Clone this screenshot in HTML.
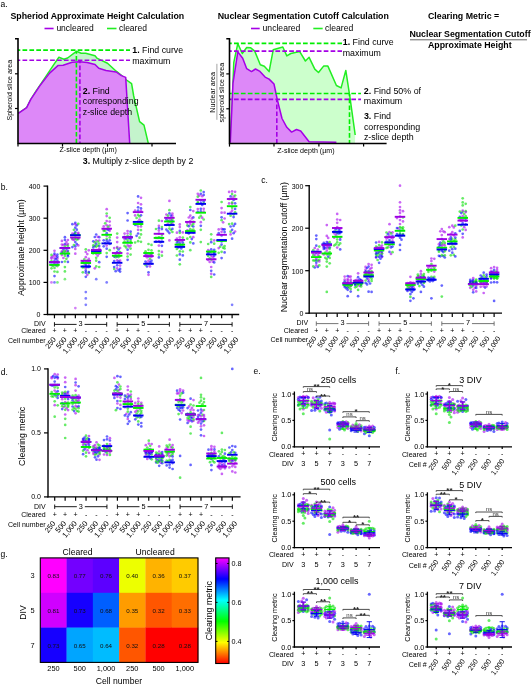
<!DOCTYPE html>
<html><head><meta charset="utf-8"><style>
html,body{margin:0;padding:0;background:#fff;}
svg{display:block;font-family:"Liberation Sans", Arial, sans-serif;}
</style></head><body>
<svg width="532" height="685" viewBox="0 0 532 685">
<rect width="532" height="685" fill="#fff"/>
<text x="0.50" y="6.50" font-size="8.5">a.</text>
<text x="97.30" y="19.10" font-size="8.8" text-anchor="middle" font-weight="bold">Spheriod Approximate Height Calculation</text>
<line x1="44.50" y1="28.50" x2="53.60" y2="28.50" stroke="#a500e6" stroke-width="1.6"/>
<text x="56.40" y="30.90" font-size="8.5">uncleared</text>
<line x1="107.00" y1="28.50" x2="116.50" y2="28.50" stroke="#22ee22" stroke-width="1.6"/>
<text x="119.00" y="30.90" font-size="8.5">cleared</text>
<polygon points="18.30,113.40 26.70,107.70 30.80,99.40 36.00,91.10 45.10,77.60 54.10,64.10 58.90,57.30 63.90,59.20 67.60,58.00 76.40,51.30 81.20,53.20 85.70,53.20 95.00,55.80 97.30,58.40 107.50,63.20 116.20,71.20 121.40,75.30 126.50,80.00 131.60,83.60 133.70,96.00 139.60,121.60 144.00,125.20 148.30,143.40 148.30,143.40 18.30,143.40" fill="#c4f4cc" stroke="none"/>
<polyline points="18.30,113.40 26.70,107.70 30.80,99.40 36.00,91.10 45.10,77.60 54.10,64.10 58.90,57.30 63.90,59.20 67.60,58.00 76.40,51.30 81.20,53.20 85.70,53.20 95.00,55.80 97.30,58.40 107.50,63.20 116.20,71.20 121.40,75.30 126.50,80.00 131.60,83.60 133.70,96.00 139.60,121.60 144.00,125.20 148.30,143.40" fill="none" stroke="#22ee22" stroke-width="1.5" stroke-linejoin="round"/>
<polygon points="18.30,113.40 26.70,107.70 30.80,99.40 39.80,85.90 49.60,73.10 57.90,65.60 63.10,65.30 72.10,62.30 79.70,61.80 87.20,62.60 95.00,64.40 98.80,68.30 106.00,70.50 116.20,72.00 121.40,75.60 125.70,77.40 129.70,143.40 18.30,143.40" fill="#dd88f8" stroke="none"/>
<polyline points="18.30,113.40 26.70,107.70 30.80,99.40 39.80,85.90 49.60,73.10 57.90,65.60 63.10,65.30 72.10,62.30 79.70,61.80 87.20,62.60 95.00,64.40 98.80,68.30 106.00,70.50 116.20,72.00 121.40,75.60 125.70,77.40 129.70,143.40" fill="none" stroke="#a500e6" stroke-width="1.5" stroke-linejoin="round"/>
<line x1="18.00" y1="50.10" x2="130.00" y2="50.10" stroke="#00ee00" stroke-width="1.6" stroke-dasharray="4.7 2.2" stroke-dashoffset="2.4"/>
<line x1="18.00" y1="60.30" x2="130.00" y2="60.30" stroke="#a500e6" stroke-width="1.6" stroke-dasharray="4.7 2.2" stroke-dashoffset="2.4"/>
<line x1="76.40" y1="51.50" x2="76.40" y2="143.00" stroke="#00ee00" stroke-width="1.6" stroke-dasharray="4.7 2.2" stroke-dashoffset="2.4"/>
<line x1="79.90" y1="61.00" x2="79.90" y2="143.00" stroke="#a500e6" stroke-width="1.6" stroke-dasharray="4.7 2.2" stroke-dashoffset="2.4"/>
<path d="M15,38.7 H18 V143.5 H176" fill="none" stroke="#000" stroke-width="1.6"/>
<line x1="15.00" y1="73.80" x2="18.00" y2="73.80" stroke="#000" stroke-width="1.2"/>
<line x1="15.00" y1="108.50" x2="18.00" y2="108.50" stroke="#000" stroke-width="1.2"/>
<line x1="18.00" y1="143.50" x2="18.00" y2="146.60" stroke="#000" stroke-width="1.2"/>
<line x1="62.50" y1="143.50" x2="62.50" y2="146.60" stroke="#000" stroke-width="1.2"/>
<line x1="107.50" y1="143.50" x2="107.50" y2="146.60" stroke="#000" stroke-width="1.2"/>
<line x1="152.00" y1="143.50" x2="152.00" y2="146.60" stroke="#000" stroke-width="1.2"/>
<text x="12.20" y="90.20" font-size="7.1" text-anchor="middle" transform="rotate(-90 12.20 90.20)">Spheroid slice area</text>
<text x="88.20" y="152.40" font-size="7.1" text-anchor="middle">Z-slice depth (µm)</text>
<text x="132.30" y="53.00" font-size="8.8"><tspan font-weight="bold">1.</tspan> Find curve</text>
<text x="132.30" y="64.10" font-size="8.8">maximum</text>
<text x="82.80" y="93.80" font-size="8.8"><tspan font-weight="bold">2.</tspan> Find</text>
<text x="82.80" y="104.40" font-size="8.8">corresponding</text>
<text x="82.80" y="115.00" font-size="8.8">z-slice depth</text>
<text x="82.80" y="164.40" font-size="8.8"><tspan font-weight="bold">3.</tspan> Multiply z-slice depth by 2</text>
<text x="303.30" y="18.90" font-size="8.8" text-anchor="middle" font-weight="bold">Nuclear Segmentation Cutoff Calculation</text>
<line x1="251.00" y1="28.50" x2="259.70" y2="28.50" stroke="#a500e6" stroke-width="1.6"/>
<text x="262.60" y="30.90" font-size="8.6">uncleared</text>
<line x1="313.30" y1="28.50" x2="322.70" y2="28.50" stroke="#22ee22" stroke-width="1.6"/>
<text x="325.00" y="30.90" font-size="8.6">cleared</text>
<polygon points="230.50,142.60 233.80,62.30 237.80,43.60 242.30,53.50 246.70,47.50 250.70,47.80 254.70,51.10 260.30,64.70 264.30,66.30 269.10,71.60 273.20,49.80 282.80,47.00 286.80,55.90 290.80,53.50 299.70,51.60 305.40,61.00 309.10,57.30 314.80,69.10 318.50,72.50 323.60,66.10 327.90,66.10 336.40,85.50 341.10,87.90 345.80,70.40 350.00,97.70 355.20,135.00 355.00,143.00 230.30,143.00" fill="#ccffcc" stroke="none"/>
<polyline points="230.50,142.60 233.80,62.30 237.80,43.60 242.30,53.50 246.70,47.50 250.70,47.80 254.70,51.10 260.30,64.70 264.30,66.30 269.10,71.60 273.20,49.80 282.80,47.00 286.80,55.90 290.80,53.50 299.70,51.60 305.40,61.00 309.10,57.30 314.80,69.10 318.50,72.50 323.60,66.10 327.90,66.10 336.40,85.50 341.10,87.90 345.80,70.40 350.00,97.70 355.20,135.00" fill="none" stroke="#22ee22" stroke-width="1.5" stroke-linejoin="round"/>
<polygon points="230.30,142.60 233.00,83.20 237.80,51.90 242.70,58.30 246.70,68.70 251.50,71.60 255.50,69.00 259.50,71.10 265.10,77.10 269.10,79.10 274.00,84.00 277.20,99.20 282.00,118.50 286.80,127.30 291.60,132.10 296.50,129.50 300.70,131.00 309.10,141.70 336.40,142.20 230.30,143.00" fill="#dd88f8" stroke="none"/>
<polyline points="230.30,142.60 233.00,83.20 237.80,51.90 242.70,58.30 246.70,68.70 251.50,71.60 255.50,69.00 259.50,71.10 265.10,77.10 269.10,79.10 274.00,84.00 277.20,99.20 282.00,118.50 286.80,127.30 291.60,132.10 296.50,129.50 300.70,131.00 309.10,141.70 336.40,142.20" fill="none" stroke="#a500e6" stroke-width="1.5" stroke-linejoin="round"/>
<line x1="229.50" y1="43.40" x2="342.00" y2="43.40" stroke="#00ee00" stroke-width="1.6" stroke-dasharray="4.7 2.2" stroke-dashoffset="2.4"/>
<line x1="229.50" y1="51.10" x2="342.00" y2="51.10" stroke="#a500e6" stroke-width="1.6" stroke-dasharray="4.7 2.2" stroke-dashoffset="2.4"/>
<line x1="229.50" y1="93.50" x2="361.00" y2="93.50" stroke="#00ee00" stroke-width="1.6" stroke-dasharray="4.7 2.2" stroke-dashoffset="2.4"/>
<line x1="229.50" y1="99.40" x2="361.00" y2="99.40" stroke="#a500e6" stroke-width="1.6" stroke-dasharray="4.7 2.2" stroke-dashoffset="2.4"/>
<line x1="276.80" y1="100.00" x2="276.80" y2="143.00" stroke="#a500e6" stroke-width="1.6" stroke-dasharray="4.7 2.2" stroke-dashoffset="2.4"/>
<line x1="349.50" y1="94.00" x2="349.50" y2="143.00" stroke="#00ee00" stroke-width="1.6" stroke-dasharray="4.7 2.2" stroke-dashoffset="2.4"/>
<path d="M226.3,38.7 H229.5 V143.5 H386.6" fill="none" stroke="#000" stroke-width="1.6"/>
<line x1="226.30" y1="73.90" x2="229.50" y2="73.90" stroke="#000" stroke-width="1.2"/>
<line x1="226.30" y1="108.80" x2="229.50" y2="108.80" stroke="#000" stroke-width="1.2"/>
<line x1="229.50" y1="143.50" x2="229.50" y2="146.60" stroke="#000" stroke-width="1.2"/>
<line x1="274.00" y1="143.50" x2="274.00" y2="146.60" stroke="#000" stroke-width="1.2"/>
<line x1="318.90" y1="143.50" x2="318.90" y2="146.60" stroke="#000" stroke-width="1.2"/>
<line x1="363.60" y1="143.50" x2="363.60" y2="146.60" stroke="#000" stroke-width="1.2"/>
<text x="215.20" y="92.30" font-size="7.1" text-anchor="middle" transform="rotate(-90 215.20 92.30)">Nuclear area</text>
<line x1="216.90" y1="63.80" x2="216.90" y2="119.80" stroke="#999" stroke-width="0.9"/>
<text x="224.30" y="92.60" font-size="7.1" text-anchor="middle" transform="rotate(-90 224.30 92.60)">spheroid slice area</text>
<text x="305.90" y="152.50" font-size="7.1" text-anchor="middle">Z-slice depth (µm)</text>
<text x="342.80" y="44.80" font-size="8.8"><tspan font-weight="bold">1.</tspan> Find curve</text>
<text x="342.80" y="56.00" font-size="8.8">maximum</text>
<text x="363.80" y="93.60" font-size="8.9"><tspan font-weight="bold">2.</tspan> Find 50% of</text>
<text x="363.80" y="104.00" font-size="8.9">maximum</text>
<text x="363.90" y="119.20" font-size="8.9"><tspan font-weight="bold">3.</tspan> Find</text>
<text x="363.90" y="129.80" font-size="8.9">corresponding</text>
<text x="363.90" y="140.40" font-size="8.9">z-slice depth</text>
<text x="463.60" y="18.90" font-size="8.8" text-anchor="middle" font-weight="bold">Clearing Metric =</text>
<text x="470.00" y="37.20" font-size="8.8" text-anchor="middle" font-weight="bold">Nuclear Segmentation Cutoff</text>
<line x1="410.00" y1="39.80" x2="527.00" y2="39.80" stroke="#666" stroke-width="1"/>
<text x="469.80" y="47.90" font-size="8.8" text-anchor="middle" font-weight="bold">Approximate Height</text>
<text x="0.80" y="190.20" font-size="8.5">b.</text>
<line x1="47.50" y1="185.50" x2="47.50" y2="315.10" stroke="#000" stroke-width="1.4"/>
<line x1="43.50" y1="314.50" x2="47.50" y2="314.50" stroke="#000" stroke-width="1.2"/>
<text x="40.40" y="317.00" font-size="7" text-anchor="end">0</text>
<line x1="43.50" y1="282.40" x2="47.50" y2="282.40" stroke="#000" stroke-width="1.2"/>
<text x="40.40" y="284.90" font-size="7" text-anchor="end">100</text>
<line x1="43.50" y1="250.30" x2="47.50" y2="250.30" stroke="#000" stroke-width="1.2"/>
<text x="40.40" y="252.80" font-size="7" text-anchor="end">200</text>
<line x1="43.50" y1="218.20" x2="47.50" y2="218.20" stroke="#000" stroke-width="1.2"/>
<text x="40.40" y="220.70" font-size="7" text-anchor="end">300</text>
<line x1="43.50" y1="186.10" x2="47.50" y2="186.10" stroke="#000" stroke-width="1.2"/>
<text x="40.40" y="188.60" font-size="7" text-anchor="end">400</text>
<text x="23.80" y="247.60" font-size="8.8" text-anchor="middle" transform="rotate(-90 23.80 247.60)">Approximate height (µm)</text>
<g fill="#a600ee" fill-opacity="0.6"><circle cx="54.5" cy="250.8" r="1.35"/><circle cx="54.5" cy="255.1" r="1.35"/><circle cx="55.9" cy="256.0" r="1.35"/><circle cx="53.0" cy="256.3" r="1.35"/><circle cx="51.5" cy="257.3" r="1.35"/><circle cx="54.5" cy="258.3" r="1.35"/><circle cx="57.4" cy="258.5" r="1.35"/><circle cx="51.5" cy="258.6" r="1.35"/><circle cx="54.5" cy="264.0" r="1.35"/><circle cx="57.4" cy="264.4" r="1.35"/></g>
<g fill="#0000ff" fill-opacity="0.6"><circle cx="54.5" cy="253.7" r="1.35"/><circle cx="57.4" cy="254.6" r="1.35"/><circle cx="57.4" cy="256.8" r="1.35"/><circle cx="55.9" cy="258.8" r="1.35"/><circle cx="54.5" cy="260.9" r="1.35"/><circle cx="57.4" cy="260.9" r="1.35"/><circle cx="51.5" cy="265.1" r="1.35"/><circle cx="55.9" cy="265.3" r="1.35"/><circle cx="54.5" cy="276.1" r="1.35"/></g>
<g fill="#00dd00" fill-opacity="0.6"><circle cx="51.5" cy="254.9" r="1.35"/><circle cx="51.5" cy="261.2" r="1.35"/><circle cx="53.0" cy="266.0" r="1.35"/><circle cx="57.4" cy="266.1" r="1.35"/><circle cx="54.5" cy="267.9" r="1.35"/><circle cx="51.5" cy="268.3" r="1.35"/><circle cx="54.5" cy="271.5" r="1.35"/><circle cx="57.4" cy="271.9" r="1.35"/></g>
<g fill="#0000ff" fill-opacity="0.6"><circle cx="64.9" cy="237.2" r="1.35"/><circle cx="64.9" cy="239.9" r="1.35"/><circle cx="64.9" cy="244.1" r="1.35"/><circle cx="66.4" cy="248.7" r="1.35"/><circle cx="63.4" cy="249.4" r="1.35"/><circle cx="67.9" cy="250.9" r="1.35"/><circle cx="61.9" cy="252.6" r="1.35"/><circle cx="64.9" cy="253.6" r="1.35"/><circle cx="67.9" cy="254.9" r="1.35"/><circle cx="67.9" cy="256.3" r="1.35"/><circle cx="67.9" cy="261.9" r="1.35"/><circle cx="61.9" cy="262.0" r="1.35"/></g>
<g fill="#a600ee" fill-opacity="0.6"><circle cx="67.9" cy="240.0" r="1.35"/><circle cx="61.9" cy="240.9" r="1.35"/><circle cx="66.4" cy="242.1" r="1.35"/><circle cx="67.9" cy="244.1" r="1.35"/><circle cx="61.9" cy="244.6" r="1.35"/><circle cx="66.4" cy="244.8" r="1.35"/><circle cx="63.4" cy="245.1" r="1.35"/><circle cx="61.9" cy="247.9" r="1.35"/><circle cx="61.9" cy="251.3" r="1.35"/><circle cx="66.4" cy="251.3" r="1.35"/><circle cx="61.9" cy="255.1" r="1.35"/><circle cx="63.4" cy="258.0" r="1.35"/></g>
<g fill="#00dd00" fill-opacity="0.6"><circle cx="67.9" cy="245.8" r="1.35"/><circle cx="64.9" cy="246.7" r="1.35"/><circle cx="64.9" cy="251.1" r="1.35"/><circle cx="63.4" cy="251.9" r="1.35"/><circle cx="67.9" cy="252.5" r="1.35"/><circle cx="64.9" cy="255.8" r="1.35"/><circle cx="66.4" cy="258.8" r="1.35"/><circle cx="64.9" cy="261.5" r="1.35"/><circle cx="64.9" cy="267.1" r="1.35"/><circle cx="64.9" cy="271.4" r="1.35"/></g>
<g fill="#0000ff" fill-opacity="0.6"><circle cx="75.3" cy="222.9" r="1.35"/><circle cx="72.4" cy="224.2" r="1.35"/><circle cx="76.8" cy="225.3" r="1.35"/><circle cx="75.3" cy="227.7" r="1.35"/><circle cx="76.8" cy="229.7" r="1.35"/><circle cx="75.3" cy="232.2" r="1.35"/><circle cx="73.9" cy="234.0" r="1.35"/><circle cx="75.3" cy="242.1" r="1.35"/><circle cx="76.8" cy="244.2" r="1.35"/><circle cx="75.3" cy="246.3" r="1.35"/><circle cx="72.4" cy="247.1" r="1.35"/></g>
<g fill="#00dd00" fill-opacity="0.6"><circle cx="78.3" cy="223.8" r="1.35"/><circle cx="73.9" cy="229.8" r="1.35"/><circle cx="75.3" cy="233.7" r="1.35"/><circle cx="75.3" cy="237.6" r="1.35"/><circle cx="72.4" cy="238.5" r="1.35"/><circle cx="75.3" cy="239.0" r="1.35"/><circle cx="78.3" cy="239.1" r="1.35"/><circle cx="76.8" cy="239.6" r="1.35"/><circle cx="73.9" cy="245.1" r="1.35"/></g>
<g fill="#a600ee" fill-opacity="0.6"><circle cx="75.3" cy="224.3" r="1.35"/><circle cx="78.3" cy="232.8" r="1.35"/><circle cx="72.4" cy="233.5" r="1.35"/><circle cx="78.3" cy="233.8" r="1.35"/><circle cx="78.3" cy="238.5" r="1.35"/><circle cx="72.4" cy="239.3" r="1.35"/><circle cx="73.9" cy="240.0" r="1.35"/><circle cx="78.3" cy="245.4" r="1.35"/><circle cx="75.3" cy="248.9" r="1.35"/><circle cx="75.3" cy="253.7" r="1.35"/></g>
<g fill="#00dd00" fill-opacity="0.6"><circle cx="85.8" cy="249.3" r="1.35"/><circle cx="84.3" cy="259.4" r="1.35"/><circle cx="87.3" cy="260.5" r="1.35"/><circle cx="82.8" cy="261.6" r="1.35"/><circle cx="85.8" cy="262.3" r="1.35"/><circle cx="82.8" cy="266.5" r="1.35"/><circle cx="84.3" cy="267.0" r="1.35"/><circle cx="82.8" cy="267.5" r="1.35"/><circle cx="82.8" cy="272.3" r="1.35"/><circle cx="88.8" cy="272.9" r="1.35"/></g>
<g fill="#a600ee" fill-opacity="0.6"><circle cx="88.8" cy="250.3" r="1.35"/><circle cx="85.8" cy="252.0" r="1.35"/><circle cx="87.3" cy="254.1" r="1.35"/><circle cx="85.8" cy="257.2" r="1.35"/><circle cx="88.8" cy="258.9" r="1.35"/><circle cx="88.8" cy="262.4" r="1.35"/><circle cx="87.3" cy="262.8" r="1.35"/><circle cx="84.3" cy="263.5" r="1.35"/><circle cx="88.8" cy="263.6" r="1.35"/><circle cx="85.8" cy="266.6" r="1.35"/><circle cx="85.8" cy="268.2" r="1.35"/><circle cx="87.3" cy="274.8" r="1.35"/></g>
<g fill="#0000ff" fill-opacity="0.6"><circle cx="82.8" cy="262.7" r="1.35"/><circle cx="85.8" cy="265.1" r="1.35"/><circle cx="88.8" cy="266.2" r="1.35"/><circle cx="87.3" cy="266.8" r="1.35"/><circle cx="88.8" cy="267.1" r="1.35"/><circle cx="85.8" cy="270.7" r="1.35"/><circle cx="88.8" cy="272.0" r="1.35"/><circle cx="85.8" cy="272.7" r="1.35"/><circle cx="85.8" cy="276.8" r="1.35"/></g>
<g fill="#0000ff" fill-opacity="0.6"><circle cx="96.2" cy="234.5" r="1.35"/><circle cx="94.8" cy="237.0" r="1.35"/><circle cx="99.2" cy="237.2" r="1.35"/><circle cx="93.3" cy="241.3" r="1.35"/><circle cx="96.2" cy="243.7" r="1.35"/><circle cx="94.8" cy="245.9" r="1.35"/><circle cx="99.2" cy="246.0" r="1.35"/><circle cx="93.3" cy="247.4" r="1.35"/><circle cx="96.2" cy="250.1" r="1.35"/><circle cx="99.2" cy="251.5" r="1.35"/><circle cx="97.7" cy="252.5" r="1.35"/><circle cx="99.2" cy="262.2" r="1.35"/></g>
<g fill="#a600ee" fill-opacity="0.6"><circle cx="97.7" cy="236.8" r="1.35"/><circle cx="96.2" cy="240.3" r="1.35"/><circle cx="99.2" cy="240.5" r="1.35"/><circle cx="99.2" cy="248.5" r="1.35"/><circle cx="99.2" cy="253.7" r="1.35"/><circle cx="96.2" cy="253.8" r="1.35"/><circle cx="97.7" cy="255.7" r="1.35"/><circle cx="94.8" cy="268.3" r="1.35"/></g>
<g fill="#00dd00" fill-opacity="0.6"><circle cx="97.7" cy="241.5" r="1.35"/><circle cx="94.8" cy="242.4" r="1.35"/><circle cx="99.2" cy="243.5" r="1.35"/><circle cx="93.3" cy="245.4" r="1.35"/><circle cx="97.7" cy="245.6" r="1.35"/><circle cx="96.2" cy="246.7" r="1.35"/><circle cx="94.8" cy="252.4" r="1.35"/><circle cx="93.3" cy="253.4" r="1.35"/><circle cx="96.2" cy="257.8" r="1.35"/><circle cx="96.2" cy="260.7" r="1.35"/><circle cx="96.2" cy="266.4" r="1.35"/><circle cx="99.2" cy="267.0" r="1.35"/></g>
<g fill="#a600ee" fill-opacity="0.6"><circle cx="106.7" cy="209.2" r="1.35"/><circle cx="106.7" cy="216.1" r="1.35"/><circle cx="106.7" cy="221.1" r="1.35"/><circle cx="109.7" cy="221.6" r="1.35"/><circle cx="106.7" cy="225.3" r="1.35"/><circle cx="109.7" cy="225.5" r="1.35"/><circle cx="103.7" cy="226.4" r="1.35"/><circle cx="109.7" cy="229.0" r="1.35"/><circle cx="103.7" cy="229.6" r="1.35"/><circle cx="109.7" cy="230.8" r="1.35"/><circle cx="106.7" cy="235.7" r="1.35"/><circle cx="106.7" cy="245.6" r="1.35"/></g>
<g fill="#00dd00" fill-opacity="0.6"><circle cx="106.7" cy="213.5" r="1.35"/><circle cx="109.7" cy="217.8" r="1.35"/><circle cx="105.2" cy="223.3" r="1.35"/><circle cx="108.2" cy="226.9" r="1.35"/><circle cx="105.2" cy="230.7" r="1.35"/><circle cx="103.7" cy="230.8" r="1.35"/><circle cx="109.7" cy="237.4" r="1.35"/><circle cx="106.7" cy="238.9" r="1.35"/><circle cx="109.7" cy="250.2" r="1.35"/><circle cx="106.7" cy="253.1" r="1.35"/></g>
<g fill="#0000ff" fill-opacity="0.6"><circle cx="106.7" cy="229.0" r="1.35"/><circle cx="108.2" cy="229.8" r="1.35"/><circle cx="106.7" cy="233.2" r="1.35"/><circle cx="109.7" cy="240.3" r="1.35"/><circle cx="103.7" cy="240.3" r="1.35"/><circle cx="106.7" cy="240.7" r="1.35"/><circle cx="108.2" cy="242.3" r="1.35"/><circle cx="105.2" cy="243.2" r="1.35"/><circle cx="109.7" cy="244.0" r="1.35"/><circle cx="103.7" cy="246.3" r="1.35"/><circle cx="106.7" cy="248.7" r="1.35"/><circle cx="106.7" cy="256.8" r="1.35"/></g>
<g fill="#00dd00" fill-opacity="0.6"><circle cx="117.2" cy="233.6" r="1.35"/><circle cx="117.2" cy="248.1" r="1.35"/><circle cx="120.1" cy="252.2" r="1.35"/><circle cx="118.6" cy="254.1" r="1.35"/><circle cx="120.1" cy="256.0" r="1.35"/><circle cx="118.6" cy="257.1" r="1.35"/><circle cx="115.7" cy="257.2" r="1.35"/><circle cx="114.2" cy="269.0" r="1.35"/></g>
<g fill="#a600ee" fill-opacity="0.6"><circle cx="117.2" cy="237.6" r="1.35"/><circle cx="117.2" cy="242.1" r="1.35"/><circle cx="117.2" cy="247.1" r="1.35"/><circle cx="120.1" cy="248.0" r="1.35"/><circle cx="114.2" cy="248.1" r="1.35"/><circle cx="115.7" cy="255.1" r="1.35"/><circle cx="117.2" cy="260.4" r="1.35"/><circle cx="120.1" cy="260.7" r="1.35"/><circle cx="120.1" cy="265.6" r="1.35"/><circle cx="117.2" cy="268.4" r="1.35"/></g>
<g fill="#0000ff" fill-opacity="0.6"><circle cx="118.6" cy="249.5" r="1.35"/><circle cx="117.2" cy="252.1" r="1.35"/><circle cx="117.2" cy="256.3" r="1.35"/><circle cx="114.2" cy="256.6" r="1.35"/><circle cx="114.2" cy="261.0" r="1.35"/><circle cx="118.6" cy="261.7" r="1.35"/><circle cx="117.2" cy="265.3" r="1.35"/><circle cx="114.2" cy="267.0" r="1.35"/><circle cx="120.1" cy="268.9" r="1.35"/><circle cx="118.6" cy="270.3" r="1.35"/><circle cx="115.7" cy="271.2" r="1.35"/><circle cx="120.1" cy="271.6" r="1.35"/></g>
<g fill="#0000ff" fill-opacity="0.6"><circle cx="127.6" cy="213.1" r="1.35"/><circle cx="127.6" cy="220.5" r="1.35"/><circle cx="130.6" cy="231.7" r="1.35"/><circle cx="130.6" cy="236.5" r="1.35"/><circle cx="129.1" cy="237.9" r="1.35"/><circle cx="126.1" cy="238.5" r="1.35"/><circle cx="130.6" cy="238.9" r="1.35"/><circle cx="127.6" cy="242.0" r="1.35"/><circle cx="127.6" cy="249.7" r="1.35"/><circle cx="127.6" cy="259.8" r="1.35"/></g>
<g fill="#a600ee" fill-opacity="0.6"><circle cx="127.6" cy="231.0" r="1.35"/><circle cx="127.6" cy="233.5" r="1.35"/><circle cx="124.6" cy="233.6" r="1.35"/><circle cx="124.6" cy="236.8" r="1.35"/><circle cx="124.6" cy="238.9" r="1.35"/><circle cx="127.6" cy="245.3" r="1.35"/><circle cx="130.6" cy="245.6" r="1.35"/><circle cx="129.1" cy="246.6" r="1.35"/><circle cx="127.6" cy="253.5" r="1.35"/></g>
<g fill="#00dd00" fill-opacity="0.6"><circle cx="130.6" cy="234.0" r="1.35"/><circle cx="127.6" cy="236.1" r="1.35"/><circle cx="127.6" cy="239.9" r="1.35"/><circle cx="130.6" cy="241.0" r="1.35"/><circle cx="124.6" cy="241.6" r="1.35"/><circle cx="130.6" cy="242.5" r="1.35"/><circle cx="124.6" cy="245.9" r="1.35"/><circle cx="126.1" cy="247.4" r="1.35"/><circle cx="130.6" cy="248.6" r="1.35"/><circle cx="130.6" cy="254.6" r="1.35"/><circle cx="127.6" cy="256.5" r="1.35"/></g>
<g fill="#0000ff" fill-opacity="0.6"><circle cx="138.1" cy="196.4" r="1.35"/><circle cx="138.1" cy="207.3" r="1.35"/><circle cx="141.0" cy="208.4" r="1.35"/><circle cx="138.1" cy="210.5" r="1.35"/><circle cx="141.0" cy="215.3" r="1.35"/><circle cx="136.6" cy="224.5" r="1.35"/><circle cx="135.1" cy="224.8" r="1.35"/><circle cx="138.1" cy="233.5" r="1.35"/><circle cx="136.6" cy="235.8" r="1.35"/></g>
<g fill="#a600ee" fill-opacity="0.6"><circle cx="141.0" cy="197.8" r="1.35"/><circle cx="138.1" cy="203.0" r="1.35"/><circle cx="141.0" cy="204.3" r="1.35"/><circle cx="135.1" cy="210.6" r="1.35"/><circle cx="141.0" cy="210.8" r="1.35"/><circle cx="135.1" cy="215.4" r="1.35"/><circle cx="139.5" cy="219.5" r="1.35"/><circle cx="138.1" cy="221.5" r="1.35"/><circle cx="138.1" cy="226.5" r="1.35"/><circle cx="141.0" cy="226.5" r="1.35"/><circle cx="138.1" cy="229.8" r="1.35"/></g>
<g fill="#00dd00" fill-opacity="0.6"><circle cx="138.1" cy="214.9" r="1.35"/><circle cx="139.5" cy="216.4" r="1.35"/><circle cx="136.6" cy="217.9" r="1.35"/><circle cx="141.0" cy="221.6" r="1.35"/><circle cx="139.5" cy="223.7" r="1.35"/><circle cx="141.0" cy="224.5" r="1.35"/><circle cx="141.0" cy="230.1" r="1.35"/><circle cx="141.0" cy="234.4" r="1.35"/><circle cx="139.5" cy="237.7" r="1.35"/><circle cx="138.1" cy="241.2" r="1.35"/><circle cx="141.0" cy="241.8" r="1.35"/><circle cx="135.1" cy="242.5" r="1.35"/></g>
<g fill="#00dd00" fill-opacity="0.6"><circle cx="148.5" cy="244.0" r="1.35"/><circle cx="151.5" cy="244.9" r="1.35"/><circle cx="148.5" cy="249.8" r="1.35"/><circle cx="151.5" cy="250.4" r="1.35"/><circle cx="145.5" cy="251.3" r="1.35"/><circle cx="148.5" cy="253.4" r="1.35"/><circle cx="151.5" cy="253.6" r="1.35"/><circle cx="150.0" cy="254.5" r="1.35"/><circle cx="150.0" cy="258.7" r="1.35"/><circle cx="145.5" cy="264.9" r="1.35"/></g>
<g fill="#0000ff" fill-opacity="0.6"><circle cx="145.5" cy="253.6" r="1.35"/><circle cx="148.5" cy="256.3" r="1.35"/><circle cx="151.5" cy="260.7" r="1.35"/><circle cx="145.5" cy="261.6" r="1.35"/><circle cx="150.0" cy="262.2" r="1.35"/><circle cx="151.5" cy="263.6" r="1.35"/><circle cx="148.5" cy="264.1" r="1.35"/><circle cx="147.0" cy="266.5" r="1.35"/><circle cx="148.5" cy="272.3" r="1.35"/></g>
<g fill="#a600ee" fill-opacity="0.6"><circle cx="147.0" cy="254.7" r="1.35"/><circle cx="151.5" cy="255.1" r="1.35"/><circle cx="145.5" cy="255.8" r="1.35"/><circle cx="151.5" cy="256.7" r="1.35"/><circle cx="147.0" cy="257.3" r="1.35"/><circle cx="148.5" cy="260.7" r="1.35"/><circle cx="147.0" cy="262.8" r="1.35"/><circle cx="150.0" cy="266.4" r="1.35"/><circle cx="148.5" cy="274.8" r="1.35"/></g>
<g fill="#00dd00" fill-opacity="0.6"><circle cx="158.9" cy="220.7" r="1.35"/><circle cx="161.9" cy="227.0" r="1.35"/><circle cx="156.0" cy="229.0" r="1.35"/><circle cx="161.9" cy="234.8" r="1.35"/><circle cx="158.9" cy="237.3" r="1.35"/><circle cx="157.5" cy="238.0" r="1.35"/><circle cx="161.9" cy="238.4" r="1.35"/><circle cx="158.9" cy="251.1" r="1.35"/><circle cx="158.9" cy="254.6" r="1.35"/><circle cx="161.9" cy="255.7" r="1.35"/></g>
<g fill="#a600ee" fill-opacity="0.6"><circle cx="161.9" cy="221.0" r="1.35"/><circle cx="158.9" cy="225.8" r="1.35"/><circle cx="158.9" cy="230.6" r="1.35"/><circle cx="158.9" cy="233.6" r="1.35"/><circle cx="156.0" cy="237.9" r="1.35"/><circle cx="160.4" cy="237.9" r="1.35"/><circle cx="158.9" cy="241.2" r="1.35"/><circle cx="158.9" cy="245.6" r="1.35"/><circle cx="161.9" cy="251.9" r="1.35"/></g>
<g fill="#0000ff" fill-opacity="0.6"><circle cx="158.9" cy="228.2" r="1.35"/><circle cx="161.9" cy="229.1" r="1.35"/><circle cx="161.9" cy="237.8" r="1.35"/><circle cx="161.9" cy="241.5" r="1.35"/><circle cx="156.0" cy="241.7" r="1.35"/><circle cx="160.4" cy="242.2" r="1.35"/><circle cx="161.9" cy="245.8" r="1.35"/><circle cx="158.9" cy="257.4" r="1.35"/></g>
<g fill="#a600ee" fill-opacity="0.6"><circle cx="169.4" cy="200.9" r="1.35"/><circle cx="172.4" cy="213.5" r="1.35"/><circle cx="166.4" cy="214.5" r="1.35"/><circle cx="172.4" cy="215.7" r="1.35"/><circle cx="169.4" cy="218.4" r="1.35"/><circle cx="170.9" cy="219.8" r="1.35"/><circle cx="167.9" cy="223.8" r="1.35"/><circle cx="172.4" cy="223.8" r="1.35"/><circle cx="166.4" cy="225.0" r="1.35"/><circle cx="169.4" cy="240.4" r="1.35"/></g>
<g fill="#00dd00" fill-opacity="0.6"><circle cx="169.4" cy="210.2" r="1.35"/><circle cx="167.9" cy="215.7" r="1.35"/><circle cx="172.4" cy="218.9" r="1.35"/><circle cx="167.9" cy="220.9" r="1.35"/><circle cx="170.9" cy="223.7" r="1.35"/><circle cx="169.4" cy="225.5" r="1.35"/><circle cx="169.4" cy="228.6" r="1.35"/><circle cx="170.9" cy="230.1" r="1.35"/><circle cx="172.4" cy="232.0" r="1.35"/></g>
<g fill="#0000ff" fill-opacity="0.6"><circle cx="169.4" cy="213.3" r="1.35"/><circle cx="170.9" cy="215.6" r="1.35"/><circle cx="166.4" cy="219.4" r="1.35"/><circle cx="172.4" cy="221.4" r="1.35"/><circle cx="169.4" cy="221.5" r="1.35"/><circle cx="172.4" cy="228.9" r="1.35"/><circle cx="166.4" cy="229.6" r="1.35"/><circle cx="167.9" cy="231.3" r="1.35"/><circle cx="169.4" cy="233.1" r="1.35"/></g>
<g fill="#a600ee" fill-opacity="0.6"><circle cx="179.8" cy="224.4" r="1.35"/><circle cx="179.8" cy="227.1" r="1.35"/><circle cx="182.8" cy="232.4" r="1.35"/><circle cx="176.9" cy="232.7" r="1.35"/><circle cx="179.8" cy="237.3" r="1.35"/><circle cx="176.9" cy="238.7" r="1.35"/><circle cx="179.8" cy="240.0" r="1.35"/><circle cx="182.8" cy="240.0" r="1.35"/><circle cx="181.3" cy="241.2" r="1.35"/><circle cx="182.8" cy="244.5" r="1.35"/><circle cx="176.9" cy="245.6" r="1.35"/></g>
<g fill="#0000ff" fill-opacity="0.6"><circle cx="179.8" cy="230.9" r="1.35"/><circle cx="178.4" cy="241.4" r="1.35"/><circle cx="182.8" cy="242.5" r="1.35"/><circle cx="176.9" cy="242.7" r="1.35"/><circle cx="179.8" cy="243.3" r="1.35"/><circle cx="179.8" cy="246.2" r="1.35"/><circle cx="178.4" cy="247.5" r="1.35"/><circle cx="181.3" cy="248.4" r="1.35"/><circle cx="179.8" cy="254.4" r="1.35"/><circle cx="182.8" cy="255.4" r="1.35"/><circle cx="179.8" cy="259.7" r="1.35"/></g>
<g fill="#00dd00" fill-opacity="0.6"><circle cx="179.8" cy="232.8" r="1.35"/><circle cx="182.8" cy="237.6" r="1.35"/><circle cx="176.9" cy="240.5" r="1.35"/><circle cx="178.4" cy="244.6" r="1.35"/><circle cx="181.3" cy="245.5" r="1.35"/><circle cx="182.8" cy="246.6" r="1.35"/><circle cx="176.9" cy="249.0" r="1.35"/><circle cx="179.8" cy="251.4" r="1.35"/><circle cx="182.8" cy="251.5" r="1.35"/><circle cx="176.9" cy="255.5" r="1.35"/><circle cx="179.8" cy="264.3" r="1.35"/></g>
<g fill="#00dd00" fill-opacity="0.6"><circle cx="190.3" cy="207.1" r="1.35"/><circle cx="193.3" cy="221.8" r="1.35"/><circle cx="193.3" cy="223.9" r="1.35"/><circle cx="187.3" cy="225.4" r="1.35"/><circle cx="191.8" cy="225.6" r="1.35"/><circle cx="190.3" cy="229.2" r="1.35"/><circle cx="193.3" cy="229.5" r="1.35"/><circle cx="191.8" cy="230.9" r="1.35"/><circle cx="190.3" cy="237.0" r="1.35"/><circle cx="187.3" cy="238.7" r="1.35"/><circle cx="190.3" cy="242.4" r="1.35"/><circle cx="190.3" cy="250.2" r="1.35"/></g>
<g fill="#0000ff" fill-opacity="0.6"><circle cx="190.3" cy="210.0" r="1.35"/><circle cx="193.3" cy="217.4" r="1.35"/><circle cx="188.8" cy="226.2" r="1.35"/><circle cx="193.3" cy="226.5" r="1.35"/><circle cx="190.3" cy="232.0" r="1.35"/><circle cx="187.3" cy="232.2" r="1.35"/><circle cx="193.3" cy="232.3" r="1.35"/><circle cx="188.8" cy="233.5" r="1.35"/><circle cx="191.8" cy="239.1" r="1.35"/><circle cx="193.3" cy="243.4" r="1.35"/></g>
<g fill="#a600ee" fill-opacity="0.6"><circle cx="193.3" cy="211.1" r="1.35"/><circle cx="190.3" cy="215.7" r="1.35"/><circle cx="188.8" cy="217.5" r="1.35"/><circle cx="191.8" cy="218.4" r="1.35"/><circle cx="190.3" cy="221.2" r="1.35"/><circle cx="187.3" cy="222.8" r="1.35"/><circle cx="190.3" cy="223.8" r="1.35"/><circle cx="187.3" cy="230.4" r="1.35"/><circle cx="188.8" cy="231.1" r="1.35"/><circle cx="193.3" cy="231.4" r="1.35"/><circle cx="193.3" cy="237.2" r="1.35"/></g>
<g fill="#00dd00" fill-opacity="0.6"><circle cx="200.8" cy="190.5" r="1.35"/><circle cx="197.8" cy="196.7" r="1.35"/><circle cx="197.8" cy="202.0" r="1.35"/><circle cx="203.7" cy="203.1" r="1.35"/><circle cx="197.8" cy="203.1" r="1.35"/><circle cx="200.8" cy="215.8" r="1.35"/><circle cx="199.3" cy="217.7" r="1.35"/><circle cx="203.7" cy="219.5" r="1.35"/><circle cx="200.8" cy="229.8" r="1.35"/><circle cx="200.8" cy="242.1" r="1.35"/></g>
<g fill="#0000ff" fill-opacity="0.6"><circle cx="203.7" cy="192.0" r="1.35"/><circle cx="200.8" cy="193.8" r="1.35"/><circle cx="203.7" cy="194.9" r="1.35"/><circle cx="200.8" cy="200.3" r="1.35"/><circle cx="203.7" cy="201.2" r="1.35"/><circle cx="200.8" cy="203.0" r="1.35"/><circle cx="202.2" cy="204.9" r="1.35"/><circle cx="200.8" cy="208.8" r="1.35"/><circle cx="200.8" cy="211.4" r="1.35"/><circle cx="197.8" cy="211.9" r="1.35"/><circle cx="200.8" cy="225.8" r="1.35"/></g>
<g fill="#a600ee" fill-opacity="0.6"><circle cx="197.8" cy="193.8" r="1.35"/><circle cx="199.3" cy="195.6" r="1.35"/><circle cx="202.2" cy="196.2" r="1.35"/><circle cx="203.7" cy="208.8" r="1.35"/><circle cx="197.8" cy="209.1" r="1.35"/><circle cx="203.7" cy="211.7" r="1.35"/><circle cx="202.2" cy="217.7" r="1.35"/><circle cx="200.8" cy="222.2" r="1.35"/></g>
<g fill="#00dd00" fill-opacity="0.6"><circle cx="211.2" cy="234.3" r="1.35"/><circle cx="211.2" cy="239.5" r="1.35"/><circle cx="214.2" cy="243.7" r="1.35"/><circle cx="208.2" cy="244.0" r="1.35"/><circle cx="212.7" cy="251.5" r="1.35"/><circle cx="211.2" cy="252.1" r="1.35"/><circle cx="208.2" cy="255.9" r="1.35"/><circle cx="209.7" cy="258.4" r="1.35"/><circle cx="211.2" cy="259.6" r="1.35"/><circle cx="211.2" cy="276.9" r="1.35"/></g>
<g fill="#a600ee" fill-opacity="0.6"><circle cx="214.2" cy="240.4" r="1.35"/><circle cx="208.2" cy="250.2" r="1.35"/><circle cx="208.2" cy="252.1" r="1.35"/><circle cx="211.2" cy="255.7" r="1.35"/><circle cx="212.7" cy="257.2" r="1.35"/><circle cx="214.2" cy="259.2" r="1.35"/><circle cx="208.2" cy="259.9" r="1.35"/><circle cx="212.7" cy="261.7" r="1.35"/><circle cx="209.7" cy="262.0" r="1.35"/><circle cx="211.2" cy="267.0" r="1.35"/><circle cx="211.2" cy="273.8" r="1.35"/></g>
<g fill="#0000ff" fill-opacity="0.6"><circle cx="211.2" cy="242.2" r="1.35"/><circle cx="211.2" cy="249.4" r="1.35"/><circle cx="214.2" cy="249.8" r="1.35"/><circle cx="209.7" cy="251.9" r="1.35"/><circle cx="214.2" cy="252.0" r="1.35"/><circle cx="214.2" cy="252.9" r="1.35"/><circle cx="208.2" cy="253.2" r="1.35"/><circle cx="214.2" cy="255.8" r="1.35"/><circle cx="214.2" cy="262.4" r="1.35"/><circle cx="211.2" cy="270.8" r="1.35"/><circle cx="214.2" cy="274.5" r="1.35"/></g>
<g fill="#00dd00" fill-opacity="0.6"><circle cx="221.6" cy="202.0" r="1.35"/><circle cx="221.6" cy="220.2" r="1.35"/><circle cx="224.6" cy="246.1" r="1.35"/><circle cx="220.2" cy="246.7" r="1.35"/><circle cx="223.1" cy="247.7" r="1.35"/><circle cx="224.6" cy="248.5" r="1.35"/><circle cx="221.6" cy="251.8" r="1.35"/><circle cx="218.7" cy="252.8" r="1.35"/></g>
<g fill="#a600ee" fill-opacity="0.6"><circle cx="221.6" cy="208.1" r="1.35"/><circle cx="221.6" cy="212.7" r="1.35"/><circle cx="224.6" cy="212.7" r="1.35"/><circle cx="224.6" cy="218.5" r="1.35"/><circle cx="223.1" cy="222.3" r="1.35"/><circle cx="221.6" cy="228.8" r="1.35"/><circle cx="218.7" cy="229.4" r="1.35"/><circle cx="221.6" cy="231.8" r="1.35"/><circle cx="218.7" cy="248.1" r="1.35"/></g>
<g fill="#0000ff" fill-opacity="0.6"><circle cx="221.6" cy="217.3" r="1.35"/><circle cx="224.6" cy="229.3" r="1.35"/><circle cx="223.1" cy="229.4" r="1.35"/><circle cx="224.6" cy="232.1" r="1.35"/><circle cx="218.7" cy="233.2" r="1.35"/><circle cx="221.6" cy="235.4" r="1.35"/><circle cx="221.6" cy="241.4" r="1.35"/><circle cx="221.6" cy="244.6" r="1.35"/><circle cx="224.6" cy="252.4" r="1.35"/><circle cx="221.6" cy="258.1" r="1.35"/></g>
<g fill="#a600ee" fill-opacity="0.6"><circle cx="232.1" cy="191.4" r="1.35"/><circle cx="235.1" cy="191.8" r="1.35"/><circle cx="229.1" cy="191.9" r="1.35"/><circle cx="233.6" cy="196.6" r="1.35"/><circle cx="232.1" cy="198.5" r="1.35"/><circle cx="229.1" cy="203.4" r="1.35"/><circle cx="232.1" cy="203.7" r="1.35"/><circle cx="232.1" cy="210.7" r="1.35"/><circle cx="230.6" cy="212.7" r="1.35"/><circle cx="235.1" cy="231.5" r="1.35"/><circle cx="230.6" cy="234.4" r="1.35"/></g>
<g fill="#00dd00" fill-opacity="0.6"><circle cx="232.1" cy="194.1" r="1.35"/><circle cx="235.1" cy="195.5" r="1.35"/><circle cx="235.1" cy="198.9" r="1.35"/><circle cx="229.1" cy="199.1" r="1.35"/><circle cx="232.1" cy="202.6" r="1.35"/><circle cx="232.1" cy="207.8" r="1.35"/><circle cx="235.1" cy="212.3" r="1.35"/><circle cx="233.6" cy="214.4" r="1.35"/><circle cx="230.6" cy="215.7" r="1.35"/><circle cx="232.1" cy="223.7" r="1.35"/><circle cx="229.1" cy="224.1" r="1.35"/><circle cx="230.6" cy="231.7" r="1.35"/></g>
<g fill="#0000ff" fill-opacity="0.6"><circle cx="230.6" cy="196.4" r="1.35"/><circle cx="233.6" cy="200.0" r="1.35"/><circle cx="235.1" cy="203.3" r="1.35"/><circle cx="235.1" cy="208.9" r="1.35"/><circle cx="233.6" cy="217.1" r="1.35"/><circle cx="235.1" cy="223.9" r="1.35"/><circle cx="233.6" cy="225.9" r="1.35"/><circle cx="230.6" cy="226.5" r="1.35"/><circle cx="232.1" cy="229.8" r="1.35"/><circle cx="233.6" cy="233.2" r="1.35"/><circle cx="232.1" cy="238.7" r="1.35"/></g>
<line x1="49.20" y1="264.90" x2="59.70" y2="264.90" stroke="#00ee00" stroke-width="1.9"/>
<line x1="49.20" y1="262.40" x2="59.70" y2="262.40" stroke="#0000ee" stroke-width="1.9"/>
<line x1="49.20" y1="262.00" x2="59.70" y2="262.00" stroke="#9c00e2" stroke-width="1.9"/>
<line x1="59.65" y1="253.60" x2="70.15" y2="253.60" stroke="#00ee00" stroke-width="1.9"/>
<line x1="59.65" y1="248.00" x2="70.15" y2="248.00" stroke="#0000ee" stroke-width="1.9"/>
<line x1="59.65" y1="248.10" x2="70.15" y2="248.10" stroke="#9c00e2" stroke-width="1.9"/>
<line x1="70.10" y1="235.20" x2="80.60" y2="235.20" stroke="#00ee00" stroke-width="1.9"/>
<line x1="70.10" y1="235.20" x2="80.60" y2="235.20" stroke="#0000ee" stroke-width="1.9"/>
<line x1="70.10" y1="237.50" x2="80.60" y2="237.50" stroke="#9c00e2" stroke-width="1.9"/>
<line x1="80.55" y1="263.00" x2="91.05" y2="263.00" stroke="#00ee00" stroke-width="1.9"/>
<line x1="80.55" y1="266.50" x2="91.05" y2="266.50" stroke="#0000ee" stroke-width="1.9"/>
<line x1="80.55" y1="260.80" x2="91.05" y2="260.80" stroke="#9c00e2" stroke-width="1.9"/>
<line x1="91.00" y1="253.00" x2="101.50" y2="253.00" stroke="#00ee00" stroke-width="1.9"/>
<line x1="91.00" y1="251.00" x2="101.50" y2="251.00" stroke="#0000ee" stroke-width="1.9"/>
<line x1="91.00" y1="249.90" x2="101.50" y2="249.90" stroke="#9c00e2" stroke-width="1.9"/>
<line x1="101.45" y1="234.80" x2="111.95" y2="234.80" stroke="#00ee00" stroke-width="1.9"/>
<line x1="101.45" y1="243.40" x2="111.95" y2="243.40" stroke="#0000ee" stroke-width="1.9"/>
<line x1="101.45" y1="228.70" x2="111.95" y2="228.70" stroke="#9c00e2" stroke-width="1.9"/>
<line x1="111.90" y1="255.70" x2="122.40" y2="255.70" stroke="#00ee00" stroke-width="1.9"/>
<line x1="111.90" y1="262.80" x2="122.40" y2="262.80" stroke="#0000ee" stroke-width="1.9"/>
<line x1="111.90" y1="253.00" x2="122.40" y2="253.00" stroke="#9c00e2" stroke-width="1.9"/>
<line x1="122.35" y1="242.80" x2="132.85" y2="242.80" stroke="#00ee00" stroke-width="1.9"/>
<line x1="122.35" y1="237.30" x2="132.85" y2="237.30" stroke="#0000ee" stroke-width="1.9"/>
<line x1="122.35" y1="237.30" x2="132.85" y2="237.30" stroke="#9c00e2" stroke-width="1.9"/>
<line x1="132.80" y1="224.00" x2="143.30" y2="224.00" stroke="#00ee00" stroke-width="1.9"/>
<line x1="132.80" y1="221.90" x2="143.30" y2="221.90" stroke="#0000ee" stroke-width="1.9"/>
<line x1="132.80" y1="212.10" x2="143.30" y2="212.10" stroke="#9c00e2" stroke-width="1.9"/>
<line x1="143.25" y1="253.00" x2="153.75" y2="253.00" stroke="#00ee00" stroke-width="1.9"/>
<line x1="143.25" y1="263.80" x2="153.75" y2="263.80" stroke="#0000ee" stroke-width="1.9"/>
<line x1="143.25" y1="256.10" x2="153.75" y2="256.10" stroke="#9c00e2" stroke-width="1.9"/>
<line x1="153.70" y1="237.90" x2="164.20" y2="237.90" stroke="#00ee00" stroke-width="1.9"/>
<line x1="153.70" y1="241.80" x2="164.20" y2="241.80" stroke="#0000ee" stroke-width="1.9"/>
<line x1="153.70" y1="233.80" x2="164.20" y2="233.80" stroke="#9c00e2" stroke-width="1.9"/>
<line x1="164.15" y1="221.50" x2="174.65" y2="221.50" stroke="#00ee00" stroke-width="1.9"/>
<line x1="164.15" y1="225.00" x2="174.65" y2="225.00" stroke="#0000ee" stroke-width="1.9"/>
<line x1="164.15" y1="217.80" x2="174.65" y2="217.80" stroke="#9c00e2" stroke-width="1.9"/>
<line x1="174.60" y1="244.60" x2="185.10" y2="244.60" stroke="#00ee00" stroke-width="1.9"/>
<line x1="174.60" y1="246.90" x2="185.10" y2="246.90" stroke="#0000ee" stroke-width="1.9"/>
<line x1="174.60" y1="239.90" x2="185.10" y2="239.90" stroke="#9c00e2" stroke-width="1.9"/>
<line x1="185.05" y1="231.10" x2="195.55" y2="231.10" stroke="#00ee00" stroke-width="1.9"/>
<line x1="185.05" y1="232.80" x2="195.55" y2="232.80" stroke="#0000ee" stroke-width="1.9"/>
<line x1="185.05" y1="221.90" x2="195.55" y2="221.90" stroke="#9c00e2" stroke-width="1.9"/>
<line x1="195.50" y1="212.70" x2="206.00" y2="212.70" stroke="#00ee00" stroke-width="1.9"/>
<line x1="195.50" y1="203.90" x2="206.00" y2="203.90" stroke="#0000ee" stroke-width="1.9"/>
<line x1="195.50" y1="199.80" x2="206.00" y2="199.80" stroke="#9c00e2" stroke-width="1.9"/>
<line x1="205.95" y1="251.60" x2="216.45" y2="251.60" stroke="#00ee00" stroke-width="1.9"/>
<line x1="205.95" y1="254.40" x2="216.45" y2="254.40" stroke="#0000ee" stroke-width="1.9"/>
<line x1="205.95" y1="259.30" x2="216.45" y2="259.30" stroke="#9c00e2" stroke-width="1.9"/>
<line x1="216.40" y1="240.90" x2="226.90" y2="240.90" stroke="#00ee00" stroke-width="1.9"/>
<line x1="216.40" y1="240.00" x2="226.90" y2="240.00" stroke="#0000ee" stroke-width="1.9"/>
<line x1="216.40" y1="234.80" x2="226.90" y2="234.80" stroke="#9c00e2" stroke-width="1.9"/>
<line x1="226.85" y1="206.20" x2="237.35" y2="206.20" stroke="#00ee00" stroke-width="1.9"/>
<line x1="226.85" y1="213.70" x2="237.35" y2="213.70" stroke="#0000ee" stroke-width="1.9"/>
<line x1="226.85" y1="199.00" x2="237.35" y2="199.00" stroke="#9c00e2" stroke-width="1.9"/>
<circle cx="54.45" cy="282.40" r="1.35" fill="#0000ff" fill-opacity="0.5"/>
<circle cx="51.45" cy="282.40" r="1.35" fill="#a600ee" fill-opacity="0.5"/>
<circle cx="57.45" cy="282.40" r="1.35" fill="#00dd00" fill-opacity="0.5"/>
<circle cx="75.35" cy="308.08" r="1.35" fill="#a600ee" fill-opacity="0.5"/>
<circle cx="85.80" cy="304.87" r="1.35" fill="#0000ff" fill-opacity="0.5"/>
<circle cx="85.80" cy="298.45" r="1.35" fill="#0000ff" fill-opacity="0.5"/>
<circle cx="85.80" cy="292.03" r="1.35" fill="#0000ff" fill-opacity="0.5"/>
<circle cx="106.70" cy="282.40" r="1.35" fill="#0000ff" fill-opacity="0.5"/>
<circle cx="96.25" cy="279.19" r="1.35" fill="#0000ff" fill-opacity="0.5"/>
<circle cx="232.10" cy="304.87" r="1.35" fill="#0000ff" fill-opacity="0.5"/>
<circle cx="64.90" cy="279.19" r="1.35" fill="#00dd00" fill-opacity="0.5"/>
<line x1="46.90" y1="314.50" x2="239.20" y2="314.50" stroke="#000" stroke-width="1.3"/>
<line x1="54.45" y1="314.50" x2="54.45" y2="318.30" stroke="#000" stroke-width="1.2"/>
<line x1="64.90" y1="314.50" x2="64.90" y2="318.30" stroke="#000" stroke-width="1.2"/>
<line x1="75.35" y1="314.50" x2="75.35" y2="318.30" stroke="#000" stroke-width="1.2"/>
<line x1="85.80" y1="314.50" x2="85.80" y2="318.30" stroke="#000" stroke-width="1.2"/>
<line x1="96.25" y1="314.50" x2="96.25" y2="318.30" stroke="#000" stroke-width="1.2"/>
<line x1="106.70" y1="314.50" x2="106.70" y2="318.30" stroke="#000" stroke-width="1.2"/>
<line x1="117.15" y1="314.50" x2="117.15" y2="318.30" stroke="#000" stroke-width="1.2"/>
<line x1="127.60" y1="314.50" x2="127.60" y2="318.30" stroke="#000" stroke-width="1.2"/>
<line x1="138.05" y1="314.50" x2="138.05" y2="318.30" stroke="#000" stroke-width="1.2"/>
<line x1="148.50" y1="314.50" x2="148.50" y2="318.30" stroke="#000" stroke-width="1.2"/>
<line x1="158.95" y1="314.50" x2="158.95" y2="318.30" stroke="#000" stroke-width="1.2"/>
<line x1="169.40" y1="314.50" x2="169.40" y2="318.30" stroke="#000" stroke-width="1.2"/>
<line x1="179.85" y1="314.50" x2="179.85" y2="318.30" stroke="#000" stroke-width="1.2"/>
<line x1="190.30" y1="314.50" x2="190.30" y2="318.30" stroke="#000" stroke-width="1.2"/>
<line x1="200.75" y1="314.50" x2="200.75" y2="318.30" stroke="#000" stroke-width="1.2"/>
<line x1="211.20" y1="314.50" x2="211.20" y2="318.30" stroke="#000" stroke-width="1.2"/>
<line x1="221.65" y1="314.50" x2="221.65" y2="318.30" stroke="#000" stroke-width="1.2"/>
<line x1="232.10" y1="314.50" x2="232.10" y2="318.30" stroke="#000" stroke-width="1.2"/>
<text x="45.70" y="325.50" font-size="7" text-anchor="end">DIV</text>
<text x="45.70" y="332.90" font-size="7" text-anchor="end">Cleared</text>
<text x="45.70" y="343.10" font-size="7" text-anchor="end">Cell number</text>
<line x1="54.45" y1="324.40" x2="76.58" y2="324.40" stroke="#000" stroke-width="0.9"/>
<line x1="84.58" y1="324.40" x2="106.70" y2="324.40" stroke="#000" stroke-width="0.9"/>
<line x1="54.45" y1="322.20" x2="54.45" y2="326.60" stroke="#000" stroke-width="0.9"/>
<line x1="106.70" y1="322.20" x2="106.70" y2="326.60" stroke="#000" stroke-width="0.9"/>
<text x="80.58" y="325.50" font-size="7.3" text-anchor="middle">3</text>
<text x="54.45" y="333.20" font-size="7" text-anchor="middle">+</text>
<text x="56.45" y="339.50" font-size="7.5" text-anchor="end" transform="rotate(-52 56.45 339.50)">250</text>
<text x="64.90" y="333.20" font-size="7" text-anchor="middle">+</text>
<text x="67.18" y="339.50" font-size="7.5" text-anchor="end" transform="rotate(-52 67.18 339.50)">500</text>
<text x="75.35" y="333.20" font-size="7" text-anchor="middle">+</text>
<text x="77.91" y="339.50" font-size="7.5" text-anchor="end" transform="rotate(-52 77.91 339.50)">1,000</text>
<text x="85.80" y="333.20" font-size="7" text-anchor="middle">-</text>
<text x="88.64" y="339.50" font-size="7.5" text-anchor="end" transform="rotate(-52 88.64 339.50)">250</text>
<text x="96.25" y="333.20" font-size="7" text-anchor="middle">-</text>
<text x="99.37" y="339.50" font-size="7.5" text-anchor="end" transform="rotate(-52 99.37 339.50)">500</text>
<text x="106.70" y="333.20" font-size="7" text-anchor="middle">-</text>
<text x="110.10" y="339.50" font-size="7.5" text-anchor="end" transform="rotate(-52 110.10 339.50)">1,000</text>
<line x1="117.15" y1="324.40" x2="139.28" y2="324.40" stroke="#000" stroke-width="0.9"/>
<line x1="147.28" y1="324.40" x2="169.40" y2="324.40" stroke="#000" stroke-width="0.9"/>
<line x1="117.15" y1="322.20" x2="117.15" y2="326.60" stroke="#000" stroke-width="0.9"/>
<line x1="169.40" y1="322.20" x2="169.40" y2="326.60" stroke="#000" stroke-width="0.9"/>
<text x="143.28" y="325.50" font-size="7.3" text-anchor="middle">5</text>
<text x="117.15" y="333.20" font-size="7" text-anchor="middle">+</text>
<text x="120.83" y="339.50" font-size="7.5" text-anchor="end" transform="rotate(-52 120.83 339.50)">250</text>
<text x="127.60" y="333.20" font-size="7" text-anchor="middle">+</text>
<text x="131.56" y="339.50" font-size="7.5" text-anchor="end" transform="rotate(-52 131.56 339.50)">500</text>
<text x="138.05" y="333.20" font-size="7" text-anchor="middle">+</text>
<text x="142.29" y="339.50" font-size="7.5" text-anchor="end" transform="rotate(-52 142.29 339.50)">1,000</text>
<text x="148.50" y="333.20" font-size="7" text-anchor="middle">-</text>
<text x="153.02" y="339.50" font-size="7.5" text-anchor="end" transform="rotate(-52 153.02 339.50)">250</text>
<text x="158.95" y="333.20" font-size="7" text-anchor="middle">-</text>
<text x="163.75" y="339.50" font-size="7.5" text-anchor="end" transform="rotate(-52 163.75 339.50)">500</text>
<text x="169.40" y="333.20" font-size="7" text-anchor="middle">-</text>
<text x="174.48" y="339.50" font-size="7.5" text-anchor="end" transform="rotate(-52 174.48 339.50)">1,000</text>
<line x1="179.85" y1="324.40" x2="201.97" y2="324.40" stroke="#000" stroke-width="0.9"/>
<line x1="209.97" y1="324.40" x2="232.10" y2="324.40" stroke="#000" stroke-width="0.9"/>
<line x1="179.85" y1="322.20" x2="179.85" y2="326.60" stroke="#000" stroke-width="0.9"/>
<line x1="232.10" y1="322.20" x2="232.10" y2="326.60" stroke="#000" stroke-width="0.9"/>
<text x="205.97" y="325.50" font-size="7.3" text-anchor="middle">7</text>
<text x="179.85" y="333.20" font-size="7" text-anchor="middle">+</text>
<text x="185.21" y="339.50" font-size="7.5" text-anchor="end" transform="rotate(-52 185.21 339.50)">250</text>
<text x="190.30" y="333.20" font-size="7" text-anchor="middle">+</text>
<text x="195.94" y="339.50" font-size="7.5" text-anchor="end" transform="rotate(-52 195.94 339.50)">500</text>
<text x="200.75" y="333.20" font-size="7" text-anchor="middle">+</text>
<text x="206.67" y="339.50" font-size="7.5" text-anchor="end" transform="rotate(-52 206.67 339.50)">1,000</text>
<text x="211.20" y="333.20" font-size="7" text-anchor="middle">-</text>
<text x="217.40" y="339.50" font-size="7.5" text-anchor="end" transform="rotate(-52 217.40 339.50)">250</text>
<text x="221.65" y="333.20" font-size="7" text-anchor="middle">-</text>
<text x="228.13" y="339.50" font-size="7.5" text-anchor="end" transform="rotate(-52 228.13 339.50)">500</text>
<text x="232.10" y="333.20" font-size="7" text-anchor="middle">-</text>
<text x="238.86" y="339.50" font-size="7.5" text-anchor="end" transform="rotate(-52 238.86 339.50)">1,000</text>
<text x="261.20" y="183.10" font-size="8.5">c.</text>
<line x1="309.20" y1="185.10" x2="309.20" y2="313.80" stroke="#000" stroke-width="1.4"/>
<line x1="305.20" y1="313.20" x2="309.20" y2="313.20" stroke="#000" stroke-width="1.2"/>
<text x="303.40" y="316.40" font-size="7" text-anchor="end">0</text>
<line x1="305.20" y1="270.70" x2="309.20" y2="270.70" stroke="#000" stroke-width="1.2"/>
<text x="303.40" y="273.90" font-size="7" text-anchor="end">100</text>
<line x1="305.20" y1="228.20" x2="309.20" y2="228.20" stroke="#000" stroke-width="1.2"/>
<text x="303.40" y="231.40" font-size="7" text-anchor="end">200</text>
<line x1="305.20" y1="185.70" x2="309.20" y2="185.70" stroke="#000" stroke-width="1.2"/>
<text x="303.40" y="188.90" font-size="7" text-anchor="end">300</text>
<text x="287.50" y="247.20" font-size="8.8" text-anchor="middle" transform="rotate(-90 287.50 247.20)">Nuclear segmentation cutoff (µm)</text>
<g fill="#0000ff" fill-opacity="0.6"><circle cx="316.3" cy="235.6" r="1.35"/><circle cx="316.3" cy="239.1" r="1.35"/><circle cx="316.3" cy="245.7" r="1.35"/><circle cx="316.3" cy="253.0" r="1.35"/><circle cx="316.3" cy="260.4" r="1.35"/><circle cx="316.3" cy="262.8" r="1.35"/><circle cx="317.8" cy="266.9" r="1.35"/><circle cx="314.8" cy="267.5" r="1.35"/></g>
<g fill="#00dd00" fill-opacity="0.6"><circle cx="319.3" cy="246.6" r="1.35"/><circle cx="313.3" cy="250.2" r="1.35"/><circle cx="313.3" cy="255.2" r="1.35"/><circle cx="319.3" cy="256.4" r="1.35"/><circle cx="319.3" cy="259.8" r="1.35"/><circle cx="313.3" cy="260.4" r="1.35"/><circle cx="317.8" cy="260.6" r="1.35"/><circle cx="314.8" cy="260.6" r="1.35"/><circle cx="319.3" cy="265.4" r="1.35"/><circle cx="313.3" cy="266.4" r="1.35"/></g>
<g fill="#a600ee" fill-opacity="0.6"><circle cx="314.8" cy="248.0" r="1.35"/><circle cx="317.8" cy="249.5" r="1.35"/><circle cx="316.3" cy="251.8" r="1.35"/><circle cx="319.3" cy="252.4" r="1.35"/><circle cx="313.3" cy="252.8" r="1.35"/><circle cx="319.3" cy="253.1" r="1.35"/><circle cx="317.8" cy="255.0" r="1.35"/><circle cx="314.8" cy="255.0" r="1.35"/><circle cx="316.3" cy="258.6" r="1.35"/><circle cx="319.3" cy="261.4" r="1.35"/><circle cx="316.3" cy="265.3" r="1.35"/></g>
<g fill="#a600ee" fill-opacity="0.6"><circle cx="326.8" cy="225.1" r="1.35"/><circle cx="326.8" cy="235.9" r="1.35"/><circle cx="328.2" cy="237.9" r="1.35"/><circle cx="328.2" cy="242.9" r="1.35"/><circle cx="328.2" cy="245.6" r="1.35"/><circle cx="326.8" cy="247.1" r="1.35"/><circle cx="323.8" cy="247.3" r="1.35"/><circle cx="328.2" cy="248.2" r="1.35"/><circle cx="326.8" cy="250.7" r="1.35"/><circle cx="328.2" cy="253.4" r="1.35"/><circle cx="323.8" cy="254.5" r="1.35"/></g>
<g fill="#0000ff" fill-opacity="0.6"><circle cx="326.8" cy="242.1" r="1.35"/><circle cx="323.8" cy="242.8" r="1.35"/><circle cx="325.3" cy="244.4" r="1.35"/><circle cx="323.8" cy="246.4" r="1.35"/><circle cx="329.7" cy="247.3" r="1.35"/><circle cx="325.3" cy="248.2" r="1.35"/><circle cx="323.8" cy="248.9" r="1.35"/><circle cx="328.2" cy="256.7" r="1.35"/></g>
<g fill="#00dd00" fill-opacity="0.6"><circle cx="329.7" cy="242.2" r="1.35"/><circle cx="329.7" cy="248.7" r="1.35"/><circle cx="329.7" cy="252.1" r="1.35"/><circle cx="325.3" cy="252.6" r="1.35"/><circle cx="326.8" cy="254.5" r="1.35"/><circle cx="329.7" cy="254.7" r="1.35"/><circle cx="325.3" cy="257.8" r="1.35"/><circle cx="329.7" cy="257.9" r="1.35"/><circle cx="326.8" cy="259.0" r="1.35"/><circle cx="326.8" cy="261.6" r="1.35"/><circle cx="329.7" cy="263.3" r="1.35"/><circle cx="326.8" cy="266.6" r="1.35"/><circle cx="326.8" cy="291.9" r="1.35"/></g>
<g fill="#a600ee" fill-opacity="0.6"><circle cx="337.2" cy="213.9" r="1.35"/><circle cx="337.2" cy="219.5" r="1.35"/><circle cx="340.2" cy="220.0" r="1.35"/><circle cx="337.2" cy="222.8" r="1.35"/><circle cx="337.2" cy="227.2" r="1.35"/><circle cx="340.2" cy="229.0" r="1.35"/><circle cx="334.2" cy="233.2" r="1.35"/><circle cx="335.7" cy="234.8" r="1.35"/><circle cx="340.2" cy="237.4" r="1.35"/><circle cx="334.2" cy="237.7" r="1.35"/><circle cx="337.2" cy="247.6" r="1.35"/></g>
<g fill="#0000ff" fill-opacity="0.6"><circle cx="335.7" cy="229.2" r="1.35"/><circle cx="338.7" cy="230.0" r="1.35"/><circle cx="340.2" cy="231.7" r="1.35"/><circle cx="334.2" cy="231.7" r="1.35"/><circle cx="340.2" cy="233.1" r="1.35"/><circle cx="337.2" cy="233.2" r="1.35"/><circle cx="338.7" cy="233.5" r="1.35"/><circle cx="340.2" cy="239.7" r="1.35"/><circle cx="340.2" cy="249.4" r="1.35"/></g>
<g fill="#00dd00" fill-opacity="0.6"><circle cx="335.7" cy="231.7" r="1.35"/><circle cx="337.2" cy="232.2" r="1.35"/><circle cx="337.2" cy="236.9" r="1.35"/><circle cx="337.2" cy="239.5" r="1.35"/><circle cx="337.2" cy="242.3" r="1.35"/><circle cx="340.2" cy="243.4" r="1.35"/><circle cx="335.7" cy="244.4" r="1.35"/><circle cx="338.7" cy="245.1" r="1.35"/><circle cx="334.2" cy="245.5" r="1.35"/></g>
<g fill="#0000ff" fill-opacity="0.6"><circle cx="347.7" cy="276.2" r="1.35"/><circle cx="344.7" cy="281.3" r="1.35"/><circle cx="347.7" cy="283.0" r="1.35"/><circle cx="344.7" cy="285.6" r="1.35"/><circle cx="344.7" cy="287.0" r="1.35"/><circle cx="347.7" cy="287.3" r="1.35"/><circle cx="346.2" cy="288.3" r="1.35"/><circle cx="347.7" cy="289.8" r="1.35"/><circle cx="350.7" cy="291.6" r="1.35"/><circle cx="347.7" cy="296.2" r="1.35"/></g>
<g fill="#a600ee" fill-opacity="0.6"><circle cx="350.7" cy="276.6" r="1.35"/><circle cx="344.7" cy="276.6" r="1.35"/><circle cx="349.2" cy="276.7" r="1.35"/><circle cx="347.7" cy="279.0" r="1.35"/><circle cx="350.7" cy="279.5" r="1.35"/><circle cx="344.7" cy="279.6" r="1.35"/><circle cx="347.7" cy="280.3" r="1.35"/><circle cx="350.7" cy="281.0" r="1.35"/><circle cx="347.7" cy="281.8" r="1.35"/><circle cx="350.7" cy="283.6" r="1.35"/><circle cx="349.2" cy="285.0" r="1.35"/><circle cx="350.7" cy="286.2" r="1.35"/></g>
<g fill="#00dd00" fill-opacity="0.6"><circle cx="350.7" cy="282.7" r="1.35"/><circle cx="344.7" cy="282.8" r="1.35"/><circle cx="346.2" cy="283.7" r="1.35"/><circle cx="347.7" cy="285.6" r="1.35"/><circle cx="350.7" cy="285.7" r="1.35"/><circle cx="346.2" cy="285.8" r="1.35"/><circle cx="349.2" cy="287.6" r="1.35"/><circle cx="350.7" cy="289.1" r="1.35"/></g>
<g fill="#a600ee" fill-opacity="0.6"><circle cx="358.1" cy="273.3" r="1.35"/><circle cx="356.7" cy="279.9" r="1.35"/><circle cx="355.2" cy="280.5" r="1.35"/><circle cx="358.1" cy="280.8" r="1.35"/><circle cx="361.1" cy="280.8" r="1.35"/><circle cx="359.6" cy="281.8" r="1.35"/><circle cx="358.1" cy="282.3" r="1.35"/><circle cx="356.7" cy="283.3" r="1.35"/><circle cx="359.6" cy="285.9" r="1.35"/></g>
<g fill="#0000ff" fill-opacity="0.6"><circle cx="358.1" cy="277.2" r="1.35"/><circle cx="359.6" cy="279.3" r="1.35"/><circle cx="361.1" cy="280.0" r="1.35"/><circle cx="358.1" cy="281.3" r="1.35"/><circle cx="355.2" cy="281.7" r="1.35"/><circle cx="361.1" cy="282.3" r="1.35"/><circle cx="355.2" cy="282.5" r="1.35"/><circle cx="355.2" cy="283.7" r="1.35"/><circle cx="355.2" cy="284.1" r="1.35"/><circle cx="361.1" cy="284.7" r="1.35"/><circle cx="355.2" cy="284.9" r="1.35"/><circle cx="358.1" cy="296.2" r="1.35"/></g>
<g fill="#00dd00" fill-opacity="0.6"><circle cx="355.2" cy="281.1" r="1.35"/><circle cx="361.1" cy="281.4" r="1.35"/><circle cx="356.7" cy="281.9" r="1.35"/><circle cx="359.6" cy="282.8" r="1.35"/><circle cx="361.1" cy="283.5" r="1.35"/><circle cx="358.1" cy="283.9" r="1.35"/><circle cx="361.1" cy="283.9" r="1.35"/><circle cx="358.1" cy="284.5" r="1.35"/><circle cx="356.7" cy="286.4" r="1.35"/><circle cx="361.1" cy="286.4" r="1.35"/><circle cx="355.2" cy="287.3" r="1.35"/><circle cx="358.1" cy="289.9" r="1.35"/></g>
<g fill="#a600ee" fill-opacity="0.6"><circle cx="368.6" cy="264.1" r="1.35"/><circle cx="371.6" cy="264.8" r="1.35"/><circle cx="365.6" cy="266.9" r="1.35"/><circle cx="371.6" cy="267.8" r="1.35"/><circle cx="370.1" cy="269.1" r="1.35"/><circle cx="365.6" cy="269.6" r="1.35"/><circle cx="371.6" cy="272.0" r="1.35"/><circle cx="370.1" cy="273.3" r="1.35"/><circle cx="368.6" cy="275.2" r="1.35"/><circle cx="368.6" cy="279.6" r="1.35"/></g>
<g fill="#0000ff" fill-opacity="0.6"><circle cx="368.6" cy="266.6" r="1.35"/><circle cx="367.1" cy="268.0" r="1.35"/><circle cx="368.6" cy="271.1" r="1.35"/><circle cx="365.6" cy="271.4" r="1.35"/><circle cx="365.6" cy="272.7" r="1.35"/><circle cx="368.6" cy="272.8" r="1.35"/><circle cx="371.6" cy="275.4" r="1.35"/><circle cx="367.1" cy="278.5" r="1.35"/><circle cx="368.6" cy="281.5" r="1.35"/><circle cx="365.6" cy="283.0" r="1.35"/><circle cx="370.1" cy="283.5" r="1.35"/><circle cx="367.1" cy="284.4" r="1.35"/><circle cx="368.6" cy="291.7" r="1.35"/><circle cx="371.6" cy="291.9" r="1.35"/></g>
<g fill="#00dd00" fill-opacity="0.6"><circle cx="371.6" cy="271.4" r="1.35"/><circle cx="370.1" cy="272.0" r="1.35"/><circle cx="367.1" cy="272.0" r="1.35"/><circle cx="371.6" cy="272.9" r="1.35"/><circle cx="367.1" cy="273.1" r="1.35"/><circle cx="365.6" cy="274.4" r="1.35"/><circle cx="365.6" cy="276.3" r="1.35"/><circle cx="370.1" cy="277.2" r="1.35"/><circle cx="371.6" cy="278.7" r="1.35"/><circle cx="365.6" cy="280.5" r="1.35"/><circle cx="371.6" cy="280.9" r="1.35"/></g>
<g fill="#a600ee" fill-opacity="0.6"><circle cx="379.1" cy="241.8" r="1.35"/><circle cx="382.0" cy="245.6" r="1.35"/><circle cx="380.5" cy="246.7" r="1.35"/><circle cx="377.6" cy="247.3" r="1.35"/><circle cx="382.0" cy="248.1" r="1.35"/><circle cx="376.1" cy="248.9" r="1.35"/><circle cx="376.1" cy="251.5" r="1.35"/><circle cx="380.5" cy="252.0" r="1.35"/><circle cx="382.0" cy="253.3" r="1.35"/><circle cx="382.0" cy="257.1" r="1.35"/><circle cx="376.1" cy="257.6" r="1.35"/></g>
<g fill="#00dd00" fill-opacity="0.6"><circle cx="382.0" cy="242.4" r="1.35"/><circle cx="379.1" cy="245.1" r="1.35"/><circle cx="376.1" cy="246.7" r="1.35"/><circle cx="379.1" cy="248.4" r="1.35"/><circle cx="379.1" cy="253.6" r="1.35"/><circle cx="382.0" cy="253.8" r="1.35"/><circle cx="376.1" cy="254.7" r="1.35"/><circle cx="377.6" cy="255.7" r="1.35"/><circle cx="377.6" cy="260.0" r="1.35"/></g>
<g fill="#0000ff" fill-opacity="0.6"><circle cx="376.1" cy="242.5" r="1.35"/><circle cx="379.1" cy="251.3" r="1.35"/><circle cx="382.0" cy="251.5" r="1.35"/><circle cx="377.6" cy="252.9" r="1.35"/><circle cx="376.1" cy="253.5" r="1.35"/><circle cx="380.5" cy="255.3" r="1.35"/><circle cx="382.0" cy="256.3" r="1.35"/><circle cx="376.1" cy="257.0" r="1.35"/><circle cx="379.1" cy="257.0" r="1.35"/><circle cx="380.5" cy="258.7" r="1.35"/><circle cx="379.1" cy="262.8" r="1.35"/></g>
<g fill="#a600ee" fill-opacity="0.6"><circle cx="389.5" cy="224.2" r="1.35"/><circle cx="389.5" cy="232.2" r="1.35"/><circle cx="392.5" cy="232.4" r="1.35"/><circle cx="389.5" cy="235.8" r="1.35"/><circle cx="391.0" cy="237.4" r="1.35"/><circle cx="388.0" cy="237.5" r="1.35"/><circle cx="392.5" cy="238.4" r="1.35"/><circle cx="386.5" cy="238.6" r="1.35"/><circle cx="392.5" cy="241.1" r="1.35"/><circle cx="389.5" cy="241.7" r="1.35"/><circle cx="389.5" cy="245.2" r="1.35"/><circle cx="391.0" cy="254.0" r="1.35"/></g>
<g fill="#00dd00" fill-opacity="0.6"><circle cx="386.5" cy="232.5" r="1.35"/><circle cx="391.0" cy="233.4" r="1.35"/><circle cx="386.5" cy="236.7" r="1.35"/><circle cx="391.0" cy="242.0" r="1.35"/><circle cx="388.0" cy="242.5" r="1.35"/><circle cx="388.0" cy="247.3" r="1.35"/><circle cx="386.5" cy="247.9" r="1.35"/><circle cx="392.5" cy="252.2" r="1.35"/></g>
<g fill="#0000ff" fill-opacity="0.6"><circle cx="388.0" cy="234.2" r="1.35"/><circle cx="392.5" cy="235.8" r="1.35"/><circle cx="389.5" cy="240.0" r="1.35"/><circle cx="386.5" cy="241.5" r="1.35"/><circle cx="392.5" cy="242.6" r="1.35"/><circle cx="392.5" cy="246.6" r="1.35"/><circle cx="391.0" cy="247.4" r="1.35"/><circle cx="389.5" cy="251.9" r="1.35"/></g>
<g fill="#a600ee" fill-opacity="0.6"><circle cx="400.0" cy="185.7" r="1.35"/><circle cx="400.0" cy="202.3" r="1.35"/><circle cx="400.0" cy="207.0" r="1.35"/><circle cx="400.0" cy="210.2" r="1.35"/><circle cx="403.0" cy="211.2" r="1.35"/><circle cx="400.0" cy="212.9" r="1.35"/><circle cx="400.0" cy="216.6" r="1.35"/><circle cx="397.0" cy="218.1" r="1.35"/><circle cx="400.0" cy="220.1" r="1.35"/><circle cx="403.0" cy="221.4" r="1.35"/><circle cx="400.0" cy="224.0" r="1.35"/><circle cx="398.5" cy="228.4" r="1.35"/></g>
<g fill="#00dd00" fill-opacity="0.6"><circle cx="403.0" cy="217.3" r="1.35"/><circle cx="400.0" cy="227.1" r="1.35"/><circle cx="403.0" cy="227.3" r="1.35"/><circle cx="401.5" cy="228.2" r="1.35"/><circle cx="403.0" cy="229.4" r="1.35"/><circle cx="400.0" cy="233.4" r="1.35"/><circle cx="403.0" cy="234.1" r="1.35"/><circle cx="401.5" cy="235.7" r="1.35"/></g>
<g fill="#0000ff" fill-opacity="0.6"><circle cx="397.0" cy="228.1" r="1.35"/><circle cx="400.0" cy="230.5" r="1.35"/><circle cx="397.0" cy="234.1" r="1.35"/><circle cx="400.0" cy="234.6" r="1.35"/><circle cx="403.0" cy="234.8" r="1.35"/><circle cx="398.5" cy="235.6" r="1.35"/><circle cx="400.0" cy="237.7" r="1.35"/><circle cx="401.5" cy="239.7" r="1.35"/><circle cx="400.0" cy="244.9" r="1.35"/><circle cx="400.0" cy="250.0" r="1.35"/></g>
<g fill="#a600ee" fill-opacity="0.6"><circle cx="410.4" cy="276.8" r="1.35"/><circle cx="410.4" cy="282.4" r="1.35"/><circle cx="413.4" cy="282.9" r="1.35"/><circle cx="407.5" cy="283.0" r="1.35"/><circle cx="411.9" cy="283.1" r="1.35"/><circle cx="410.4" cy="285.0" r="1.35"/><circle cx="413.4" cy="285.2" r="1.35"/><circle cx="409.0" cy="286.6" r="1.35"/><circle cx="413.4" cy="287.3" r="1.35"/><circle cx="410.4" cy="287.6" r="1.35"/><circle cx="407.5" cy="289.9" r="1.35"/></g>
<g fill="#0000ff" fill-opacity="0.6"><circle cx="409.0" cy="283.7" r="1.35"/><circle cx="411.9" cy="286.2" r="1.35"/><circle cx="411.9" cy="288.5" r="1.35"/><circle cx="413.4" cy="289.3" r="1.35"/><circle cx="413.4" cy="290.2" r="1.35"/><circle cx="410.4" cy="290.3" r="1.35"/><circle cx="407.5" cy="291.0" r="1.35"/><circle cx="411.9" cy="292.0" r="1.35"/><circle cx="410.4" cy="294.1" r="1.35"/><circle cx="413.4" cy="298.3" r="1.35"/><circle cx="410.4" cy="300.8" r="1.35"/></g>
<g fill="#00dd00" fill-opacity="0.6"><circle cx="413.4" cy="284.2" r="1.35"/><circle cx="407.5" cy="285.2" r="1.35"/><circle cx="410.4" cy="285.4" r="1.35"/><circle cx="407.5" cy="285.8" r="1.35"/><circle cx="407.5" cy="288.3" r="1.35"/><circle cx="409.0" cy="288.6" r="1.35"/><circle cx="410.4" cy="289.4" r="1.35"/><circle cx="410.4" cy="296.9" r="1.35"/></g>
<g fill="#a600ee" fill-opacity="0.6"><circle cx="420.9" cy="271.2" r="1.35"/><circle cx="420.9" cy="273.8" r="1.35"/><circle cx="419.4" cy="276.1" r="1.35"/><circle cx="417.9" cy="277.8" r="1.35"/><circle cx="420.9" cy="278.0" r="1.35"/><circle cx="417.9" cy="278.2" r="1.35"/><circle cx="419.4" cy="279.0" r="1.35"/><circle cx="420.9" cy="279.7" r="1.35"/><circle cx="417.9" cy="281.2" r="1.35"/><circle cx="419.4" cy="281.4" r="1.35"/></g>
<g fill="#00dd00" fill-opacity="0.6"><circle cx="423.9" cy="274.1" r="1.35"/><circle cx="417.9" cy="274.5" r="1.35"/><circle cx="422.4" cy="275.6" r="1.35"/><circle cx="423.9" cy="276.3" r="1.35"/><circle cx="417.9" cy="276.4" r="1.35"/><circle cx="423.9" cy="278.1" r="1.35"/><circle cx="422.4" cy="278.5" r="1.35"/><circle cx="423.9" cy="281.8" r="1.35"/><circle cx="420.9" cy="281.9" r="1.35"/><circle cx="417.9" cy="282.5" r="1.35"/><circle cx="423.9" cy="282.9" r="1.35"/><circle cx="419.4" cy="286.1" r="1.35"/></g>
<g fill="#0000ff" fill-opacity="0.6"><circle cx="420.9" cy="277.2" r="1.35"/><circle cx="423.9" cy="277.4" r="1.35"/><circle cx="423.9" cy="279.2" r="1.35"/><circle cx="422.4" cy="281.4" r="1.35"/><circle cx="420.9" cy="283.1" r="1.35"/><circle cx="417.9" cy="283.8" r="1.35"/><circle cx="422.4" cy="284.9" r="1.35"/><circle cx="423.9" cy="286.7" r="1.35"/><circle cx="420.9" cy="291.9" r="1.35"/></g>
<g fill="#a600ee" fill-opacity="0.6"><circle cx="431.4" cy="258.5" r="1.35"/><circle cx="434.3" cy="258.8" r="1.35"/><circle cx="431.4" cy="261.0" r="1.35"/><circle cx="429.9" cy="266.0" r="1.35"/><circle cx="428.4" cy="267.6" r="1.35"/><circle cx="431.4" cy="268.5" r="1.35"/><circle cx="434.3" cy="269.4" r="1.35"/><circle cx="434.3" cy="271.6" r="1.35"/></g>
<g fill="#00dd00" fill-opacity="0.6"><circle cx="431.4" cy="264.0" r="1.35"/><circle cx="432.8" cy="266.0" r="1.35"/><circle cx="434.3" cy="267.5" r="1.35"/><circle cx="428.4" cy="269.9" r="1.35"/><circle cx="431.4" cy="270.7" r="1.35"/><circle cx="428.4" cy="271.8" r="1.35"/><circle cx="431.4" cy="276.8" r="1.35"/><circle cx="434.3" cy="276.9" r="1.35"/></g>
<g fill="#0000ff" fill-opacity="0.6"><circle cx="428.4" cy="277.6" r="1.35"/><circle cx="432.8" cy="278.1" r="1.35"/><circle cx="429.9" cy="278.4" r="1.35"/><circle cx="434.3" cy="279.2" r="1.35"/><circle cx="431.4" cy="279.3" r="1.35"/><circle cx="428.4" cy="279.7" r="1.35"/><circle cx="434.3" cy="280.0" r="1.35"/><circle cx="431.4" cy="280.2" r="1.35"/><circle cx="428.4" cy="280.5" r="1.35"/><circle cx="432.8" cy="281.1" r="1.35"/><circle cx="429.9" cy="281.4" r="1.35"/><circle cx="431.4" cy="298.3" r="1.35"/></g>
<g fill="#a600ee" fill-opacity="0.6"><circle cx="441.8" cy="229.0" r="1.35"/><circle cx="443.3" cy="231.3" r="1.35"/><circle cx="440.3" cy="231.3" r="1.35"/><circle cx="444.8" cy="232.2" r="1.35"/><circle cx="441.8" cy="235.1" r="1.35"/><circle cx="438.9" cy="244.2" r="1.35"/><circle cx="443.3" cy="244.5" r="1.35"/><circle cx="444.8" cy="245.4" r="1.35"/><circle cx="441.8" cy="245.8" r="1.35"/><circle cx="444.8" cy="249.1" r="1.35"/></g>
<g fill="#0000ff" fill-opacity="0.6"><circle cx="441.8" cy="239.1" r="1.35"/><circle cx="440.3" cy="242.6" r="1.35"/><circle cx="440.3" cy="245.1" r="1.35"/><circle cx="438.9" cy="246.8" r="1.35"/><circle cx="441.8" cy="248.3" r="1.35"/><circle cx="441.8" cy="250.9" r="1.35"/><circle cx="443.3" cy="252.1" r="1.35"/><circle cx="438.9" cy="255.8" r="1.35"/><circle cx="443.3" cy="256.1" r="1.35"/><circle cx="440.3" cy="256.3" r="1.35"/><circle cx="444.8" cy="257.5" r="1.35"/><circle cx="441.8" cy="285.6" r="1.35"/></g>
<g fill="#00dd00" fill-opacity="0.6"><circle cx="443.3" cy="241.4" r="1.35"/><circle cx="444.8" cy="242.9" r="1.35"/><circle cx="441.8" cy="243.4" r="1.35"/><circle cx="438.9" cy="250.1" r="1.35"/><circle cx="444.8" cy="251.2" r="1.35"/><circle cx="438.9" cy="251.7" r="1.35"/><circle cx="441.8" cy="255.2" r="1.35"/><circle cx="444.8" cy="255.3" r="1.35"/><circle cx="441.8" cy="296.6" r="1.35"/></g>
<g fill="#a600ee" fill-opacity="0.6"><circle cx="452.3" cy="225.7" r="1.35"/><circle cx="449.3" cy="227.2" r="1.35"/><circle cx="453.8" cy="227.4" r="1.35"/><circle cx="452.3" cy="232.2" r="1.35"/><circle cx="450.8" cy="234.2" r="1.35"/><circle cx="453.8" cy="235.5" r="1.35"/><circle cx="449.3" cy="239.1" r="1.35"/><circle cx="449.3" cy="244.0" r="1.35"/><circle cx="455.3" cy="244.0" r="1.35"/></g>
<g fill="#00dd00" fill-opacity="0.6"><circle cx="455.3" cy="225.7" r="1.35"/><circle cx="452.3" cy="238.9" r="1.35"/><circle cx="455.3" cy="239.4" r="1.35"/><circle cx="453.8" cy="241.0" r="1.35"/><circle cx="452.3" cy="244.5" r="1.35"/><circle cx="453.8" cy="246.8" r="1.35"/><circle cx="450.8" cy="247.2" r="1.35"/><circle cx="453.8" cy="254.9" r="1.35"/><circle cx="450.8" cy="255.3" r="1.35"/></g>
<g fill="#0000ff" fill-opacity="0.6"><circle cx="455.3" cy="233.4" r="1.35"/><circle cx="450.8" cy="237.4" r="1.35"/><circle cx="455.3" cy="237.6" r="1.35"/><circle cx="450.8" cy="239.7" r="1.35"/><circle cx="450.8" cy="242.2" r="1.35"/><circle cx="455.3" cy="242.5" r="1.35"/><circle cx="452.3" cy="243.1" r="1.35"/><circle cx="455.3" cy="248.7" r="1.35"/><circle cx="452.3" cy="249.2" r="1.35"/><circle cx="449.3" cy="250.7" r="1.35"/><circle cx="452.3" cy="252.7" r="1.35"/><circle cx="455.3" cy="256.4" r="1.35"/></g>
<g fill="#00dd00" fill-opacity="0.6"><circle cx="462.7" cy="198.3" r="1.35"/><circle cx="462.7" cy="202.4" r="1.35"/><circle cx="465.7" cy="203.8" r="1.35"/><circle cx="462.7" cy="205.4" r="1.35"/><circle cx="465.7" cy="211.2" r="1.35"/><circle cx="459.8" cy="211.6" r="1.35"/><circle cx="462.7" cy="211.8" r="1.35"/><circle cx="464.2" cy="214.0" r="1.35"/><circle cx="465.7" cy="216.2" r="1.35"/><circle cx="464.2" cy="218.2" r="1.35"/><circle cx="461.3" cy="225.5" r="1.35"/><circle cx="462.7" cy="229.5" r="1.35"/></g>
<g fill="#a600ee" fill-opacity="0.6"><circle cx="462.7" cy="210.6" r="1.35"/><circle cx="465.7" cy="212.1" r="1.35"/><circle cx="462.7" cy="216.2" r="1.35"/><circle cx="461.3" cy="218.3" r="1.35"/><circle cx="459.8" cy="219.9" r="1.35"/><circle cx="462.7" cy="220.2" r="1.35"/><circle cx="461.3" cy="220.9" r="1.35"/><circle cx="464.2" cy="227.2" r="1.35"/><circle cx="465.7" cy="229.9" r="1.35"/><circle cx="462.7" cy="237.4" r="1.35"/></g>
<g fill="#0000ff" fill-opacity="0.6"><circle cx="461.3" cy="213.1" r="1.35"/><circle cx="459.8" cy="216.9" r="1.35"/><circle cx="465.7" cy="218.5" r="1.35"/><circle cx="465.7" cy="220.8" r="1.35"/><circle cx="462.7" cy="223.4" r="1.35"/><circle cx="465.7" cy="224.3" r="1.35"/><circle cx="459.8" cy="230.9" r="1.35"/><circle cx="462.7" cy="233.8" r="1.35"/></g>
<g fill="#a600ee" fill-opacity="0.6"><circle cx="473.2" cy="278.2" r="1.35"/><circle cx="470.2" cy="282.0" r="1.35"/><circle cx="476.2" cy="282.7" r="1.35"/><circle cx="471.7" cy="283.6" r="1.35"/><circle cx="476.2" cy="286.0" r="1.35"/><circle cx="474.7" cy="287.8" r="1.35"/><circle cx="470.2" cy="287.8" r="1.35"/><circle cx="473.2" cy="289.8" r="1.35"/><circle cx="476.2" cy="291.4" r="1.35"/></g>
<g fill="#00dd00" fill-opacity="0.6"><circle cx="476.2" cy="279.5" r="1.35"/><circle cx="476.2" cy="280.9" r="1.35"/><circle cx="474.7" cy="281.5" r="1.35"/><circle cx="473.2" cy="281.8" r="1.35"/><circle cx="476.2" cy="282.0" r="1.35"/><circle cx="473.2" cy="282.1" r="1.35"/><circle cx="470.2" cy="282.7" r="1.35"/><circle cx="474.7" cy="284.0" r="1.35"/><circle cx="470.2" cy="285.3" r="1.35"/><circle cx="471.7" cy="286.9" r="1.35"/></g>
<g fill="#0000ff" fill-opacity="0.6"><circle cx="470.2" cy="279.9" r="1.35"/><circle cx="473.2" cy="280.0" r="1.35"/><circle cx="471.7" cy="281.1" r="1.35"/><circle cx="470.2" cy="281.8" r="1.35"/><circle cx="476.2" cy="282.5" r="1.35"/><circle cx="473.2" cy="282.7" r="1.35"/><circle cx="473.2" cy="285.5" r="1.35"/><circle cx="476.2" cy="287.9" r="1.35"/><circle cx="473.2" cy="292.3" r="1.35"/></g>
<g fill="#0000ff" fill-opacity="0.6"><circle cx="483.7" cy="272.7" r="1.35"/><circle cx="486.6" cy="274.6" r="1.35"/><circle cx="480.7" cy="275.5" r="1.35"/><circle cx="486.6" cy="276.6" r="1.35"/><circle cx="482.2" cy="277.2" r="1.35"/><circle cx="483.7" cy="279.1" r="1.35"/><circle cx="480.7" cy="279.6" r="1.35"/><circle cx="483.7" cy="282.9" r="1.35"/><circle cx="486.6" cy="283.0" r="1.35"/><circle cx="485.1" cy="287.6" r="1.35"/></g>
<g fill="#00dd00" fill-opacity="0.6"><circle cx="483.7" cy="275.4" r="1.35"/><circle cx="485.1" cy="277.7" r="1.35"/><circle cx="480.7" cy="278.4" r="1.35"/><circle cx="486.6" cy="278.9" r="1.35"/><circle cx="482.2" cy="281.6" r="1.35"/><circle cx="480.7" cy="281.8" r="1.35"/><circle cx="486.6" cy="282.3" r="1.35"/><circle cx="480.7" cy="282.8" r="1.35"/></g>
<g fill="#a600ee" fill-opacity="0.6"><circle cx="485.1" cy="280.9" r="1.35"/><circle cx="486.6" cy="281.8" r="1.35"/><circle cx="483.7" cy="282.0" r="1.35"/><circle cx="480.7" cy="283.1" r="1.35"/><circle cx="485.1" cy="283.9" r="1.35"/><circle cx="482.2" cy="284.0" r="1.35"/><circle cx="483.7" cy="286.5" r="1.35"/><circle cx="486.6" cy="286.5" r="1.35"/><circle cx="480.7" cy="286.8" r="1.35"/><circle cx="483.7" cy="293.0" r="1.35"/></g>
<g fill="#a600ee" fill-opacity="0.6"><circle cx="494.1" cy="267.0" r="1.35"/><circle cx="497.1" cy="267.8" r="1.35"/><circle cx="491.1" cy="268.2" r="1.35"/><circle cx="497.1" cy="270.0" r="1.35"/><circle cx="491.1" cy="271.3" r="1.35"/><circle cx="497.1" cy="272.4" r="1.35"/><circle cx="494.1" cy="272.6" r="1.35"/><circle cx="492.6" cy="274.2" r="1.35"/><circle cx="491.1" cy="275.3" r="1.35"/><circle cx="497.1" cy="275.6" r="1.35"/><circle cx="491.1" cy="277.9" r="1.35"/></g>
<g fill="#0000ff" fill-opacity="0.6"><circle cx="494.1" cy="269.9" r="1.35"/><circle cx="492.6" cy="271.9" r="1.35"/><circle cx="491.1" cy="272.7" r="1.35"/><circle cx="497.1" cy="272.8" r="1.35"/><circle cx="495.6" cy="274.6" r="1.35"/><circle cx="494.1" cy="274.8" r="1.35"/><circle cx="497.1" cy="276.2" r="1.35"/><circle cx="491.1" cy="278.4" r="1.35"/><circle cx="494.1" cy="282.2" r="1.35"/><circle cx="497.1" cy="282.3" r="1.35"/><circle cx="491.1" cy="282.5" r="1.35"/><circle cx="494.1" cy="300.9" r="1.35"/></g>
<g fill="#00dd00" fill-opacity="0.6"><circle cx="495.6" cy="271.8" r="1.35"/><circle cx="491.1" cy="274.7" r="1.35"/><circle cx="497.1" cy="274.8" r="1.35"/><circle cx="494.1" cy="275.8" r="1.35"/><circle cx="491.1" cy="276.2" r="1.35"/><circle cx="492.6" cy="276.4" r="1.35"/><circle cx="495.6" cy="277.4" r="1.35"/><circle cx="494.1" cy="278.1" r="1.35"/><circle cx="497.1" cy="278.3" r="1.35"/><circle cx="494.1" cy="278.4" r="1.35"/><circle cx="497.1" cy="278.5" r="1.35"/></g>
<line x1="311.05" y1="257.10" x2="321.55" y2="257.10" stroke="#00ee00" stroke-width="1.9"/>
<line x1="311.05" y1="251.70" x2="321.55" y2="251.70" stroke="#0000ee" stroke-width="1.9"/>
<line x1="311.05" y1="252.60" x2="321.55" y2="252.60" stroke="#9c00e2" stroke-width="1.9"/>
<line x1="321.51" y1="253.50" x2="332.01" y2="253.50" stroke="#00ee00" stroke-width="1.9"/>
<line x1="321.51" y1="244.30" x2="332.01" y2="244.30" stroke="#0000ee" stroke-width="1.9"/>
<line x1="321.51" y1="245.20" x2="332.01" y2="245.20" stroke="#9c00e2" stroke-width="1.9"/>
<line x1="331.97" y1="236.80" x2="342.47" y2="236.80" stroke="#00ee00" stroke-width="1.9"/>
<line x1="331.97" y1="231.90" x2="342.47" y2="231.90" stroke="#0000ee" stroke-width="1.9"/>
<line x1="331.97" y1="228.00" x2="342.47" y2="228.00" stroke="#9c00e2" stroke-width="1.9"/>
<line x1="342.43" y1="284.90" x2="352.93" y2="284.90" stroke="#00ee00" stroke-width="1.9"/>
<line x1="342.43" y1="283.50" x2="352.93" y2="283.50" stroke="#0000ee" stroke-width="1.9"/>
<line x1="342.43" y1="283.10" x2="352.93" y2="283.10" stroke="#9c00e2" stroke-width="1.9"/>
<line x1="352.89" y1="283.30" x2="363.39" y2="283.30" stroke="#00ee00" stroke-width="1.9"/>
<line x1="352.89" y1="282.60" x2="363.39" y2="282.60" stroke="#0000ee" stroke-width="1.9"/>
<line x1="352.89" y1="280.80" x2="363.39" y2="280.80" stroke="#9c00e2" stroke-width="1.9"/>
<line x1="363.35" y1="275.20" x2="373.85" y2="275.20" stroke="#00ee00" stroke-width="1.9"/>
<line x1="363.35" y1="276.50" x2="373.85" y2="276.50" stroke="#0000ee" stroke-width="1.9"/>
<line x1="363.35" y1="272.50" x2="373.85" y2="272.50" stroke="#9c00e2" stroke-width="1.9"/>
<line x1="373.81" y1="250.40" x2="384.31" y2="250.40" stroke="#00ee00" stroke-width="1.9"/>
<line x1="373.81" y1="249.00" x2="384.31" y2="249.00" stroke="#0000ee" stroke-width="1.9"/>
<line x1="373.81" y1="248.10" x2="384.31" y2="248.10" stroke="#9c00e2" stroke-width="1.9"/>
<line x1="384.27" y1="244.30" x2="394.77" y2="244.30" stroke="#00ee00" stroke-width="1.9"/>
<line x1="384.27" y1="242.50" x2="394.77" y2="242.50" stroke="#0000ee" stroke-width="1.9"/>
<line x1="384.27" y1="237.10" x2="394.77" y2="237.10" stroke="#9c00e2" stroke-width="1.9"/>
<line x1="394.73" y1="230.80" x2="405.23" y2="230.80" stroke="#00ee00" stroke-width="1.9"/>
<line x1="394.73" y1="235.70" x2="405.23" y2="235.70" stroke="#0000ee" stroke-width="1.9"/>
<line x1="394.73" y1="216.80" x2="405.23" y2="216.80" stroke="#9c00e2" stroke-width="1.9"/>
<line x1="405.19" y1="284.90" x2="415.69" y2="284.90" stroke="#00ee00" stroke-width="1.9"/>
<line x1="405.19" y1="289.40" x2="415.69" y2="289.40" stroke="#0000ee" stroke-width="1.9"/>
<line x1="405.19" y1="283.30" x2="415.69" y2="283.30" stroke="#9c00e2" stroke-width="1.9"/>
<line x1="415.65" y1="279.00" x2="426.15" y2="279.00" stroke="#00ee00" stroke-width="1.9"/>
<line x1="415.65" y1="281.50" x2="426.15" y2="281.50" stroke="#0000ee" stroke-width="1.9"/>
<line x1="415.65" y1="277.70" x2="426.15" y2="277.70" stroke="#9c00e2" stroke-width="1.9"/>
<line x1="426.11" y1="269.80" x2="436.61" y2="269.80" stroke="#00ee00" stroke-width="1.9"/>
<line x1="426.11" y1="279.70" x2="436.61" y2="279.70" stroke="#0000ee" stroke-width="1.9"/>
<line x1="426.11" y1="265.70" x2="436.61" y2="265.70" stroke="#9c00e2" stroke-width="1.9"/>
<line x1="436.57" y1="247.70" x2="447.07" y2="247.70" stroke="#00ee00" stroke-width="1.9"/>
<line x1="436.57" y1="249.50" x2="447.07" y2="249.50" stroke="#0000ee" stroke-width="1.9"/>
<line x1="436.57" y1="239.10" x2="447.07" y2="239.10" stroke="#9c00e2" stroke-width="1.9"/>
<line x1="447.03" y1="241.40" x2="457.53" y2="241.40" stroke="#00ee00" stroke-width="1.9"/>
<line x1="447.03" y1="243.80" x2="457.53" y2="243.80" stroke="#0000ee" stroke-width="1.9"/>
<line x1="447.03" y1="234.60" x2="457.53" y2="234.60" stroke="#9c00e2" stroke-width="1.9"/>
<line x1="457.49" y1="217.90" x2="467.99" y2="217.90" stroke="#00ee00" stroke-width="1.9"/>
<line x1="457.49" y1="224.70" x2="467.99" y2="224.70" stroke="#0000ee" stroke-width="1.9"/>
<line x1="457.49" y1="220.60" x2="467.99" y2="220.60" stroke="#9c00e2" stroke-width="1.9"/>
<line x1="467.95" y1="284.20" x2="478.45" y2="284.20" stroke="#00ee00" stroke-width="1.9"/>
<line x1="467.95" y1="284.00" x2="478.45" y2="284.00" stroke="#0000ee" stroke-width="1.9"/>
<line x1="467.95" y1="284.20" x2="478.45" y2="284.20" stroke="#9c00e2" stroke-width="1.9"/>
<line x1="478.41" y1="281.00" x2="488.91" y2="281.00" stroke="#00ee00" stroke-width="1.9"/>
<line x1="478.41" y1="278.80" x2="488.91" y2="278.80" stroke="#0000ee" stroke-width="1.9"/>
<line x1="478.41" y1="284.20" x2="488.91" y2="284.20" stroke="#9c00e2" stroke-width="1.9"/>
<line x1="488.87" y1="276.50" x2="499.37" y2="276.50" stroke="#00ee00" stroke-width="1.9"/>
<line x1="488.87" y1="274.30" x2="499.37" y2="274.30" stroke="#0000ee" stroke-width="1.9"/>
<line x1="488.87" y1="272.50" x2="499.37" y2="272.50" stroke="#9c00e2" stroke-width="1.9"/>
<line x1="308.60" y1="313.20" x2="502.00" y2="313.20" stroke="#000" stroke-width="1.3"/>
<line x1="316.30" y1="313.20" x2="316.30" y2="317.00" stroke="#000" stroke-width="1.2"/>
<line x1="326.76" y1="313.20" x2="326.76" y2="317.00" stroke="#000" stroke-width="1.2"/>
<line x1="337.22" y1="313.20" x2="337.22" y2="317.00" stroke="#000" stroke-width="1.2"/>
<line x1="347.68" y1="313.20" x2="347.68" y2="317.00" stroke="#000" stroke-width="1.2"/>
<line x1="358.14" y1="313.20" x2="358.14" y2="317.00" stroke="#000" stroke-width="1.2"/>
<line x1="368.60" y1="313.20" x2="368.60" y2="317.00" stroke="#000" stroke-width="1.2"/>
<line x1="379.06" y1="313.20" x2="379.06" y2="317.00" stroke="#000" stroke-width="1.2"/>
<line x1="389.52" y1="313.20" x2="389.52" y2="317.00" stroke="#000" stroke-width="1.2"/>
<line x1="399.98" y1="313.20" x2="399.98" y2="317.00" stroke="#000" stroke-width="1.2"/>
<line x1="410.44" y1="313.20" x2="410.44" y2="317.00" stroke="#000" stroke-width="1.2"/>
<line x1="420.90" y1="313.20" x2="420.90" y2="317.00" stroke="#000" stroke-width="1.2"/>
<line x1="431.36" y1="313.20" x2="431.36" y2="317.00" stroke="#000" stroke-width="1.2"/>
<line x1="441.82" y1="313.20" x2="441.82" y2="317.00" stroke="#000" stroke-width="1.2"/>
<line x1="452.28" y1="313.20" x2="452.28" y2="317.00" stroke="#000" stroke-width="1.2"/>
<line x1="462.74" y1="313.20" x2="462.74" y2="317.00" stroke="#000" stroke-width="1.2"/>
<line x1="473.20" y1="313.20" x2="473.20" y2="317.00" stroke="#000" stroke-width="1.2"/>
<line x1="483.66" y1="313.20" x2="483.66" y2="317.00" stroke="#000" stroke-width="1.2"/>
<line x1="494.12" y1="313.20" x2="494.12" y2="317.00" stroke="#000" stroke-width="1.2"/>
<text x="308.20" y="324.90" font-size="7" text-anchor="end">DIV</text>
<text x="308.20" y="332.50" font-size="7" text-anchor="end">Cleared</text>
<text x="308.20" y="342.20" font-size="7" text-anchor="end">Cell number</text>
<line x1="316.30" y1="323.60" x2="338.45" y2="323.60" stroke="#666" stroke-width="0.9"/>
<line x1="346.45" y1="323.60" x2="368.60" y2="323.60" stroke="#666" stroke-width="0.9"/>
<line x1="316.30" y1="321.40" x2="316.30" y2="325.80" stroke="#666" stroke-width="0.9"/>
<line x1="368.60" y1="321.40" x2="368.60" y2="325.80" stroke="#666" stroke-width="0.9"/>
<text x="342.45" y="324.90" font-size="7.3" text-anchor="middle">3</text>
<text x="316.30" y="333.10" font-size="7" text-anchor="middle">+</text>
<text x="316.70" y="338.10" font-size="7.1" text-anchor="end" transform="rotate(-57 316.70 338.10)">250</text>
<text x="326.76" y="333.10" font-size="7" text-anchor="middle">+</text>
<text x="327.52" y="338.10" font-size="7.1" text-anchor="end" transform="rotate(-57 327.52 338.10)">500</text>
<text x="337.22" y="333.10" font-size="7" text-anchor="middle">+</text>
<text x="338.34" y="338.10" font-size="7.1" text-anchor="end" transform="rotate(-57 338.34 338.10)">1,000</text>
<text x="347.68" y="333.10" font-size="7" text-anchor="middle">-</text>
<text x="349.16" y="338.10" font-size="7.1" text-anchor="end" transform="rotate(-57 349.16 338.10)">250</text>
<text x="358.14" y="333.10" font-size="7" text-anchor="middle">-</text>
<text x="359.98" y="338.10" font-size="7.1" text-anchor="end" transform="rotate(-57 359.98 338.10)">500</text>
<text x="368.60" y="333.10" font-size="7" text-anchor="middle">-</text>
<text x="370.80" y="338.10" font-size="7.1" text-anchor="end" transform="rotate(-57 370.80 338.10)">1,000</text>
<line x1="379.06" y1="323.60" x2="401.21" y2="323.60" stroke="#666" stroke-width="0.9"/>
<line x1="409.21" y1="323.60" x2="431.36" y2="323.60" stroke="#666" stroke-width="0.9"/>
<line x1="379.06" y1="321.40" x2="379.06" y2="325.80" stroke="#666" stroke-width="0.9"/>
<line x1="431.36" y1="321.40" x2="431.36" y2="325.80" stroke="#666" stroke-width="0.9"/>
<text x="405.21" y="324.90" font-size="7.3" text-anchor="middle">5</text>
<text x="379.06" y="333.10" font-size="7" text-anchor="middle">+</text>
<text x="381.62" y="338.10" font-size="7.1" text-anchor="end" transform="rotate(-57 381.62 338.10)">250</text>
<text x="389.52" y="333.10" font-size="7" text-anchor="middle">+</text>
<text x="392.44" y="338.10" font-size="7.1" text-anchor="end" transform="rotate(-57 392.44 338.10)">500</text>
<text x="399.98" y="333.10" font-size="7" text-anchor="middle">+</text>
<text x="403.26" y="338.10" font-size="7.1" text-anchor="end" transform="rotate(-57 403.26 338.10)">1,000</text>
<text x="410.44" y="333.10" font-size="7" text-anchor="middle">-</text>
<text x="414.08" y="338.10" font-size="7.1" text-anchor="end" transform="rotate(-57 414.08 338.10)">250</text>
<text x="420.90" y="333.10" font-size="7" text-anchor="middle">-</text>
<text x="424.90" y="338.10" font-size="7.1" text-anchor="end" transform="rotate(-57 424.90 338.10)">500</text>
<text x="431.36" y="333.10" font-size="7" text-anchor="middle">-</text>
<text x="435.72" y="338.10" font-size="7.1" text-anchor="end" transform="rotate(-57 435.72 338.10)">1,000</text>
<line x1="441.82" y1="323.60" x2="463.97" y2="323.60" stroke="#666" stroke-width="0.9"/>
<line x1="471.97" y1="323.60" x2="494.12" y2="323.60" stroke="#666" stroke-width="0.9"/>
<line x1="441.82" y1="321.40" x2="441.82" y2="325.80" stroke="#666" stroke-width="0.9"/>
<line x1="494.12" y1="321.40" x2="494.12" y2="325.80" stroke="#666" stroke-width="0.9"/>
<text x="467.97" y="324.90" font-size="7.3" text-anchor="middle">7</text>
<text x="441.82" y="333.10" font-size="7" text-anchor="middle">+</text>
<text x="446.54" y="338.10" font-size="7.1" text-anchor="end" transform="rotate(-57 446.54 338.10)">250</text>
<text x="452.28" y="333.10" font-size="7" text-anchor="middle">+</text>
<text x="457.36" y="338.10" font-size="7.1" text-anchor="end" transform="rotate(-57 457.36 338.10)">500</text>
<text x="462.74" y="333.10" font-size="7" text-anchor="middle">+</text>
<text x="468.18" y="338.10" font-size="7.1" text-anchor="end" transform="rotate(-57 468.18 338.10)">1,000</text>
<text x="473.20" y="333.10" font-size="7" text-anchor="middle">-</text>
<text x="479.00" y="338.10" font-size="7.1" text-anchor="end" transform="rotate(-57 479.00 338.10)">250</text>
<text x="483.66" y="333.10" font-size="7" text-anchor="middle">-</text>
<text x="489.82" y="338.10" font-size="7.1" text-anchor="end" transform="rotate(-57 489.82 338.10)">500</text>
<text x="494.12" y="333.10" font-size="7" text-anchor="middle">-</text>
<text x="500.64" y="338.10" font-size="7.1" text-anchor="end" transform="rotate(-57 500.64 338.10)">1,000</text>
<text x="0.80" y="374.60" font-size="8.5">d.</text>
<line x1="48.00" y1="368.30" x2="48.00" y2="497.50" stroke="#000" stroke-width="1.4"/>
<line x1="44.00" y1="496.90" x2="48.00" y2="496.90" stroke="#000" stroke-width="1.2"/>
<text x="40.90" y="499.40" font-size="7" text-anchor="end">0.0</text>
<line x1="44.00" y1="432.90" x2="48.00" y2="432.90" stroke="#000" stroke-width="1.2"/>
<text x="40.90" y="435.40" font-size="7" text-anchor="end">0.5</text>
<line x1="44.00" y1="368.90" x2="48.00" y2="368.90" stroke="#000" stroke-width="1.2"/>
<text x="40.90" y="371.40" font-size="7" text-anchor="end">1.0</text>
<text x="25.00" y="436.30" font-size="8.8" text-anchor="middle" transform="rotate(-90 25.00 436.30)">Clearing metric</text>
<g fill="#a600ee" fill-opacity="0.6"><circle cx="54.7" cy="374.2" r="1.35"/><circle cx="57.7" cy="374.6" r="1.35"/><circle cx="51.7" cy="377.1" r="1.35"/><circle cx="51.7" cy="378.2" r="1.35"/><circle cx="57.7" cy="378.4" r="1.35"/><circle cx="54.7" cy="384.9" r="1.35"/><circle cx="54.7" cy="390.6" r="1.35"/><circle cx="56.2" cy="392.6" r="1.35"/><circle cx="54.7" cy="405.2" r="1.35"/></g>
<g fill="#0000ff" fill-opacity="0.6"><circle cx="53.2" cy="376.2" r="1.35"/><circle cx="56.2" cy="376.6" r="1.35"/><circle cx="57.7" cy="377.3" r="1.35"/><circle cx="54.7" cy="377.8" r="1.35"/><circle cx="54.7" cy="381.6" r="1.35"/><circle cx="51.7" cy="385.4" r="1.35"/><circle cx="53.2" cy="385.5" r="1.35"/><circle cx="57.7" cy="391.2" r="1.35"/><circle cx="54.7" cy="394.9" r="1.35"/><circle cx="57.7" cy="395.3" r="1.35"/><circle cx="57.7" cy="397.9" r="1.35"/></g>
<g fill="#00dd00" fill-opacity="0.6"><circle cx="57.7" cy="385.0" r="1.35"/><circle cx="56.2" cy="385.4" r="1.35"/><circle cx="54.7" cy="387.5" r="1.35"/><circle cx="57.7" cy="387.8" r="1.35"/><circle cx="51.7" cy="392.1" r="1.35"/><circle cx="51.7" cy="396.3" r="1.35"/><circle cx="56.2" cy="396.4" r="1.35"/><circle cx="53.2" cy="396.6" r="1.35"/><circle cx="54.7" cy="401.3" r="1.35"/><circle cx="57.7" cy="405.3" r="1.35"/><circle cx="54.7" cy="416.7" r="1.35"/></g>
<g fill="#a600ee" fill-opacity="0.6"><circle cx="65.2" cy="377.6" r="1.35"/><circle cx="65.2" cy="382.2" r="1.35"/><circle cx="66.6" cy="393.1" r="1.35"/><circle cx="63.7" cy="393.1" r="1.35"/><circle cx="68.1" cy="394.0" r="1.35"/><circle cx="62.2" cy="399.2" r="1.35"/><circle cx="65.2" cy="402.2" r="1.35"/><circle cx="66.6" cy="403.4" r="1.35"/><circle cx="63.7" cy="407.0" r="1.35"/><circle cx="66.6" cy="408.2" r="1.35"/><circle cx="68.1" cy="410.1" r="1.35"/><circle cx="65.2" cy="414.5" r="1.35"/></g>
<g fill="#0000ff" fill-opacity="0.6"><circle cx="65.2" cy="387.0" r="1.35"/><circle cx="68.1" cy="391.8" r="1.35"/><circle cx="65.2" cy="394.2" r="1.35"/><circle cx="66.6" cy="396.2" r="1.35"/><circle cx="68.1" cy="399.1" r="1.35"/><circle cx="62.2" cy="403.2" r="1.35"/><circle cx="63.7" cy="404.0" r="1.35"/><circle cx="62.2" cy="409.1" r="1.35"/></g>
<g fill="#00dd00" fill-opacity="0.6"><circle cx="65.2" cy="391.8" r="1.35"/><circle cx="62.2" cy="392.5" r="1.35"/><circle cx="62.2" cy="394.4" r="1.35"/><circle cx="65.2" cy="398.7" r="1.35"/><circle cx="68.1" cy="402.6" r="1.35"/><circle cx="68.1" cy="405.4" r="1.35"/><circle cx="65.2" cy="405.9" r="1.35"/><circle cx="62.2" cy="406.2" r="1.35"/><circle cx="68.1" cy="406.7" r="1.35"/><circle cx="65.2" cy="409.8" r="1.35"/><circle cx="65.2" cy="418.8" r="1.35"/><circle cx="65.2" cy="424.9" r="1.35"/><circle cx="65.2" cy="438.0" r="1.35"/></g>
<g fill="#a600ee" fill-opacity="0.6"><circle cx="75.6" cy="378.9" r="1.35"/><circle cx="75.6" cy="385.2" r="1.35"/><circle cx="75.6" cy="390.6" r="1.35"/><circle cx="78.6" cy="395.5" r="1.35"/><circle cx="78.6" cy="397.8" r="1.35"/><circle cx="78.6" cy="400.2" r="1.35"/><circle cx="77.1" cy="400.9" r="1.35"/><circle cx="74.1" cy="402.2" r="1.35"/><circle cx="75.6" cy="403.1" r="1.35"/><circle cx="75.6" cy="406.1" r="1.35"/><circle cx="77.1" cy="406.8" r="1.35"/><circle cx="75.6" cy="413.3" r="1.35"/></g>
<g fill="#0000ff" fill-opacity="0.6"><circle cx="75.6" cy="382.5" r="1.35"/><circle cx="78.6" cy="386.3" r="1.35"/><circle cx="77.1" cy="397.2" r="1.35"/><circle cx="72.6" cy="400.3" r="1.35"/><circle cx="78.6" cy="402.9" r="1.35"/><circle cx="78.6" cy="406.3" r="1.35"/><circle cx="72.6" cy="406.5" r="1.35"/><circle cx="74.1" cy="411.1" r="1.35"/></g>
<g fill="#00dd00" fill-opacity="0.6"><circle cx="75.6" cy="395.2" r="1.35"/><circle cx="72.6" cy="395.7" r="1.35"/><circle cx="74.1" cy="397.6" r="1.35"/><circle cx="72.6" cy="398.7" r="1.35"/><circle cx="75.6" cy="399.8" r="1.35"/><circle cx="72.6" cy="403.8" r="1.35"/><circle cx="74.1" cy="407.8" r="1.35"/><circle cx="78.6" cy="408.2" r="1.35"/><circle cx="75.6" cy="409.1" r="1.35"/><circle cx="72.6" cy="409.6" r="1.35"/><circle cx="77.1" cy="411.0" r="1.35"/><circle cx="78.6" cy="411.6" r="1.35"/></g>
<g fill="#00dd00" fill-opacity="0.6"><circle cx="86.0" cy="435.7" r="1.35"/><circle cx="87.5" cy="438.2" r="1.35"/><circle cx="86.0" cy="439.6" r="1.35"/><circle cx="84.6" cy="444.0" r="1.35"/><circle cx="89.0" cy="447.7" r="1.35"/><circle cx="83.1" cy="450.7" r="1.35"/><circle cx="86.0" cy="452.7" r="1.35"/><circle cx="86.0" cy="456.3" r="1.35"/></g>
<g fill="#a600ee" fill-opacity="0.6"><circle cx="89.0" cy="436.0" r="1.35"/><circle cx="83.1" cy="439.7" r="1.35"/><circle cx="87.5" cy="441.1" r="1.35"/><circle cx="83.1" cy="441.5" r="1.35"/><circle cx="89.0" cy="441.7" r="1.35"/><circle cx="86.0" cy="441.9" r="1.35"/><circle cx="87.5" cy="443.5" r="1.35"/><circle cx="83.1" cy="444.7" r="1.35"/><circle cx="86.0" cy="447.5" r="1.35"/><circle cx="87.5" cy="450.2" r="1.35"/><circle cx="89.0" cy="452.8" r="1.35"/></g>
<g fill="#0000ff" fill-opacity="0.6"><circle cx="84.6" cy="437.7" r="1.35"/><circle cx="83.1" cy="438.8" r="1.35"/><circle cx="89.0" cy="439.1" r="1.35"/><circle cx="89.0" cy="439.7" r="1.35"/><circle cx="84.6" cy="440.5" r="1.35"/><circle cx="83.1" cy="441.9" r="1.35"/><circle cx="89.0" cy="444.4" r="1.35"/><circle cx="86.0" cy="445.4" r="1.35"/><circle cx="89.0" cy="446.5" r="1.35"/><circle cx="83.1" cy="447.0" r="1.35"/><circle cx="84.6" cy="449.4" r="1.35"/><circle cx="83.1" cy="454.2" r="1.35"/></g>
<g fill="#a600ee" fill-opacity="0.6"><circle cx="96.5" cy="442.3" r="1.35"/><circle cx="95.0" cy="445.2" r="1.35"/><circle cx="93.5" cy="446.2" r="1.35"/><circle cx="96.5" cy="447.5" r="1.35"/><circle cx="95.0" cy="448.0" r="1.35"/><circle cx="93.5" cy="452.5" r="1.35"/><circle cx="93.5" cy="454.0" r="1.35"/><circle cx="99.5" cy="454.5" r="1.35"/><circle cx="99.5" cy="459.8" r="1.35"/></g>
<g fill="#00dd00" fill-opacity="0.6"><circle cx="98.0" cy="444.5" r="1.35"/><circle cx="99.5" cy="445.6" r="1.35"/><circle cx="93.5" cy="447.7" r="1.35"/><circle cx="98.0" cy="447.8" r="1.35"/><circle cx="93.5" cy="450.4" r="1.35"/><circle cx="99.5" cy="452.1" r="1.35"/><circle cx="99.5" cy="453.5" r="1.35"/><circle cx="96.5" cy="454.1" r="1.35"/><circle cx="95.0" cy="454.7" r="1.35"/></g>
<g fill="#0000ff" fill-opacity="0.6"><circle cx="99.5" cy="447.6" r="1.35"/><circle cx="99.5" cy="448.3" r="1.35"/><circle cx="96.5" cy="449.4" r="1.35"/><circle cx="93.5" cy="449.6" r="1.35"/><circle cx="99.5" cy="449.9" r="1.35"/><circle cx="96.5" cy="450.0" r="1.35"/><circle cx="98.0" cy="451.5" r="1.35"/><circle cx="95.0" cy="451.9" r="1.35"/><circle cx="96.5" cy="452.6" r="1.35"/><circle cx="98.0" cy="456.3" r="1.35"/><circle cx="95.0" cy="457.3" r="1.35"/><circle cx="96.5" cy="459.7" r="1.35"/></g>
<g fill="#0000ff" fill-opacity="0.6"><circle cx="107.0" cy="436.5" r="1.35"/><circle cx="107.0" cy="439.3" r="1.35"/><circle cx="104.0" cy="440.1" r="1.35"/><circle cx="109.9" cy="440.5" r="1.35"/><circle cx="107.0" cy="447.5" r="1.35"/><circle cx="104.0" cy="449.7" r="1.35"/><circle cx="104.0" cy="450.2" r="1.35"/><circle cx="105.5" cy="451.7" r="1.35"/></g>
<g fill="#a600ee" fill-opacity="0.6"><circle cx="109.9" cy="438.2" r="1.35"/><circle cx="109.9" cy="444.4" r="1.35"/><circle cx="104.0" cy="445.5" r="1.35"/><circle cx="105.5" cy="446.5" r="1.35"/><circle cx="109.9" cy="446.5" r="1.35"/><circle cx="107.0" cy="446.6" r="1.35"/><circle cx="108.4" cy="448.6" r="1.35"/><circle cx="109.9" cy="449.8" r="1.35"/><circle cx="107.0" cy="450.0" r="1.35"/><circle cx="109.9" cy="452.5" r="1.35"/><circle cx="104.0" cy="454.5" r="1.35"/><circle cx="107.0" cy="455.0" r="1.35"/></g>
<g fill="#00dd00" fill-opacity="0.6"><circle cx="107.0" cy="444.1" r="1.35"/><circle cx="108.4" cy="446.3" r="1.35"/><circle cx="104.0" cy="446.9" r="1.35"/><circle cx="109.9" cy="447.4" r="1.35"/><circle cx="104.0" cy="448.6" r="1.35"/><circle cx="105.5" cy="449.3" r="1.35"/><circle cx="109.9" cy="449.5" r="1.35"/><circle cx="107.0" cy="449.5" r="1.35"/><circle cx="108.4" cy="450.7" r="1.35"/><circle cx="107.0" cy="453.2" r="1.35"/><circle cx="109.9" cy="454.9" r="1.35"/></g>
<g fill="#0000ff" fill-opacity="0.6"><circle cx="117.4" cy="376.2" r="1.35"/><circle cx="120.4" cy="376.8" r="1.35"/><circle cx="115.9" cy="386.2" r="1.35"/><circle cx="117.4" cy="387.3" r="1.35"/><circle cx="115.9" cy="389.3" r="1.35"/><circle cx="115.9" cy="393.3" r="1.35"/><circle cx="120.4" cy="393.4" r="1.35"/><circle cx="114.4" cy="393.5" r="1.35"/><circle cx="114.4" cy="397.9" r="1.35"/><circle cx="117.4" cy="401.0" r="1.35"/><circle cx="117.4" cy="408.1" r="1.35"/><circle cx="120.4" cy="408.9" r="1.35"/></g>
<g fill="#a600ee" fill-opacity="0.6"><circle cx="114.4" cy="377.9" r="1.35"/><circle cx="118.9" cy="384.6" r="1.35"/><circle cx="118.9" cy="390.2" r="1.35"/><circle cx="117.4" cy="394.4" r="1.35"/><circle cx="114.4" cy="395.5" r="1.35"/><circle cx="117.4" cy="396.8" r="1.35"/><circle cx="120.4" cy="397.6" r="1.35"/><circle cx="117.4" cy="403.5" r="1.35"/><circle cx="120.4" cy="404.9" r="1.35"/></g>
<g fill="#00dd00" fill-opacity="0.6"><circle cx="117.4" cy="382.3" r="1.35"/><circle cx="120.4" cy="386.5" r="1.35"/><circle cx="120.4" cy="389.0" r="1.35"/><circle cx="114.4" cy="390.6" r="1.35"/><circle cx="117.4" cy="390.8" r="1.35"/><circle cx="118.9" cy="393.0" r="1.35"/><circle cx="120.4" cy="395.3" r="1.35"/><circle cx="120.4" cy="401.0" r="1.35"/><circle cx="115.9" cy="410.2" r="1.35"/></g>
<g fill="#a600ee" fill-opacity="0.6"><circle cx="127.8" cy="386.5" r="1.35"/><circle cx="127.8" cy="390.0" r="1.35"/><circle cx="127.8" cy="394.4" r="1.35"/><circle cx="130.8" cy="394.5" r="1.35"/><circle cx="130.8" cy="399.1" r="1.35"/><circle cx="127.8" cy="399.8" r="1.35"/><circle cx="124.9" cy="403.2" r="1.35"/><circle cx="127.8" cy="406.0" r="1.35"/><circle cx="124.9" cy="407.2" r="1.35"/><circle cx="126.4" cy="413.8" r="1.35"/><circle cx="127.8" cy="419.0" r="1.35"/></g>
<g fill="#00dd00" fill-opacity="0.6"><circle cx="130.8" cy="391.5" r="1.35"/><circle cx="126.4" cy="396.6" r="1.35"/><circle cx="130.8" cy="396.9" r="1.35"/><circle cx="127.8" cy="402.4" r="1.35"/><circle cx="130.8" cy="402.8" r="1.35"/><circle cx="130.8" cy="406.2" r="1.35"/><circle cx="127.8" cy="408.6" r="1.35"/><circle cx="127.8" cy="411.7" r="1.35"/></g>
<g fill="#0000ff" fill-opacity="0.6"><circle cx="124.9" cy="395.7" r="1.35"/><circle cx="129.3" cy="396.0" r="1.35"/><circle cx="127.8" cy="397.6" r="1.35"/><circle cx="124.9" cy="398.9" r="1.35"/><circle cx="130.8" cy="412.2" r="1.35"/><circle cx="129.3" cy="414.4" r="1.35"/><circle cx="124.9" cy="415.4" r="1.35"/><circle cx="127.8" cy="416.6" r="1.35"/><circle cx="129.3" cy="421.3" r="1.35"/><circle cx="127.8" cy="423.8" r="1.35"/></g>
<g fill="#a600ee" fill-opacity="0.6"><circle cx="138.3" cy="398.5" r="1.35"/><circle cx="138.3" cy="401.6" r="1.35"/><circle cx="141.3" cy="402.8" r="1.35"/><circle cx="135.3" cy="402.9" r="1.35"/><circle cx="135.3" cy="407.4" r="1.35"/><circle cx="141.3" cy="407.5" r="1.35"/><circle cx="139.8" cy="409.1" r="1.35"/><circle cx="136.8" cy="410.5" r="1.35"/><circle cx="135.3" cy="411.8" r="1.35"/></g>
<g fill="#00dd00" fill-opacity="0.6"><circle cx="138.3" cy="403.8" r="1.35"/><circle cx="141.3" cy="404.6" r="1.35"/><circle cx="136.8" cy="406.0" r="1.35"/><circle cx="135.3" cy="407.6" r="1.35"/><circle cx="141.3" cy="410.8" r="1.35"/><circle cx="138.3" cy="411.4" r="1.35"/><circle cx="141.3" cy="412.9" r="1.35"/><circle cx="136.8" cy="413.5" r="1.35"/><circle cx="139.8" cy="414.7" r="1.35"/><circle cx="136.8" cy="417.4" r="1.35"/><circle cx="139.8" cy="417.5" r="1.35"/><circle cx="138.3" cy="421.4" r="1.35"/></g>
<g fill="#0000ff" fill-opacity="0.6"><circle cx="139.8" cy="406.6" r="1.35"/><circle cx="138.3" cy="407.5" r="1.35"/><circle cx="135.3" cy="415.7" r="1.35"/><circle cx="138.3" cy="416.3" r="1.35"/><circle cx="141.3" cy="417.0" r="1.35"/><circle cx="135.3" cy="419.3" r="1.35"/><circle cx="141.3" cy="423.0" r="1.35"/><circle cx="138.3" cy="424.6" r="1.35"/><circle cx="141.3" cy="426.4" r="1.35"/></g>
<g fill="#00dd00" fill-opacity="0.6"><circle cx="148.8" cy="440.7" r="1.35"/><circle cx="150.2" cy="445.8" r="1.35"/><circle cx="147.3" cy="447.5" r="1.35"/><circle cx="145.8" cy="449.9" r="1.35"/><circle cx="145.8" cy="451.8" r="1.35"/><circle cx="147.3" cy="454.3" r="1.35"/><circle cx="151.7" cy="454.5" r="1.35"/><circle cx="151.7" cy="459.3" r="1.35"/></g>
<g fill="#a600ee" fill-opacity="0.6"><circle cx="148.8" cy="443.6" r="1.35"/><circle cx="151.7" cy="444.0" r="1.35"/><circle cx="145.8" cy="445.2" r="1.35"/><circle cx="150.2" cy="449.2" r="1.35"/><circle cx="151.7" cy="450.0" r="1.35"/><circle cx="150.2" cy="451.6" r="1.35"/><circle cx="148.8" cy="451.9" r="1.35"/><circle cx="145.8" cy="452.4" r="1.35"/><circle cx="148.8" cy="452.5" r="1.35"/><circle cx="151.7" cy="452.5" r="1.35"/><circle cx="145.8" cy="455.4" r="1.35"/><circle cx="147.3" cy="458.9" r="1.35"/></g>
<g fill="#0000ff" fill-opacity="0.6"><circle cx="148.8" cy="449.9" r="1.35"/><circle cx="147.3" cy="451.2" r="1.35"/><circle cx="151.7" cy="451.2" r="1.35"/><circle cx="151.7" cy="452.2" r="1.35"/><circle cx="145.8" cy="453.1" r="1.35"/><circle cx="148.8" cy="453.3" r="1.35"/><circle cx="150.2" cy="454.1" r="1.35"/><circle cx="148.8" cy="456.1" r="1.35"/><circle cx="150.2" cy="458.2" r="1.35"/></g>
<g fill="#a600ee" fill-opacity="0.6"><circle cx="159.2" cy="446.4" r="1.35"/><circle cx="159.2" cy="451.5" r="1.35"/><circle cx="162.2" cy="454.8" r="1.35"/><circle cx="159.2" cy="455.2" r="1.35"/><circle cx="160.7" cy="456.5" r="1.35"/><circle cx="157.7" cy="456.9" r="1.35"/><circle cx="156.2" cy="459.0" r="1.35"/><circle cx="160.7" cy="462.7" r="1.35"/></g>
<g fill="#0000ff" fill-opacity="0.6"><circle cx="162.2" cy="452.0" r="1.35"/><circle cx="162.2" cy="454.1" r="1.35"/><circle cx="156.2" cy="454.7" r="1.35"/><circle cx="159.2" cy="454.7" r="1.35"/><circle cx="156.2" cy="455.0" r="1.35"/><circle cx="160.7" cy="459.7" r="1.35"/><circle cx="157.7" cy="460.2" r="1.35"/><circle cx="162.2" cy="460.5" r="1.35"/><circle cx="159.2" cy="461.5" r="1.35"/><circle cx="156.2" cy="462.5" r="1.35"/><circle cx="162.2" cy="463.2" r="1.35"/><circle cx="159.2" cy="465.8" r="1.35"/></g>
<g fill="#00dd00" fill-opacity="0.6"><circle cx="156.2" cy="452.5" r="1.35"/><circle cx="160.7" cy="453.4" r="1.35"/><circle cx="157.7" cy="453.5" r="1.35"/><circle cx="162.2" cy="457.5" r="1.35"/><circle cx="156.2" cy="457.9" r="1.35"/><circle cx="159.2" cy="457.9" r="1.35"/><circle cx="162.2" cy="458.2" r="1.35"/><circle cx="159.2" cy="460.8" r="1.35"/><circle cx="156.2" cy="461.3" r="1.35"/><circle cx="162.2" cy="461.5" r="1.35"/><circle cx="157.7" cy="462.7" r="1.35"/></g>
<g fill="#a600ee" fill-opacity="0.6"><circle cx="169.6" cy="439.7" r="1.35"/><circle cx="172.6" cy="445.0" r="1.35"/><circle cx="171.1" cy="447.1" r="1.35"/><circle cx="166.7" cy="448.1" r="1.35"/><circle cx="169.6" cy="450.4" r="1.35"/><circle cx="172.6" cy="450.9" r="1.35"/><circle cx="166.7" cy="451.7" r="1.35"/><circle cx="168.2" cy="452.1" r="1.35"/><circle cx="172.6" cy="452.3" r="1.35"/><circle cx="169.6" cy="452.7" r="1.35"/><circle cx="168.2" cy="454.4" r="1.35"/><circle cx="169.6" cy="456.3" r="1.35"/></g>
<g fill="#00dd00" fill-opacity="0.6"><circle cx="169.6" cy="444.8" r="1.35"/><circle cx="166.7" cy="445.7" r="1.35"/><circle cx="168.2" cy="447.1" r="1.35"/><circle cx="172.6" cy="447.6" r="1.35"/><circle cx="171.1" cy="452.0" r="1.35"/><circle cx="166.7" cy="453.1" r="1.35"/><circle cx="172.6" cy="453.9" r="1.35"/><circle cx="171.1" cy="455.5" r="1.35"/><circle cx="166.7" cy="455.6" r="1.35"/><circle cx="169.6" cy="459.8" r="1.35"/><circle cx="166.7" cy="460.7" r="1.35"/><circle cx="168.2" cy="461.3" r="1.35"/></g>
<g fill="#0000ff" fill-opacity="0.6"><circle cx="172.6" cy="456.4" r="1.35"/><circle cx="172.6" cy="459.9" r="1.35"/><circle cx="171.1" cy="460.9" r="1.35"/><circle cx="172.6" cy="463.1" r="1.35"/><circle cx="169.6" cy="464.7" r="1.35"/><circle cx="166.7" cy="465.4" r="1.35"/><circle cx="169.6" cy="467.6" r="1.35"/><circle cx="172.6" cy="469.0" r="1.35"/></g>
<g fill="#a600ee" fill-opacity="0.6"><circle cx="180.1" cy="389.3" r="1.35"/><circle cx="183.1" cy="390.6" r="1.35"/><circle cx="180.1" cy="391.3" r="1.35"/><circle cx="178.6" cy="393.3" r="1.35"/><circle cx="177.1" cy="393.4" r="1.35"/><circle cx="183.1" cy="400.0" r="1.35"/><circle cx="177.1" cy="400.1" r="1.35"/><circle cx="180.1" cy="400.8" r="1.35"/><circle cx="183.1" cy="401.2" r="1.35"/><circle cx="180.1" cy="405.0" r="1.35"/><circle cx="183.1" cy="410.5" r="1.35"/><circle cx="181.6" cy="413.1" r="1.35"/></g>
<g fill="#0000ff" fill-opacity="0.6"><circle cx="177.1" cy="390.7" r="1.35"/><circle cx="183.1" cy="392.7" r="1.35"/><circle cx="181.6" cy="405.6" r="1.35"/><circle cx="183.1" cy="407.4" r="1.35"/><circle cx="180.1" cy="407.6" r="1.35"/><circle cx="177.1" cy="408.0" r="1.35"/><circle cx="181.6" cy="408.2" r="1.35"/><circle cx="178.6" cy="409.7" r="1.35"/><circle cx="180.1" cy="410.8" r="1.35"/><circle cx="180.1" cy="419.5" r="1.35"/><circle cx="180.1" cy="455.9" r="1.35"/></g>
<g fill="#00dd00" fill-opacity="0.6"><circle cx="181.6" cy="393.4" r="1.35"/><circle cx="180.1" cy="395.7" r="1.35"/><circle cx="180.1" cy="398.9" r="1.35"/><circle cx="178.6" cy="401.8" r="1.35"/><circle cx="181.6" cy="402.3" r="1.35"/><circle cx="183.1" cy="405.3" r="1.35"/><circle cx="177.1" cy="405.4" r="1.35"/><circle cx="178.6" cy="406.4" r="1.35"/><circle cx="178.6" cy="414.1" r="1.35"/><circle cx="180.1" cy="477.7" r="1.35"/></g>
<g fill="#0000ff" fill-opacity="0.6"><circle cx="190.6" cy="398.7" r="1.35"/><circle cx="187.6" cy="408.1" r="1.35"/><circle cx="187.6" cy="413.9" r="1.35"/><circle cx="190.6" cy="414.3" r="1.35"/><circle cx="187.6" cy="415.1" r="1.35"/><circle cx="190.6" cy="417.2" r="1.35"/><circle cx="192.0" cy="418.0" r="1.35"/><circle cx="190.6" cy="420.0" r="1.35"/><circle cx="192.0" cy="421.3" r="1.35"/><circle cx="187.6" cy="422.9" r="1.35"/><circle cx="190.6" cy="464.9" r="1.35"/></g>
<g fill="#a600ee" fill-opacity="0.6"><circle cx="193.5" cy="400.1" r="1.35"/><circle cx="189.1" cy="406.4" r="1.35"/><circle cx="192.0" cy="407.8" r="1.35"/><circle cx="190.6" cy="409.8" r="1.35"/><circle cx="193.5" cy="410.0" r="1.35"/><circle cx="193.5" cy="413.2" r="1.35"/><circle cx="193.5" cy="417.0" r="1.35"/><circle cx="187.6" cy="420.0" r="1.35"/><circle cx="193.5" cy="420.8" r="1.35"/><circle cx="189.1" cy="421.2" r="1.35"/></g>
<g fill="#00dd00" fill-opacity="0.6"><circle cx="190.6" cy="404.5" r="1.35"/><circle cx="193.5" cy="405.5" r="1.35"/><circle cx="190.6" cy="412.4" r="1.35"/><circle cx="193.5" cy="414.6" r="1.35"/><circle cx="192.0" cy="415.2" r="1.35"/><circle cx="189.1" cy="415.8" r="1.35"/><circle cx="187.6" cy="417.9" r="1.35"/><circle cx="189.1" cy="418.7" r="1.35"/><circle cx="193.5" cy="419.4" r="1.35"/><circle cx="190.6" cy="426.7" r="1.35"/><circle cx="190.6" cy="433.5" r="1.35"/></g>
<g fill="#00dd00" fill-opacity="0.6"><circle cx="201.0" cy="377.9" r="1.35"/><circle cx="201.0" cy="394.8" r="1.35"/><circle cx="201.0" cy="397.3" r="1.35"/><circle cx="204.0" cy="398.8" r="1.35"/><circle cx="201.0" cy="400.7" r="1.35"/><circle cx="204.0" cy="402.1" r="1.35"/><circle cx="199.5" cy="402.7" r="1.35"/><circle cx="202.5" cy="404.2" r="1.35"/><circle cx="201.0" cy="406.1" r="1.35"/><circle cx="204.0" cy="410.0" r="1.35"/><circle cx="202.5" cy="414.9" r="1.35"/><circle cx="204.0" cy="421.0" r="1.35"/></g>
<g fill="#0000ff" fill-opacity="0.6"><circle cx="201.0" cy="409.6" r="1.35"/><circle cx="198.0" cy="410.5" r="1.35"/><circle cx="201.0" cy="412.7" r="1.35"/><circle cx="199.5" cy="414.9" r="1.35"/><circle cx="198.0" cy="417.1" r="1.35"/><circle cx="201.0" cy="419.3" r="1.35"/><circle cx="202.5" cy="421.5" r="1.35"/><circle cx="201.0" cy="423.6" r="1.35"/><circle cx="201.0" cy="429.6" r="1.35"/><circle cx="201.0" cy="435.3" r="1.35"/></g>
<g fill="#a600ee" fill-opacity="0.6"><circle cx="202.5" cy="410.8" r="1.35"/><circle cx="204.0" cy="415.0" r="1.35"/><circle cx="198.0" cy="415.2" r="1.35"/><circle cx="201.0" cy="416.3" r="1.35"/><circle cx="204.0" cy="416.8" r="1.35"/><circle cx="199.5" cy="421.3" r="1.35"/><circle cx="198.0" cy="422.7" r="1.35"/><circle cx="204.0" cy="425.3" r="1.35"/><circle cx="201.0" cy="426.3" r="1.35"/><circle cx="204.0" cy="436.0" r="1.35"/></g>
<g fill="#a600ee" fill-opacity="0.6"><circle cx="211.4" cy="446.2" r="1.35"/><circle cx="214.4" cy="446.8" r="1.35"/><circle cx="211.4" cy="448.7" r="1.35"/><circle cx="211.4" cy="450.1" r="1.35"/><circle cx="214.4" cy="451.7" r="1.35"/><circle cx="208.5" cy="455.5" r="1.35"/><circle cx="211.4" cy="456.5" r="1.35"/><circle cx="211.4" cy="457.3" r="1.35"/><circle cx="208.5" cy="457.6" r="1.35"/><circle cx="212.9" cy="457.6" r="1.35"/></g>
<g fill="#0000ff" fill-opacity="0.6"><circle cx="214.4" cy="449.4" r="1.35"/><circle cx="208.5" cy="449.7" r="1.35"/><circle cx="208.5" cy="453.8" r="1.35"/><circle cx="211.4" cy="454.2" r="1.35"/><circle cx="212.9" cy="455.3" r="1.35"/><circle cx="208.5" cy="456.8" r="1.35"/><circle cx="214.4" cy="458.0" r="1.35"/><circle cx="211.4" cy="458.9" r="1.35"/><circle cx="211.4" cy="465.2" r="1.35"/><circle cx="211.4" cy="470.1" r="1.35"/></g>
<g fill="#00dd00" fill-opacity="0.6"><circle cx="211.4" cy="453.0" r="1.35"/><circle cx="214.4" cy="454.1" r="1.35"/><circle cx="210.0" cy="455.3" r="1.35"/><circle cx="214.4" cy="456.2" r="1.35"/><circle cx="214.4" cy="457.1" r="1.35"/><circle cx="210.0" cy="457.8" r="1.35"/><circle cx="208.5" cy="458.0" r="1.35"/><circle cx="212.9" cy="461.2" r="1.35"/><circle cx="210.0" cy="462.2" r="1.35"/><circle cx="214.4" cy="462.4" r="1.35"/></g>
<g fill="#00dd00" fill-opacity="0.6"><circle cx="221.9" cy="432.9" r="1.35"/><circle cx="221.9" cy="449.6" r="1.35"/><circle cx="224.9" cy="450.0" r="1.35"/><circle cx="218.9" cy="451.3" r="1.35"/><circle cx="221.9" cy="452.0" r="1.35"/><circle cx="220.4" cy="454.2" r="1.35"/><circle cx="223.4" cy="456.1" r="1.35"/><circle cx="221.9" cy="456.9" r="1.35"/><circle cx="224.9" cy="457.2" r="1.35"/><circle cx="220.4" cy="460.5" r="1.35"/><circle cx="224.9" cy="460.7" r="1.35"/></g>
<g fill="#0000ff" fill-opacity="0.6"><circle cx="224.9" cy="453.7" r="1.35"/><circle cx="218.9" cy="456.3" r="1.35"/><circle cx="223.4" cy="459.1" r="1.35"/><circle cx="221.9" cy="461.8" r="1.35"/><circle cx="224.9" cy="462.3" r="1.35"/><circle cx="221.9" cy="465.1" r="1.35"/><circle cx="224.9" cy="465.7" r="1.35"/><circle cx="218.9" cy="466.2" r="1.35"/><circle cx="224.9" cy="467.1" r="1.35"/></g>
<g fill="#a600ee" fill-opacity="0.6"><circle cx="218.9" cy="462.1" r="1.35"/><circle cx="220.4" cy="463.0" r="1.35"/><circle cx="223.4" cy="464.4" r="1.35"/><circle cx="218.9" cy="464.8" r="1.35"/><circle cx="220.4" cy="466.2" r="1.35"/><circle cx="223.4" cy="466.5" r="1.35"/><circle cx="221.9" cy="467.4" r="1.35"/><circle cx="218.9" cy="468.0" r="1.35"/><circle cx="224.9" cy="468.3" r="1.35"/><circle cx="220.4" cy="469.0" r="1.35"/><circle cx="221.9" cy="473.9" r="1.35"/></g>
<g fill="#0000ff" fill-opacity="0.6"><circle cx="232.3" cy="368.9" r="1.35"/><circle cx="232.3" cy="446.0" r="1.35"/><circle cx="235.3" cy="446.7" r="1.35"/><circle cx="229.4" cy="447.5" r="1.35"/><circle cx="232.3" cy="450.1" r="1.35"/><circle cx="230.9" cy="452.4" r="1.35"/><circle cx="235.3" cy="452.8" r="1.35"/><circle cx="232.3" cy="459.6" r="1.35"/><circle cx="235.3" cy="459.6" r="1.35"/><circle cx="232.3" cy="461.2" r="1.35"/></g>
<g fill="#00dd00" fill-opacity="0.6"><circle cx="233.8" cy="452.3" r="1.35"/><circle cx="229.4" cy="453.3" r="1.35"/><circle cx="232.3" cy="456.4" r="1.35"/><circle cx="235.3" cy="457.6" r="1.35"/><circle cx="229.4" cy="459.8" r="1.35"/><circle cx="235.3" cy="460.3" r="1.35"/><circle cx="229.4" cy="461.0" r="1.35"/><circle cx="230.9" cy="463.1" r="1.35"/></g>
<g fill="#a600ee" fill-opacity="0.6"><circle cx="229.4" cy="458.1" r="1.35"/><circle cx="233.8" cy="459.9" r="1.35"/><circle cx="230.9" cy="460.2" r="1.35"/><circle cx="235.3" cy="462.8" r="1.35"/><circle cx="233.8" cy="464.4" r="1.35"/><circle cx="232.3" cy="466.3" r="1.35"/><circle cx="235.3" cy="466.9" r="1.35"/><circle cx="229.4" cy="467.4" r="1.35"/><circle cx="232.3" cy="471.4" r="1.35"/><circle cx="235.3" cy="472.5" r="1.35"/></g>
<line x1="49.45" y1="393.86" x2="59.95" y2="393.86" stroke="#00ee00" stroke-width="1.9"/>
<line x1="49.45" y1="384.77" x2="59.95" y2="384.77" stroke="#0000ee" stroke-width="1.9"/>
<line x1="49.45" y1="384.77" x2="59.95" y2="384.77" stroke="#9c00e2" stroke-width="1.9"/>
<line x1="59.90" y1="403.46" x2="70.40" y2="403.46" stroke="#00ee00" stroke-width="1.9"/>
<line x1="59.90" y1="395.78" x2="70.40" y2="395.78" stroke="#0000ee" stroke-width="1.9"/>
<line x1="59.90" y1="397.06" x2="70.40" y2="397.06" stroke="#9c00e2" stroke-width="1.9"/>
<line x1="70.35" y1="402.56" x2="80.85" y2="402.56" stroke="#00ee00" stroke-width="1.9"/>
<line x1="70.35" y1="397.57" x2="80.85" y2="397.57" stroke="#0000ee" stroke-width="1.9"/>
<line x1="70.35" y1="397.57" x2="80.85" y2="397.57" stroke="#9c00e2" stroke-width="1.9"/>
<line x1="80.80" y1="446.98" x2="91.30" y2="446.98" stroke="#00ee00" stroke-width="1.9"/>
<line x1="80.80" y1="441.86" x2="91.30" y2="441.86" stroke="#0000ee" stroke-width="1.9"/>
<line x1="80.80" y1="441.86" x2="91.30" y2="441.86" stroke="#9c00e2" stroke-width="1.9"/>
<line x1="91.25" y1="450.18" x2="101.75" y2="450.18" stroke="#00ee00" stroke-width="1.9"/>
<line x1="91.25" y1="450.18" x2="101.75" y2="450.18" stroke="#0000ee" stroke-width="1.9"/>
<line x1="91.25" y1="450.18" x2="101.75" y2="450.18" stroke="#9c00e2" stroke-width="1.9"/>
<line x1="101.70" y1="450.82" x2="112.20" y2="450.82" stroke="#00ee00" stroke-width="1.9"/>
<line x1="101.70" y1="446.08" x2="112.20" y2="446.08" stroke="#0000ee" stroke-width="1.9"/>
<line x1="101.70" y1="450.82" x2="112.20" y2="450.82" stroke="#9c00e2" stroke-width="1.9"/>
<line x1="112.15" y1="393.73" x2="122.65" y2="393.73" stroke="#00ee00" stroke-width="1.9"/>
<line x1="112.15" y1="394.50" x2="122.65" y2="394.50" stroke="#0000ee" stroke-width="1.9"/>
<line x1="112.15" y1="393.48" x2="122.65" y2="393.48" stroke="#9c00e2" stroke-width="1.9"/>
<line x1="122.60" y1="404.10" x2="133.10" y2="404.10" stroke="#00ee00" stroke-width="1.9"/>
<line x1="122.60" y1="406.66" x2="133.10" y2="406.66" stroke="#0000ee" stroke-width="1.9"/>
<line x1="122.60" y1="401.41" x2="133.10" y2="401.41" stroke="#9c00e2" stroke-width="1.9"/>
<line x1="133.05" y1="407.94" x2="143.55" y2="407.94" stroke="#00ee00" stroke-width="1.9"/>
<line x1="133.05" y1="415.49" x2="143.55" y2="415.49" stroke="#0000ee" stroke-width="1.9"/>
<line x1="133.05" y1="405.76" x2="143.55" y2="405.76" stroke="#9c00e2" stroke-width="1.9"/>
<line x1="143.50" y1="449.67" x2="154.00" y2="449.67" stroke="#00ee00" stroke-width="1.9"/>
<line x1="143.50" y1="456.84" x2="154.00" y2="456.84" stroke="#0000ee" stroke-width="1.9"/>
<line x1="143.50" y1="450.95" x2="154.00" y2="450.95" stroke="#9c00e2" stroke-width="1.9"/>
<line x1="153.95" y1="455.94" x2="164.45" y2="455.94" stroke="#00ee00" stroke-width="1.9"/>
<line x1="153.95" y1="456.71" x2="164.45" y2="456.71" stroke="#0000ee" stroke-width="1.9"/>
<line x1="153.95" y1="455.68" x2="164.45" y2="455.68" stroke="#9c00e2" stroke-width="1.9"/>
<line x1="164.40" y1="451.59" x2="174.90" y2="451.59" stroke="#00ee00" stroke-width="1.9"/>
<line x1="164.40" y1="462.34" x2="174.90" y2="462.34" stroke="#0000ee" stroke-width="1.9"/>
<line x1="164.40" y1="449.67" x2="174.90" y2="449.67" stroke="#9c00e2" stroke-width="1.9"/>
<line x1="174.85" y1="404.74" x2="185.35" y2="404.74" stroke="#00ee00" stroke-width="1.9"/>
<line x1="174.85" y1="405.12" x2="185.35" y2="405.12" stroke="#0000ee" stroke-width="1.9"/>
<line x1="174.85" y1="399.88" x2="185.35" y2="399.88" stroke="#9c00e2" stroke-width="1.9"/>
<line x1="185.30" y1="414.47" x2="195.80" y2="414.47" stroke="#00ee00" stroke-width="1.9"/>
<line x1="185.30" y1="414.47" x2="195.80" y2="414.47" stroke="#0000ee" stroke-width="1.9"/>
<line x1="185.30" y1="414.47" x2="195.80" y2="414.47" stroke="#9c00e2" stroke-width="1.9"/>
<line x1="195.75" y1="406.02" x2="206.25" y2="406.02" stroke="#00ee00" stroke-width="1.9"/>
<line x1="195.75" y1="419.20" x2="206.25" y2="419.20" stroke="#0000ee" stroke-width="1.9"/>
<line x1="195.75" y1="419.20" x2="206.25" y2="419.20" stroke="#9c00e2" stroke-width="1.9"/>
<line x1="206.20" y1="458.50" x2="216.70" y2="458.50" stroke="#00ee00" stroke-width="1.9"/>
<line x1="206.20" y1="456.07" x2="216.70" y2="456.07" stroke="#0000ee" stroke-width="1.9"/>
<line x1="206.20" y1="453.51" x2="216.70" y2="453.51" stroke="#9c00e2" stroke-width="1.9"/>
<line x1="216.65" y1="457.99" x2="227.15" y2="457.99" stroke="#00ee00" stroke-width="1.9"/>
<line x1="216.65" y1="461.06" x2="227.15" y2="461.06" stroke="#0000ee" stroke-width="1.9"/>
<line x1="216.65" y1="466.56" x2="227.15" y2="466.56" stroke="#9c00e2" stroke-width="1.9"/>
<line x1="227.10" y1="458.50" x2="237.60" y2="458.50" stroke="#00ee00" stroke-width="1.9"/>
<line x1="227.10" y1="454.79" x2="237.60" y2="454.79" stroke="#0000ee" stroke-width="1.9"/>
<line x1="227.10" y1="463.62" x2="237.60" y2="463.62" stroke="#9c00e2" stroke-width="1.9"/>
<line x1="47.40" y1="496.90" x2="240.60" y2="496.90" stroke="#000" stroke-width="1.3"/>
<line x1="54.70" y1="496.90" x2="54.70" y2="500.70" stroke="#000" stroke-width="1.2"/>
<line x1="65.15" y1="496.90" x2="65.15" y2="500.70" stroke="#000" stroke-width="1.2"/>
<line x1="75.60" y1="496.90" x2="75.60" y2="500.70" stroke="#000" stroke-width="1.2"/>
<line x1="86.05" y1="496.90" x2="86.05" y2="500.70" stroke="#000" stroke-width="1.2"/>
<line x1="96.50" y1="496.90" x2="96.50" y2="500.70" stroke="#000" stroke-width="1.2"/>
<line x1="106.95" y1="496.90" x2="106.95" y2="500.70" stroke="#000" stroke-width="1.2"/>
<line x1="117.40" y1="496.90" x2="117.40" y2="500.70" stroke="#000" stroke-width="1.2"/>
<line x1="127.85" y1="496.90" x2="127.85" y2="500.70" stroke="#000" stroke-width="1.2"/>
<line x1="138.30" y1="496.90" x2="138.30" y2="500.70" stroke="#000" stroke-width="1.2"/>
<line x1="148.75" y1="496.90" x2="148.75" y2="500.70" stroke="#000" stroke-width="1.2"/>
<line x1="159.20" y1="496.90" x2="159.20" y2="500.70" stroke="#000" stroke-width="1.2"/>
<line x1="169.65" y1="496.90" x2="169.65" y2="500.70" stroke="#000" stroke-width="1.2"/>
<line x1="180.10" y1="496.90" x2="180.10" y2="500.70" stroke="#000" stroke-width="1.2"/>
<line x1="190.55" y1="496.90" x2="190.55" y2="500.70" stroke="#000" stroke-width="1.2"/>
<line x1="201.00" y1="496.90" x2="201.00" y2="500.70" stroke="#000" stroke-width="1.2"/>
<line x1="211.45" y1="496.90" x2="211.45" y2="500.70" stroke="#000" stroke-width="1.2"/>
<line x1="221.90" y1="496.90" x2="221.90" y2="500.70" stroke="#000" stroke-width="1.2"/>
<line x1="232.35" y1="496.90" x2="232.35" y2="500.70" stroke="#000" stroke-width="1.2"/>
<text x="45.70" y="509.20" font-size="7" text-anchor="end">DIV</text>
<text x="45.70" y="517.40" font-size="7" text-anchor="end">Cleared</text>
<text x="45.70" y="527.20" font-size="7" text-anchor="end">Cell number</text>
<line x1="54.70" y1="506.70" x2="76.83" y2="506.70" stroke="#000" stroke-width="0.9"/>
<line x1="84.83" y1="506.70" x2="106.95" y2="506.70" stroke="#000" stroke-width="0.9"/>
<line x1="54.70" y1="504.50" x2="54.70" y2="508.90" stroke="#000" stroke-width="0.9"/>
<line x1="106.95" y1="504.50" x2="106.95" y2="508.90" stroke="#000" stroke-width="0.9"/>
<text x="80.83" y="509.20" font-size="7.3" text-anchor="middle">3</text>
<text x="54.70" y="517.20" font-size="7" text-anchor="middle">+</text>
<text x="55.90" y="523.40" font-size="7.5" text-anchor="end" transform="rotate(-52 55.90 523.40)">250</text>
<text x="65.15" y="517.20" font-size="7" text-anchor="middle">+</text>
<text x="66.59" y="523.40" font-size="7.5" text-anchor="end" transform="rotate(-52 66.59 523.40)">500</text>
<text x="75.60" y="517.20" font-size="7" text-anchor="middle">+</text>
<text x="77.28" y="523.40" font-size="7.5" text-anchor="end" transform="rotate(-52 77.28 523.40)">1,000</text>
<text x="86.05" y="517.20" font-size="7" text-anchor="middle">-</text>
<text x="87.97" y="523.40" font-size="7.5" text-anchor="end" transform="rotate(-52 87.97 523.40)">250</text>
<text x="96.50" y="517.20" font-size="7" text-anchor="middle">-</text>
<text x="98.66" y="523.40" font-size="7.5" text-anchor="end" transform="rotate(-52 98.66 523.40)">500</text>
<text x="106.95" y="517.20" font-size="7" text-anchor="middle">-</text>
<text x="109.35" y="523.40" font-size="7.5" text-anchor="end" transform="rotate(-52 109.35 523.40)">1,000</text>
<line x1="117.40" y1="506.70" x2="139.53" y2="506.70" stroke="#000" stroke-width="0.9"/>
<line x1="147.53" y1="506.70" x2="169.65" y2="506.70" stroke="#000" stroke-width="0.9"/>
<line x1="117.40" y1="504.50" x2="117.40" y2="508.90" stroke="#000" stroke-width="0.9"/>
<line x1="169.65" y1="504.50" x2="169.65" y2="508.90" stroke="#000" stroke-width="0.9"/>
<text x="143.53" y="509.20" font-size="7.3" text-anchor="middle">5</text>
<text x="117.40" y="517.20" font-size="7" text-anchor="middle">+</text>
<text x="120.04" y="523.40" font-size="7.5" text-anchor="end" transform="rotate(-52 120.04 523.40)">250</text>
<text x="127.85" y="517.20" font-size="7" text-anchor="middle">+</text>
<text x="130.73" y="523.40" font-size="7.5" text-anchor="end" transform="rotate(-52 130.73 523.40)">500</text>
<text x="138.30" y="517.20" font-size="7" text-anchor="middle">+</text>
<text x="141.42" y="523.40" font-size="7.5" text-anchor="end" transform="rotate(-52 141.42 523.40)">1,000</text>
<text x="148.75" y="517.20" font-size="7" text-anchor="middle">-</text>
<text x="152.11" y="523.40" font-size="7.5" text-anchor="end" transform="rotate(-52 152.11 523.40)">250</text>
<text x="159.20" y="517.20" font-size="7" text-anchor="middle">-</text>
<text x="162.80" y="523.40" font-size="7.5" text-anchor="end" transform="rotate(-52 162.80 523.40)">500</text>
<text x="169.65" y="517.20" font-size="7" text-anchor="middle">-</text>
<text x="173.49" y="523.40" font-size="7.5" text-anchor="end" transform="rotate(-52 173.49 523.40)">1,000</text>
<line x1="180.10" y1="506.70" x2="202.22" y2="506.70" stroke="#000" stroke-width="0.9"/>
<line x1="210.22" y1="506.70" x2="232.35" y2="506.70" stroke="#000" stroke-width="0.9"/>
<line x1="180.10" y1="504.50" x2="180.10" y2="508.90" stroke="#000" stroke-width="0.9"/>
<line x1="232.35" y1="504.50" x2="232.35" y2="508.90" stroke="#000" stroke-width="0.9"/>
<text x="206.22" y="509.20" font-size="7.3" text-anchor="middle">7</text>
<text x="180.10" y="517.20" font-size="7" text-anchor="middle">+</text>
<text x="184.18" y="523.40" font-size="7.5" text-anchor="end" transform="rotate(-52 184.18 523.40)">250</text>
<text x="190.55" y="517.20" font-size="7" text-anchor="middle">+</text>
<text x="194.87" y="523.40" font-size="7.5" text-anchor="end" transform="rotate(-52 194.87 523.40)">500</text>
<text x="201.00" y="517.20" font-size="7" text-anchor="middle">+</text>
<text x="205.56" y="523.40" font-size="7.5" text-anchor="end" transform="rotate(-52 205.56 523.40)">1,000</text>
<text x="211.45" y="517.20" font-size="7" text-anchor="middle">-</text>
<text x="216.25" y="523.40" font-size="7.5" text-anchor="end" transform="rotate(-52 216.25 523.40)">250</text>
<text x="221.90" y="517.20" font-size="7" text-anchor="middle">-</text>
<text x="226.94" y="523.40" font-size="7.5" text-anchor="end" transform="rotate(-52 226.94 523.40)">500</text>
<text x="232.35" y="517.20" font-size="7" text-anchor="middle">-</text>
<text x="237.63" y="523.40" font-size="7.5" text-anchor="end" transform="rotate(-52 237.63 523.40)">1,000</text>
<text x="253.50" y="374.00" font-size="8.5">e.</text>
<text x="395.50" y="373.80" font-size="8.5">f.</text>
<text x="338.40" y="382.70" font-size="9.0" text-anchor="middle">250 cells</text>
<line x1="294.40" y1="391.50" x2="294.40" y2="447.40" stroke="#000" stroke-width="1.3"/>
<line x1="293.80" y1="446.80" x2="380.00" y2="446.80" stroke="#000" stroke-width="1.3"/>
<line x1="292.40" y1="446.80" x2="294.40" y2="446.80" stroke="#000" stroke-width="1.2"/>
<text x="291.30" y="449.40" font-size="7.3" text-anchor="end">0.0</text>
<line x1="292.40" y1="420.40" x2="294.40" y2="420.40" stroke="#000" stroke-width="1.2"/>
<text x="291.30" y="423.00" font-size="7.3" text-anchor="end">0.5</text>
<line x1="292.40" y1="394.00" x2="294.40" y2="394.00" stroke="#000" stroke-width="1.2"/>
<text x="291.30" y="396.60" font-size="7.3" text-anchor="end">1.0</text>
<text x="277.10" y="417.40" font-size="7.2" text-anchor="middle" transform="rotate(-90 277.10 417.40)">Clearing metric</text>
<line x1="303.30" y1="446.80" x2="303.30" y2="449.10" stroke="#000" stroke-width="1.2"/>
<g fill="#a600ee" fill-opacity="0.6"><circle cx="303.3" cy="396.2" r="1.5"/><circle cx="306.6" cy="396.3" r="1.5"/><circle cx="298.4" cy="397.4" r="1.5"/><circle cx="308.2" cy="397.8" r="1.5"/><circle cx="304.9" cy="397.9" r="1.5"/><circle cx="303.3" cy="400.6" r="1.5"/><circle cx="306.6" cy="403.0" r="1.5"/><circle cx="308.2" cy="403.8" r="1.5"/><circle cx="303.3" cy="409.0" r="1.5"/></g>
<g fill="#0000ff" fill-opacity="0.6"><circle cx="300.0" cy="397.0" r="1.5"/><circle cx="308.2" cy="397.2" r="1.5"/><circle cx="304.9" cy="397.5" r="1.5"/><circle cx="301.7" cy="397.7" r="1.5"/><circle cx="298.4" cy="399.3" r="1.5"/><circle cx="300.0" cy="400.8" r="1.5"/><circle cx="304.9" cy="400.9" r="1.5"/><circle cx="303.3" cy="403.2" r="1.5"/><circle cx="298.4" cy="404.7" r="1.5"/><circle cx="304.9" cy="404.9" r="1.5"/><circle cx="303.3" cy="406.0" r="1.5"/></g>
<g fill="#00dd00" fill-opacity="0.6"><circle cx="306.6" cy="400.7" r="1.5"/><circle cx="308.2" cy="400.8" r="1.5"/><circle cx="298.4" cy="401.7" r="1.5"/><circle cx="301.7" cy="401.8" r="1.5"/><circle cx="300.0" cy="403.6" r="1.5"/><circle cx="301.7" cy="405.3" r="1.5"/><circle cx="308.2" cy="405.3" r="1.5"/><circle cx="298.4" cy="405.4" r="1.5"/><circle cx="306.6" cy="407.3" r="1.5"/><circle cx="300.0" cy="409.0" r="1.5"/><circle cx="303.3" cy="413.7" r="1.5"/></g>
<line x1="316.50" y1="446.80" x2="316.50" y2="449.10" stroke="#000" stroke-width="1.2"/>
<g fill="#0000ff" fill-opacity="0.6"><circle cx="316.5" cy="397.0" r="1.5"/><circle cx="319.8" cy="397.2" r="1.5"/><circle cx="321.4" cy="401.1" r="1.5"/><circle cx="318.1" cy="401.6" r="1.5"/><circle cx="319.8" cy="402.4" r="1.5"/><circle cx="318.1" cy="404.0" r="1.5"/><circle cx="321.4" cy="404.1" r="1.5"/><circle cx="311.6" cy="404.2" r="1.5"/><circle cx="319.8" cy="406.0" r="1.5"/><circle cx="316.5" cy="407.2" r="1.5"/><circle cx="314.9" cy="410.2" r="1.5"/><circle cx="311.6" cy="410.5" r="1.5"/></g>
<g fill="#a600ee" fill-opacity="0.6"><circle cx="313.2" cy="397.7" r="1.5"/><circle cx="314.9" cy="400.5" r="1.5"/><circle cx="311.6" cy="402.8" r="1.5"/><circle cx="314.9" cy="404.5" r="1.5"/><circle cx="321.4" cy="405.0" r="1.5"/><circle cx="311.6" cy="405.5" r="1.5"/><circle cx="314.9" cy="405.8" r="1.5"/><circle cx="321.4" cy="408.3" r="1.5"/><circle cx="318.1" cy="408.8" r="1.5"/></g>
<g fill="#00dd00" fill-opacity="0.6"><circle cx="318.1" cy="399.5" r="1.5"/><circle cx="311.6" cy="401.3" r="1.5"/><circle cx="314.9" cy="402.3" r="1.5"/><circle cx="316.5" cy="402.9" r="1.5"/><circle cx="321.4" cy="403.0" r="1.5"/><circle cx="313.2" cy="404.0" r="1.5"/><circle cx="318.1" cy="404.9" r="1.5"/><circle cx="313.2" cy="407.2" r="1.5"/><circle cx="319.8" cy="411.0" r="1.5"/></g>
<line x1="329.70" y1="446.80" x2="329.70" y2="449.10" stroke="#000" stroke-width="1.2"/>
<g fill="#a600ee" fill-opacity="0.6"><circle cx="329.7" cy="402.4" r="1.5"/><circle cx="333.0" cy="402.9" r="1.5"/><circle cx="334.6" cy="403.3" r="1.5"/><circle cx="331.3" cy="404.1" r="1.5"/><circle cx="334.6" cy="404.1" r="1.5"/><circle cx="333.0" cy="406.8" r="1.5"/><circle cx="326.4" cy="406.9" r="1.5"/><circle cx="334.6" cy="407.1" r="1.5"/><circle cx="324.8" cy="407.3" r="1.5"/><circle cx="334.6" cy="408.9" r="1.5"/><circle cx="334.6" cy="411.1" r="1.5"/><circle cx="326.4" cy="412.2" r="1.5"/></g>
<g fill="#0000ff" fill-opacity="0.6"><circle cx="326.4" cy="403.0" r="1.5"/><circle cx="324.8" cy="403.8" r="1.5"/><circle cx="333.0" cy="409.1" r="1.5"/><circle cx="329.7" cy="409.9" r="1.5"/><circle cx="334.6" cy="410.0" r="1.5"/><circle cx="324.8" cy="410.1" r="1.5"/><circle cx="331.3" cy="410.2" r="1.5"/><circle cx="328.1" cy="410.8" r="1.5"/><circle cx="331.3" cy="411.3" r="1.5"/><circle cx="331.3" cy="414.9" r="1.5"/><circle cx="329.7" cy="429.9" r="1.5"/></g>
<g fill="#00dd00" fill-opacity="0.6"><circle cx="328.1" cy="404.1" r="1.5"/><circle cx="324.8" cy="405.1" r="1.5"/><circle cx="329.7" cy="406.4" r="1.5"/><circle cx="331.3" cy="407.6" r="1.5"/><circle cx="328.1" cy="407.8" r="1.5"/><circle cx="324.8" cy="409.0" r="1.5"/><circle cx="329.7" cy="409.0" r="1.5"/><circle cx="326.4" cy="409.5" r="1.5"/><circle cx="329.7" cy="412.6" r="1.5"/><circle cx="329.7" cy="438.9" r="1.5"/></g>
<line x1="342.90" y1="446.80" x2="342.90" y2="449.10" stroke="#000" stroke-width="1.2"/>
<g fill="#00dd00" fill-opacity="0.6"><circle cx="342.9" cy="421.5" r="1.5"/><circle cx="347.8" cy="422.6" r="1.5"/><circle cx="341.2" cy="423.2" r="1.5"/><circle cx="342.9" cy="425.0" r="1.5"/><circle cx="347.8" cy="426.5" r="1.5"/><circle cx="346.2" cy="427.7" r="1.5"/><circle cx="342.9" cy="428.6" r="1.5"/><circle cx="344.5" cy="430.1" r="1.5"/></g>
<g fill="#a600ee" fill-opacity="0.6"><circle cx="346.2" cy="421.7" r="1.5"/><circle cx="347.8" cy="423.2" r="1.5"/><circle cx="344.5" cy="423.8" r="1.5"/><circle cx="341.2" cy="423.9" r="1.5"/><circle cx="347.8" cy="424.0" r="1.5"/><circle cx="337.9" cy="424.1" r="1.5"/><circle cx="339.6" cy="424.8" r="1.5"/><circle cx="337.9" cy="425.3" r="1.5"/><circle cx="344.5" cy="426.4" r="1.5"/><circle cx="337.9" cy="427.5" r="1.5"/><circle cx="347.8" cy="428.6" r="1.5"/></g>
<g fill="#0000ff" fill-opacity="0.6"><circle cx="339.6" cy="422.4" r="1.5"/><circle cx="337.9" cy="422.8" r="1.5"/><circle cx="344.5" cy="422.9" r="1.5"/><circle cx="342.9" cy="423.2" r="1.5"/><circle cx="337.9" cy="423.5" r="1.5"/><circle cx="346.2" cy="424.1" r="1.5"/><circle cx="346.2" cy="425.1" r="1.5"/><circle cx="347.8" cy="425.6" r="1.5"/><circle cx="342.9" cy="426.0" r="1.5"/><circle cx="339.6" cy="426.2" r="1.5"/><circle cx="341.2" cy="427.2" r="1.5"/><circle cx="339.6" cy="429.2" r="1.5"/></g>
<line x1="356.10" y1="446.80" x2="356.10" y2="449.10" stroke="#000" stroke-width="1.2"/>
<g fill="#00dd00" fill-opacity="0.6"><circle cx="356.1" cy="423.6" r="1.5"/><circle cx="361.1" cy="425.7" r="1.5"/><circle cx="351.2" cy="426.4" r="1.5"/><circle cx="354.5" cy="427.4" r="1.5"/><circle cx="361.1" cy="428.2" r="1.5"/><circle cx="356.1" cy="429.2" r="1.5"/><circle cx="361.1" cy="429.3" r="1.5"/><circle cx="357.8" cy="431.3" r="1.5"/></g>
<g fill="#a600ee" fill-opacity="0.6"><circle cx="359.4" cy="424.8" r="1.5"/><circle cx="352.8" cy="425.0" r="1.5"/><circle cx="356.1" cy="425.5" r="1.5"/><circle cx="357.8" cy="427.1" r="1.5"/><circle cx="351.2" cy="427.5" r="1.5"/><circle cx="352.8" cy="428.1" r="1.5"/><circle cx="357.8" cy="428.2" r="1.5"/><circle cx="354.5" cy="428.4" r="1.5"/><circle cx="361.1" cy="428.5" r="1.5"/><circle cx="356.1" cy="428.5" r="1.5"/><circle cx="357.8" cy="429.7" r="1.5"/><circle cx="361.1" cy="431.1" r="1.5"/></g>
<g fill="#0000ff" fill-opacity="0.6"><circle cx="361.1" cy="427.4" r="1.5"/><circle cx="359.4" cy="427.9" r="1.5"/><circle cx="356.1" cy="428.0" r="1.5"/><circle cx="351.2" cy="428.3" r="1.5"/><circle cx="351.2" cy="428.7" r="1.5"/><circle cx="359.4" cy="428.8" r="1.5"/><circle cx="352.8" cy="429.1" r="1.5"/><circle cx="354.5" cy="430.0" r="1.5"/><circle cx="351.2" cy="430.8" r="1.5"/></g>
<line x1="369.30" y1="446.80" x2="369.30" y2="449.10" stroke="#000" stroke-width="1.2"/>
<g fill="#a600ee" fill-opacity="0.6"><circle cx="369.3" cy="425.9" r="1.5"/><circle cx="372.6" cy="426.1" r="1.5"/><circle cx="366.0" cy="426.9" r="1.5"/><circle cx="370.9" cy="427.5" r="1.5"/><circle cx="367.7" cy="428.2" r="1.5"/><circle cx="374.2" cy="429.7" r="1.5"/><circle cx="364.4" cy="430.1" r="1.5"/><circle cx="367.7" cy="430.5" r="1.5"/><circle cx="364.4" cy="430.6" r="1.5"/><circle cx="370.9" cy="430.6" r="1.5"/></g>
<g fill="#0000ff" fill-opacity="0.6"><circle cx="374.2" cy="427.2" r="1.5"/><circle cx="364.4" cy="427.3" r="1.5"/><circle cx="364.4" cy="429.0" r="1.5"/><circle cx="374.2" cy="429.2" r="1.5"/><circle cx="370.9" cy="429.6" r="1.5"/><circle cx="370.9" cy="430.3" r="1.5"/><circle cx="367.7" cy="430.7" r="1.5"/><circle cx="372.6" cy="431.1" r="1.5"/><circle cx="364.4" cy="433.7" r="1.5"/><circle cx="369.3" cy="435.7" r="1.5"/></g>
<g fill="#00dd00" fill-opacity="0.6"><circle cx="372.6" cy="428.7" r="1.5"/><circle cx="369.3" cy="429.1" r="1.5"/><circle cx="366.0" cy="429.6" r="1.5"/><circle cx="367.7" cy="430.0" r="1.5"/><circle cx="374.2" cy="430.4" r="1.5"/><circle cx="374.2" cy="430.7" r="1.5"/><circle cx="364.4" cy="430.8" r="1.5"/><circle cx="369.3" cy="432.1" r="1.5"/><circle cx="366.0" cy="432.5" r="1.5"/><circle cx="372.6" cy="432.6" r="1.5"/></g>
<line x1="297.80" y1="404.30" x2="308.80" y2="404.30" stroke="#00ee00" stroke-width="1.1"/>
<line x1="303.30" y1="400.45" x2="303.30" y2="408.14" stroke="#00ee00" stroke-width="0.9"/>
<line x1="300.70" y1="400.45" x2="305.90" y2="400.45" stroke="#00ee00" stroke-width="0.9"/>
<line x1="300.70" y1="408.14" x2="305.90" y2="408.14" stroke="#00ee00" stroke-width="0.9"/>
<line x1="297.80" y1="400.55" x2="308.80" y2="400.55" stroke="#0000ee" stroke-width="1.1"/>
<line x1="303.30" y1="397.30" x2="303.30" y2="403.80" stroke="#0000ee" stroke-width="0.9"/>
<line x1="300.70" y1="397.30" x2="305.90" y2="397.30" stroke="#0000ee" stroke-width="0.9"/>
<line x1="300.70" y1="403.80" x2="305.90" y2="403.80" stroke="#0000ee" stroke-width="0.9"/>
<line x1="297.80" y1="400.55" x2="308.80" y2="400.55" stroke="#9c00e2" stroke-width="1.1"/>
<line x1="303.30" y1="396.49" x2="303.30" y2="404.60" stroke="#9c00e2" stroke-width="0.9"/>
<line x1="300.70" y1="396.49" x2="305.90" y2="396.49" stroke="#9c00e2" stroke-width="0.9"/>
<line x1="300.70" y1="404.60" x2="305.90" y2="404.60" stroke="#9c00e2" stroke-width="0.9"/>
<line x1="311.00" y1="404.24" x2="322.00" y2="404.24" stroke="#00ee00" stroke-width="1.1"/>
<line x1="316.50" y1="401.02" x2="316.50" y2="407.47" stroke="#00ee00" stroke-width="0.9"/>
<line x1="313.90" y1="401.02" x2="319.10" y2="401.02" stroke="#00ee00" stroke-width="0.9"/>
<line x1="313.90" y1="407.47" x2="319.10" y2="407.47" stroke="#00ee00" stroke-width="0.9"/>
<line x1="311.00" y1="404.56" x2="322.00" y2="404.56" stroke="#0000ee" stroke-width="1.1"/>
<line x1="316.50" y1="400.35" x2="316.50" y2="408.77" stroke="#0000ee" stroke-width="0.9"/>
<line x1="313.90" y1="400.35" x2="319.10" y2="400.35" stroke="#0000ee" stroke-width="0.9"/>
<line x1="313.90" y1="408.77" x2="319.10" y2="408.77" stroke="#0000ee" stroke-width="0.9"/>
<line x1="311.00" y1="404.14" x2="322.00" y2="404.14" stroke="#9c00e2" stroke-width="1.1"/>
<line x1="316.50" y1="400.78" x2="316.50" y2="407.50" stroke="#9c00e2" stroke-width="0.9"/>
<line x1="313.90" y1="400.78" x2="319.10" y2="400.78" stroke="#9c00e2" stroke-width="0.9"/>
<line x1="313.90" y1="407.50" x2="319.10" y2="407.50" stroke="#9c00e2" stroke-width="0.9"/>
<line x1="324.20" y1="408.78" x2="335.20" y2="408.78" stroke="#00ee00" stroke-width="1.1"/>
<line x1="329.70" y1="406.22" x2="329.70" y2="411.35" stroke="#00ee00" stroke-width="0.9"/>
<line x1="327.10" y1="406.22" x2="332.30" y2="406.22" stroke="#00ee00" stroke-width="0.9"/>
<line x1="327.10" y1="411.35" x2="332.30" y2="411.35" stroke="#00ee00" stroke-width="0.9"/>
<line x1="324.20" y1="408.94" x2="335.20" y2="408.94" stroke="#0000ee" stroke-width="1.1"/>
<line x1="329.70" y1="405.62" x2="329.70" y2="412.27" stroke="#0000ee" stroke-width="0.9"/>
<line x1="327.10" y1="405.62" x2="332.30" y2="405.62" stroke="#0000ee" stroke-width="0.9"/>
<line x1="327.10" y1="412.27" x2="332.30" y2="412.27" stroke="#0000ee" stroke-width="0.9"/>
<line x1="324.20" y1="406.78" x2="335.20" y2="406.78" stroke="#9c00e2" stroke-width="1.1"/>
<line x1="329.70" y1="403.69" x2="329.70" y2="409.86" stroke="#9c00e2" stroke-width="0.9"/>
<line x1="327.10" y1="403.69" x2="332.30" y2="403.69" stroke="#9c00e2" stroke-width="0.9"/>
<line x1="327.10" y1="409.86" x2="332.30" y2="409.86" stroke="#9c00e2" stroke-width="0.9"/>
<line x1="337.40" y1="426.21" x2="348.40" y2="426.21" stroke="#00ee00" stroke-width="1.1"/>
<line x1="342.90" y1="423.28" x2="342.90" y2="429.14" stroke="#00ee00" stroke-width="0.9"/>
<line x1="340.30" y1="423.28" x2="345.50" y2="423.28" stroke="#00ee00" stroke-width="0.9"/>
<line x1="340.30" y1="429.14" x2="345.50" y2="429.14" stroke="#00ee00" stroke-width="0.9"/>
<line x1="337.40" y1="424.10" x2="348.40" y2="424.10" stroke="#0000ee" stroke-width="1.1"/>
<line x1="342.90" y1="421.98" x2="342.90" y2="426.21" stroke="#0000ee" stroke-width="0.9"/>
<line x1="340.30" y1="421.98" x2="345.50" y2="421.98" stroke="#0000ee" stroke-width="0.9"/>
<line x1="340.30" y1="426.21" x2="345.50" y2="426.21" stroke="#0000ee" stroke-width="0.9"/>
<line x1="337.40" y1="424.10" x2="348.40" y2="424.10" stroke="#9c00e2" stroke-width="1.1"/>
<line x1="342.90" y1="422.04" x2="342.90" y2="426.15" stroke="#9c00e2" stroke-width="0.9"/>
<line x1="340.30" y1="422.04" x2="345.50" y2="422.04" stroke="#9c00e2" stroke-width="0.9"/>
<line x1="340.30" y1="426.15" x2="345.50" y2="426.15" stroke="#9c00e2" stroke-width="0.9"/>
<line x1="350.60" y1="427.32" x2="361.60" y2="427.32" stroke="#00ee00" stroke-width="1.1"/>
<line x1="356.10" y1="425.05" x2="356.10" y2="429.58" stroke="#00ee00" stroke-width="0.9"/>
<line x1="353.50" y1="425.05" x2="358.70" y2="425.05" stroke="#00ee00" stroke-width="0.9"/>
<line x1="353.50" y1="429.58" x2="358.70" y2="429.58" stroke="#00ee00" stroke-width="0.9"/>
<line x1="350.60" y1="430.27" x2="361.60" y2="430.27" stroke="#0000ee" stroke-width="1.1"/>
<line x1="356.10" y1="428.48" x2="356.10" y2="432.07" stroke="#0000ee" stroke-width="0.9"/>
<line x1="353.50" y1="428.48" x2="358.70" y2="428.48" stroke="#0000ee" stroke-width="0.9"/>
<line x1="353.50" y1="432.07" x2="358.70" y2="432.07" stroke="#0000ee" stroke-width="0.9"/>
<line x1="350.60" y1="427.84" x2="361.60" y2="427.84" stroke="#9c00e2" stroke-width="1.1"/>
<line x1="356.10" y1="426.04" x2="356.10" y2="429.65" stroke="#9c00e2" stroke-width="0.9"/>
<line x1="353.50" y1="426.04" x2="358.70" y2="426.04" stroke="#9c00e2" stroke-width="0.9"/>
<line x1="353.50" y1="429.65" x2="358.70" y2="429.65" stroke="#9c00e2" stroke-width="0.9"/>
<line x1="363.80" y1="430.96" x2="374.80" y2="430.96" stroke="#00ee00" stroke-width="1.1"/>
<line x1="369.30" y1="429.63" x2="369.30" y2="432.29" stroke="#00ee00" stroke-width="0.9"/>
<line x1="366.70" y1="429.63" x2="371.90" y2="429.63" stroke="#00ee00" stroke-width="0.9"/>
<line x1="366.70" y1="432.29" x2="371.90" y2="432.29" stroke="#00ee00" stroke-width="0.9"/>
<line x1="363.80" y1="429.96" x2="374.80" y2="429.96" stroke="#0000ee" stroke-width="1.1"/>
<line x1="369.30" y1="427.39" x2="369.30" y2="432.52" stroke="#0000ee" stroke-width="0.9"/>
<line x1="366.70" y1="427.39" x2="371.90" y2="427.39" stroke="#0000ee" stroke-width="0.9"/>
<line x1="366.70" y1="432.52" x2="371.90" y2="432.52" stroke="#0000ee" stroke-width="0.9"/>
<line x1="363.80" y1="428.90" x2="374.80" y2="428.90" stroke="#9c00e2" stroke-width="1.1"/>
<line x1="369.30" y1="427.07" x2="369.30" y2="430.73" stroke="#9c00e2" stroke-width="0.9"/>
<line x1="366.70" y1="427.07" x2="371.90" y2="427.07" stroke="#9c00e2" stroke-width="0.9"/>
<line x1="366.70" y1="430.73" x2="371.90" y2="430.73" stroke="#9c00e2" stroke-width="0.9"/>
<path d="M303.30,387.70 V386.60 H329.70 V387.70" fill="none" stroke="#3a3a3a" stroke-width="0.9"/>
<text x="316.50" y="389.20" font-size="8.0" text-anchor="middle" font-weight="bold" fill="#222">**</text>
<path d="M303.30,392.70 V391.60 H316.50 V392.70" fill="none" stroke="#3a3a3a" stroke-width="0.9"/>
<text x="309.90" y="390.80" font-size="6.0" text-anchor="middle" fill="#333">ns</text>
<path d="M316.50,397.10 V396.00 H329.70 V397.10" fill="none" stroke="#3a3a3a" stroke-width="0.9"/>
<text x="323.10" y="398.60" font-size="8.0" text-anchor="middle" font-weight="bold" fill="#222">**</text>
<path d="M342.90,412.80 V411.70 H369.30 V412.80" fill="none" stroke="#3a3a3a" stroke-width="0.9"/>
<text x="356.10" y="414.30" font-size="8.0" text-anchor="middle" font-weight="bold" fill="#222">*</text>
<path d="M342.90,418.00 V416.90 H356.10 V418.00" fill="none" stroke="#3a3a3a" stroke-width="0.9"/>
<text x="349.50" y="416.10" font-size="6.0" text-anchor="middle" fill="#333">ns</text>
<path d="M356.10,421.80 V420.70 H369.30 V421.80" fill="none" stroke="#3a3a3a" stroke-width="0.9"/>
<text x="362.70" y="419.90" font-size="6.0" text-anchor="middle" fill="#333">ns</text>
<text x="293.80" y="456.60" font-size="7.1" text-anchor="end">Cleared</text>
<text x="303.30" y="455.80" font-size="7.0" text-anchor="middle">+</text>
<text x="316.50" y="455.80" font-size="7.0" text-anchor="middle">+</text>
<text x="329.70" y="455.80" font-size="7.0" text-anchor="middle">+</text>
<text x="342.90" y="455.80" font-size="7.0" text-anchor="middle">-</text>
<text x="356.10" y="455.80" font-size="7.0" text-anchor="middle">-</text>
<text x="369.30" y="455.80" font-size="7.0" text-anchor="middle">-</text>
<text x="293.80" y="465.70" font-size="7.1" text-anchor="end">DIV</text>
<text x="303.30" y="465.70" font-size="7.3" text-anchor="middle">3</text>
<text x="316.50" y="465.70" font-size="7.3" text-anchor="middle">5</text>
<text x="329.70" y="465.70" font-size="7.3" text-anchor="middle">7</text>
<text x="342.90" y="465.70" font-size="7.3" text-anchor="middle">3</text>
<text x="356.10" y="465.70" font-size="7.3" text-anchor="middle">5</text>
<text x="369.30" y="465.70" font-size="7.3" text-anchor="middle">7</text>
<text x="338.30" y="485.30" font-size="9.0" text-anchor="middle">500 cells</text>
<line x1="294.40" y1="492.30" x2="294.40" y2="548.20" stroke="#000" stroke-width="1.3"/>
<line x1="293.80" y1="547.60" x2="380.00" y2="547.60" stroke="#000" stroke-width="1.3"/>
<line x1="292.40" y1="547.60" x2="294.40" y2="547.60" stroke="#000" stroke-width="1.2"/>
<text x="291.30" y="550.20" font-size="7.3" text-anchor="end">0.0</text>
<line x1="292.40" y1="521.20" x2="294.40" y2="521.20" stroke="#000" stroke-width="1.2"/>
<text x="291.30" y="523.80" font-size="7.3" text-anchor="end">0.5</text>
<line x1="292.40" y1="494.80" x2="294.40" y2="494.80" stroke="#000" stroke-width="1.2"/>
<text x="291.30" y="497.40" font-size="7.3" text-anchor="end">1.0</text>
<text x="277.10" y="518.20" font-size="7.2" text-anchor="middle" transform="rotate(-90 277.10 518.20)">Clearing metric</text>
<line x1="303.30" y1="547.60" x2="303.30" y2="549.90" stroke="#000" stroke-width="1.2"/>
<g fill="#a600ee" fill-opacity="0.6"><circle cx="303.3" cy="498.4" r="1.5"/><circle cx="306.6" cy="500.3" r="1.5"/><circle cx="308.2" cy="504.8" r="1.5"/><circle cx="298.4" cy="504.8" r="1.5"/><circle cx="304.9" cy="505.2" r="1.5"/><circle cx="300.0" cy="507.3" r="1.5"/><circle cx="308.2" cy="508.5" r="1.5"/><circle cx="301.7" cy="509.0" r="1.5"/><circle cx="304.9" cy="510.5" r="1.5"/><circle cx="308.2" cy="511.0" r="1.5"/><circle cx="304.9" cy="511.8" r="1.5"/><circle cx="308.2" cy="513.6" r="1.5"/></g>
<g fill="#0000ff" fill-opacity="0.6"><circle cx="303.3" cy="502.3" r="1.5"/><circle cx="300.0" cy="504.3" r="1.5"/><circle cx="301.7" cy="505.2" r="1.5"/><circle cx="298.4" cy="506.1" r="1.5"/><circle cx="303.3" cy="507.3" r="1.5"/><circle cx="304.9" cy="508.9" r="1.5"/><circle cx="308.2" cy="509.3" r="1.5"/><circle cx="301.7" cy="511.4" r="1.5"/></g>
<g fill="#00dd00" fill-opacity="0.6"><circle cx="306.6" cy="504.3" r="1.5"/><circle cx="303.3" cy="504.6" r="1.5"/><circle cx="308.2" cy="505.3" r="1.5"/><circle cx="306.6" cy="507.1" r="1.5"/><circle cx="298.4" cy="508.7" r="1.5"/><circle cx="298.4" cy="509.9" r="1.5"/><circle cx="303.3" cy="510.1" r="1.5"/><circle cx="306.6" cy="510.2" r="1.5"/><circle cx="300.0" cy="510.4" r="1.5"/><circle cx="298.4" cy="511.7" r="1.5"/><circle cx="303.3" cy="515.4" r="1.5"/><circle cx="304.9" cy="517.9" r="1.5"/><circle cx="303.3" cy="523.3" r="1.5"/></g>
<line x1="316.50" y1="547.60" x2="316.50" y2="549.90" stroke="#000" stroke-width="1.2"/>
<g fill="#a600ee" fill-opacity="0.6"><circle cx="316.5" cy="502.1" r="1.5"/><circle cx="319.8" cy="503.5" r="1.5"/><circle cx="311.6" cy="505.3" r="1.5"/><circle cx="318.1" cy="505.4" r="1.5"/><circle cx="321.4" cy="507.2" r="1.5"/><circle cx="318.1" cy="507.5" r="1.5"/><circle cx="319.8" cy="508.9" r="1.5"/><circle cx="316.5" cy="510.1" r="1.5"/><circle cx="313.2" cy="510.6" r="1.5"/><circle cx="319.8" cy="513.3" r="1.5"/><circle cx="318.1" cy="515.5" r="1.5"/></g>
<g fill="#00dd00" fill-opacity="0.6"><circle cx="314.9" cy="504.1" r="1.5"/><circle cx="311.6" cy="506.2" r="1.5"/><circle cx="319.8" cy="506.4" r="1.5"/><circle cx="314.9" cy="508.6" r="1.5"/><circle cx="311.6" cy="508.8" r="1.5"/><circle cx="321.4" cy="510.2" r="1.5"/><circle cx="318.1" cy="511.2" r="1.5"/><circle cx="314.9" cy="512.5" r="1.5"/></g>
<g fill="#0000ff" fill-opacity="0.6"><circle cx="321.4" cy="505.9" r="1.5"/><circle cx="314.9" cy="506.0" r="1.5"/><circle cx="316.5" cy="506.6" r="1.5"/><circle cx="313.2" cy="507.2" r="1.5"/><circle cx="311.6" cy="512.7" r="1.5"/><circle cx="316.5" cy="513.6" r="1.5"/><circle cx="321.4" cy="514.0" r="1.5"/><circle cx="313.2" cy="514.5" r="1.5"/><circle cx="314.9" cy="516.4" r="1.5"/><circle cx="321.4" cy="517.5" r="1.5"/></g>
<line x1="329.70" y1="547.60" x2="329.70" y2="549.90" stroke="#000" stroke-width="1.2"/>
<g fill="#0000ff" fill-opacity="0.6"><circle cx="329.7" cy="507.1" r="1.5"/><circle cx="329.7" cy="511.0" r="1.5"/><circle cx="328.1" cy="513.4" r="1.5"/><circle cx="324.8" cy="513.5" r="1.5"/><circle cx="329.7" cy="513.9" r="1.5"/><circle cx="329.7" cy="514.7" r="1.5"/><circle cx="334.6" cy="515.1" r="1.5"/><circle cx="328.1" cy="515.9" r="1.5"/><circle cx="324.8" cy="516.4" r="1.5"/><circle cx="328.1" cy="517.1" r="1.5"/><circle cx="329.7" cy="534.4" r="1.5"/></g>
<g fill="#a600ee" fill-opacity="0.6"><circle cx="333.0" cy="507.7" r="1.5"/><circle cx="334.6" cy="510.3" r="1.5"/><circle cx="324.8" cy="510.9" r="1.5"/><circle cx="333.0" cy="511.7" r="1.5"/><circle cx="326.4" cy="511.7" r="1.5"/><circle cx="331.3" cy="513.1" r="1.5"/><circle cx="326.4" cy="514.7" r="1.5"/><circle cx="324.8" cy="515.9" r="1.5"/><circle cx="334.6" cy="516.2" r="1.5"/><circle cx="331.3" cy="516.4" r="1.5"/></g>
<g fill="#00dd00" fill-opacity="0.6"><circle cx="328.1" cy="509.5" r="1.5"/><circle cx="331.3" cy="509.9" r="1.5"/><circle cx="334.6" cy="512.8" r="1.5"/><circle cx="334.6" cy="513.6" r="1.5"/><circle cx="324.8" cy="513.9" r="1.5"/><circle cx="333.0" cy="514.1" r="1.5"/><circle cx="333.0" cy="515.0" r="1.5"/><circle cx="326.4" cy="515.3" r="1.5"/><circle cx="331.3" cy="515.6" r="1.5"/><circle cx="333.0" cy="518.7" r="1.5"/><circle cx="329.7" cy="521.4" r="1.5"/></g>
<line x1="342.90" y1="547.60" x2="342.90" y2="549.90" stroke="#000" stroke-width="1.2"/>
<g fill="#a600ee" fill-opacity="0.6"><circle cx="342.9" cy="525.1" r="1.5"/><circle cx="339.6" cy="526.3" r="1.5"/><circle cx="337.9" cy="526.7" r="1.5"/><circle cx="342.9" cy="527.2" r="1.5"/><circle cx="337.9" cy="527.4" r="1.5"/><circle cx="347.8" cy="529.3" r="1.5"/><circle cx="339.6" cy="529.9" r="1.5"/><circle cx="342.9" cy="530.1" r="1.5"/><circle cx="337.9" cy="532.3" r="1.5"/></g>
<g fill="#00dd00" fill-opacity="0.6"><circle cx="346.2" cy="526.0" r="1.5"/><circle cx="347.8" cy="526.4" r="1.5"/><circle cx="341.2" cy="527.3" r="1.5"/><circle cx="347.8" cy="527.4" r="1.5"/><circle cx="339.6" cy="528.4" r="1.5"/><circle cx="337.9" cy="529.1" r="1.5"/><circle cx="344.5" cy="529.7" r="1.5"/><circle cx="347.8" cy="529.9" r="1.5"/><circle cx="337.9" cy="530.2" r="1.5"/></g>
<g fill="#0000ff" fill-opacity="0.6"><circle cx="344.5" cy="527.3" r="1.5"/><circle cx="346.2" cy="527.6" r="1.5"/><circle cx="341.2" cy="528.0" r="1.5"/><circle cx="337.9" cy="528.1" r="1.5"/><circle cx="344.5" cy="528.2" r="1.5"/><circle cx="347.8" cy="528.3" r="1.5"/><circle cx="342.9" cy="528.9" r="1.5"/><circle cx="346.2" cy="529.0" r="1.5"/><circle cx="341.2" cy="529.3" r="1.5"/><circle cx="344.5" cy="530.9" r="1.5"/><circle cx="341.2" cy="531.3" r="1.5"/><circle cx="347.8" cy="532.3" r="1.5"/></g>
<line x1="356.10" y1="547.60" x2="356.10" y2="549.90" stroke="#000" stroke-width="1.2"/>
<g fill="#a600ee" fill-opacity="0.6"><circle cx="356.1" cy="526.8" r="1.5"/><circle cx="357.8" cy="528.9" r="1.5"/><circle cx="351.2" cy="530.2" r="1.5"/><circle cx="354.5" cy="530.4" r="1.5"/><circle cx="356.1" cy="531.0" r="1.5"/><circle cx="361.1" cy="531.1" r="1.5"/><circle cx="352.8" cy="532.0" r="1.5"/><circle cx="356.1" cy="533.5" r="1.5"/></g>
<g fill="#0000ff" fill-opacity="0.6"><circle cx="354.5" cy="529.1" r="1.5"/><circle cx="359.4" cy="529.9" r="1.5"/><circle cx="352.8" cy="530.2" r="1.5"/><circle cx="361.1" cy="530.2" r="1.5"/><circle cx="357.8" cy="530.3" r="1.5"/><circle cx="361.1" cy="532.3" r="1.5"/><circle cx="356.1" cy="532.4" r="1.5"/><circle cx="351.2" cy="532.6" r="1.5"/><circle cx="351.2" cy="533.0" r="1.5"/><circle cx="361.1" cy="533.4" r="1.5"/><circle cx="361.1" cy="533.7" r="1.5"/><circle cx="357.8" cy="534.8" r="1.5"/></g>
<g fill="#00dd00" fill-opacity="0.6"><circle cx="361.1" cy="529.3" r="1.5"/><circle cx="351.2" cy="529.6" r="1.5"/><circle cx="356.1" cy="529.7" r="1.5"/><circle cx="351.2" cy="531.3" r="1.5"/><circle cx="357.8" cy="531.5" r="1.5"/><circle cx="354.5" cy="531.5" r="1.5"/><circle cx="359.4" cy="531.6" r="1.5"/><circle cx="359.4" cy="532.7" r="1.5"/><circle cx="354.5" cy="532.9" r="1.5"/><circle cx="357.8" cy="533.0" r="1.5"/><circle cx="352.8" cy="533.5" r="1.5"/></g>
<line x1="369.30" y1="547.60" x2="369.30" y2="549.90" stroke="#000" stroke-width="1.2"/>
<g fill="#00dd00" fill-opacity="0.6"><circle cx="369.3" cy="521.2" r="1.5"/><circle cx="369.3" cy="528.1" r="1.5"/><circle cx="372.6" cy="528.3" r="1.5"/><circle cx="366.0" cy="528.8" r="1.5"/><circle cx="374.2" cy="529.1" r="1.5"/><circle cx="364.4" cy="530.0" r="1.5"/><circle cx="367.7" cy="530.8" r="1.5"/><circle cx="370.9" cy="531.1" r="1.5"/><circle cx="364.4" cy="531.2" r="1.5"/><circle cx="372.6" cy="532.6" r="1.5"/><circle cx="366.0" cy="532.7" r="1.5"/></g>
<g fill="#0000ff" fill-opacity="0.6"><circle cx="370.9" cy="529.8" r="1.5"/><circle cx="374.2" cy="530.9" r="1.5"/><circle cx="369.3" cy="532.0" r="1.5"/><circle cx="374.2" cy="533.1" r="1.5"/><circle cx="364.4" cy="533.3" r="1.5"/><circle cx="364.4" cy="534.5" r="1.5"/><circle cx="367.7" cy="534.7" r="1.5"/><circle cx="366.0" cy="534.9" r="1.5"/><circle cx="374.2" cy="535.3" r="1.5"/></g>
<g fill="#a600ee" fill-opacity="0.6"><circle cx="369.3" cy="533.3" r="1.5"/><circle cx="367.7" cy="533.6" r="1.5"/><circle cx="370.9" cy="534.2" r="1.5"/><circle cx="374.2" cy="534.4" r="1.5"/><circle cx="372.6" cy="534.9" r="1.5"/><circle cx="370.9" cy="535.1" r="1.5"/><circle cx="369.3" cy="535.4" r="1.5"/><circle cx="364.4" cy="535.7" r="1.5"/><circle cx="367.7" cy="535.8" r="1.5"/><circle cx="372.6" cy="536.1" r="1.5"/><circle cx="369.3" cy="538.1" r="1.5"/></g>
<line x1="297.80" y1="509.06" x2="308.80" y2="509.06" stroke="#00ee00" stroke-width="1.1"/>
<line x1="303.30" y1="505.07" x2="303.30" y2="513.04" stroke="#00ee00" stroke-width="0.9"/>
<line x1="300.70" y1="505.07" x2="305.90" y2="505.07" stroke="#00ee00" stroke-width="0.9"/>
<line x1="300.70" y1="513.04" x2="305.90" y2="513.04" stroke="#00ee00" stroke-width="0.9"/>
<line x1="297.80" y1="505.89" x2="308.80" y2="505.89" stroke="#0000ee" stroke-width="1.1"/>
<line x1="303.30" y1="502.95" x2="303.30" y2="508.82" stroke="#0000ee" stroke-width="0.9"/>
<line x1="300.70" y1="502.95" x2="305.90" y2="502.95" stroke="#0000ee" stroke-width="0.9"/>
<line x1="300.70" y1="508.82" x2="305.90" y2="508.82" stroke="#0000ee" stroke-width="0.9"/>
<line x1="297.80" y1="506.42" x2="308.80" y2="506.42" stroke="#9c00e2" stroke-width="1.1"/>
<line x1="303.30" y1="501.95" x2="303.30" y2="510.88" stroke="#9c00e2" stroke-width="0.9"/>
<line x1="300.70" y1="501.95" x2="305.90" y2="501.95" stroke="#9c00e2" stroke-width="0.9"/>
<line x1="300.70" y1="510.88" x2="305.90" y2="510.88" stroke="#9c00e2" stroke-width="0.9"/>
<line x1="311.00" y1="509.32" x2="322.00" y2="509.32" stroke="#00ee00" stroke-width="1.1"/>
<line x1="316.50" y1="506.58" x2="316.50" y2="512.06" stroke="#00ee00" stroke-width="0.9"/>
<line x1="313.90" y1="506.58" x2="319.10" y2="506.58" stroke="#00ee00" stroke-width="0.9"/>
<line x1="313.90" y1="512.06" x2="319.10" y2="512.06" stroke="#00ee00" stroke-width="0.9"/>
<line x1="311.00" y1="510.38" x2="322.00" y2="510.38" stroke="#0000ee" stroke-width="1.1"/>
<line x1="316.50" y1="505.95" x2="316.50" y2="514.80" stroke="#0000ee" stroke-width="0.9"/>
<line x1="313.90" y1="505.95" x2="319.10" y2="505.95" stroke="#0000ee" stroke-width="0.9"/>
<line x1="313.90" y1="514.80" x2="319.10" y2="514.80" stroke="#0000ee" stroke-width="0.9"/>
<line x1="311.00" y1="508.21" x2="322.00" y2="508.21" stroke="#9c00e2" stroke-width="1.1"/>
<line x1="316.50" y1="504.32" x2="316.50" y2="512.10" stroke="#9c00e2" stroke-width="0.9"/>
<line x1="313.90" y1="504.32" x2="319.10" y2="504.32" stroke="#9c00e2" stroke-width="0.9"/>
<line x1="313.90" y1="512.10" x2="319.10" y2="512.10" stroke="#9c00e2" stroke-width="0.9"/>
<line x1="324.20" y1="513.60" x2="335.20" y2="513.60" stroke="#00ee00" stroke-width="1.1"/>
<line x1="329.70" y1="510.19" x2="329.70" y2="517.00" stroke="#00ee00" stroke-width="0.9"/>
<line x1="327.10" y1="510.19" x2="332.30" y2="510.19" stroke="#00ee00" stroke-width="0.9"/>
<line x1="327.10" y1="517.00" x2="332.30" y2="517.00" stroke="#00ee00" stroke-width="0.9"/>
<line x1="324.20" y1="513.60" x2="335.20" y2="513.60" stroke="#0000ee" stroke-width="1.1"/>
<line x1="329.70" y1="510.81" x2="329.70" y2="516.38" stroke="#0000ee" stroke-width="0.9"/>
<line x1="327.10" y1="510.81" x2="332.30" y2="510.81" stroke="#0000ee" stroke-width="0.9"/>
<line x1="327.10" y1="516.38" x2="332.30" y2="516.38" stroke="#0000ee" stroke-width="0.9"/>
<line x1="324.20" y1="513.60" x2="335.20" y2="513.60" stroke="#9c00e2" stroke-width="1.1"/>
<line x1="329.70" y1="510.73" x2="329.70" y2="516.47" stroke="#9c00e2" stroke-width="0.9"/>
<line x1="327.10" y1="510.73" x2="332.30" y2="510.73" stroke="#9c00e2" stroke-width="0.9"/>
<line x1="327.10" y1="516.47" x2="332.30" y2="516.47" stroke="#9c00e2" stroke-width="0.9"/>
<line x1="337.40" y1="528.33" x2="348.40" y2="528.33" stroke="#00ee00" stroke-width="1.1"/>
<line x1="342.90" y1="526.85" x2="342.90" y2="529.81" stroke="#00ee00" stroke-width="0.9"/>
<line x1="340.30" y1="526.85" x2="345.50" y2="526.85" stroke="#00ee00" stroke-width="0.9"/>
<line x1="340.30" y1="529.81" x2="345.50" y2="529.81" stroke="#00ee00" stroke-width="0.9"/>
<line x1="337.40" y1="528.33" x2="348.40" y2="528.33" stroke="#0000ee" stroke-width="1.1"/>
<line x1="342.90" y1="526.64" x2="342.90" y2="530.02" stroke="#0000ee" stroke-width="0.9"/>
<line x1="340.30" y1="526.64" x2="345.50" y2="526.64" stroke="#0000ee" stroke-width="0.9"/>
<line x1="340.30" y1="530.02" x2="345.50" y2="530.02" stroke="#0000ee" stroke-width="0.9"/>
<line x1="337.40" y1="528.33" x2="348.40" y2="528.33" stroke="#9c00e2" stroke-width="1.1"/>
<line x1="342.90" y1="526.17" x2="342.90" y2="530.48" stroke="#9c00e2" stroke-width="0.9"/>
<line x1="340.30" y1="526.17" x2="345.50" y2="526.17" stroke="#9c00e2" stroke-width="0.9"/>
<line x1="340.30" y1="530.48" x2="345.50" y2="530.48" stroke="#9c00e2" stroke-width="0.9"/>
<line x1="350.60" y1="530.70" x2="361.60" y2="530.70" stroke="#00ee00" stroke-width="1.1"/>
<line x1="356.10" y1="529.09" x2="356.10" y2="532.32" stroke="#00ee00" stroke-width="0.9"/>
<line x1="353.50" y1="529.09" x2="358.70" y2="529.09" stroke="#00ee00" stroke-width="0.9"/>
<line x1="353.50" y1="532.32" x2="358.70" y2="532.32" stroke="#00ee00" stroke-width="0.9"/>
<line x1="350.60" y1="531.02" x2="361.60" y2="531.02" stroke="#0000ee" stroke-width="1.1"/>
<line x1="356.10" y1="529.11" x2="356.10" y2="532.93" stroke="#0000ee" stroke-width="0.9"/>
<line x1="353.50" y1="529.11" x2="358.70" y2="529.11" stroke="#0000ee" stroke-width="0.9"/>
<line x1="353.50" y1="532.93" x2="358.70" y2="532.93" stroke="#0000ee" stroke-width="0.9"/>
<line x1="350.60" y1="530.60" x2="361.60" y2="530.60" stroke="#9c00e2" stroke-width="1.1"/>
<line x1="356.10" y1="528.71" x2="356.10" y2="532.48" stroke="#9c00e2" stroke-width="0.9"/>
<line x1="353.50" y1="528.71" x2="358.70" y2="528.71" stroke="#9c00e2" stroke-width="0.9"/>
<line x1="353.50" y1="532.48" x2="358.70" y2="532.48" stroke="#9c00e2" stroke-width="0.9"/>
<line x1="363.80" y1="531.55" x2="374.80" y2="531.55" stroke="#00ee00" stroke-width="1.1"/>
<line x1="369.30" y1="527.87" x2="369.30" y2="535.23" stroke="#00ee00" stroke-width="0.9"/>
<line x1="366.70" y1="527.87" x2="371.90" y2="527.87" stroke="#00ee00" stroke-width="0.9"/>
<line x1="366.70" y1="535.23" x2="371.90" y2="535.23" stroke="#00ee00" stroke-width="0.9"/>
<line x1="363.80" y1="532.82" x2="374.80" y2="532.82" stroke="#0000ee" stroke-width="1.1"/>
<line x1="369.30" y1="530.96" x2="369.30" y2="534.68" stroke="#0000ee" stroke-width="0.9"/>
<line x1="366.70" y1="530.96" x2="371.90" y2="530.96" stroke="#0000ee" stroke-width="0.9"/>
<line x1="366.70" y1="534.68" x2="371.90" y2="534.68" stroke="#0000ee" stroke-width="0.9"/>
<line x1="363.80" y1="535.09" x2="374.80" y2="535.09" stroke="#9c00e2" stroke-width="1.1"/>
<line x1="369.30" y1="533.81" x2="369.30" y2="536.37" stroke="#9c00e2" stroke-width="0.9"/>
<line x1="366.70" y1="533.81" x2="371.90" y2="533.81" stroke="#9c00e2" stroke-width="0.9"/>
<line x1="366.70" y1="536.37" x2="371.90" y2="536.37" stroke="#9c00e2" stroke-width="0.9"/>
<path d="M303.30,490.30 V489.20 H329.70 V490.30" fill="none" stroke="#3a3a3a" stroke-width="0.9"/>
<text x="316.50" y="491.80" font-size="8.0" text-anchor="middle" font-weight="bold" fill="#222">**</text>
<path d="M303.30,494.80 V493.70 H316.50 V494.80" fill="none" stroke="#3a3a3a" stroke-width="0.9"/>
<text x="309.90" y="496.30" font-size="8.0" text-anchor="middle" font-weight="bold" fill="#222">*</text>
<path d="M316.50,503.20 V502.10 H329.70 V503.20" fill="none" stroke="#3a3a3a" stroke-width="0.9"/>
<text x="323.10" y="504.70" font-size="8.0" text-anchor="middle" font-weight="bold" fill="#222">**</text>
<path d="M342.90,518.30 V517.20 H369.30 V518.30" fill="none" stroke="#3a3a3a" stroke-width="0.9"/>
<text x="356.10" y="519.80" font-size="8.0" text-anchor="middle" font-weight="bold" fill="#222">**</text>
<path d="M342.90,523.40 V522.30 H356.10 V523.40" fill="none" stroke="#3a3a3a" stroke-width="0.9"/>
<text x="349.50" y="524.90" font-size="8.0" text-anchor="middle" font-weight="bold" fill="#222">*</text>
<path d="M356.10,525.90 V524.80 H369.30 V525.90" fill="none" stroke="#3a3a3a" stroke-width="0.9"/>
<text x="362.70" y="527.40" font-size="8.0" text-anchor="middle" font-weight="bold" fill="#222">*</text>
<text x="293.80" y="557.40" font-size="7.1" text-anchor="end">Cleared</text>
<text x="303.30" y="556.60" font-size="7.0" text-anchor="middle">+</text>
<text x="316.50" y="556.60" font-size="7.0" text-anchor="middle">+</text>
<text x="329.70" y="556.60" font-size="7.0" text-anchor="middle">+</text>
<text x="342.90" y="556.60" font-size="7.0" text-anchor="middle">-</text>
<text x="356.10" y="556.60" font-size="7.0" text-anchor="middle">-</text>
<text x="369.30" y="556.60" font-size="7.0" text-anchor="middle">-</text>
<text x="293.80" y="566.50" font-size="7.1" text-anchor="end">DIV</text>
<text x="303.30" y="566.50" font-size="7.3" text-anchor="middle">3</text>
<text x="316.50" y="566.50" font-size="7.3" text-anchor="middle">5</text>
<text x="329.70" y="566.50" font-size="7.3" text-anchor="middle">7</text>
<text x="342.90" y="566.50" font-size="7.3" text-anchor="middle">3</text>
<text x="356.10" y="566.50" font-size="7.3" text-anchor="middle">5</text>
<text x="369.30" y="566.50" font-size="7.3" text-anchor="middle">7</text>
<text x="337.00" y="584.20" font-size="9.0" text-anchor="middle">1,000 cells</text>
<line x1="294.40" y1="591.70" x2="294.40" y2="647.60" stroke="#000" stroke-width="1.3"/>
<line x1="293.80" y1="647.00" x2="380.00" y2="647.00" stroke="#000" stroke-width="1.3"/>
<line x1="292.40" y1="647.00" x2="294.40" y2="647.00" stroke="#000" stroke-width="1.2"/>
<text x="291.30" y="649.60" font-size="7.3" text-anchor="end">0.0</text>
<line x1="292.40" y1="620.60" x2="294.40" y2="620.60" stroke="#000" stroke-width="1.2"/>
<text x="291.30" y="623.20" font-size="7.3" text-anchor="end">0.5</text>
<line x1="292.40" y1="594.20" x2="294.40" y2="594.20" stroke="#000" stroke-width="1.2"/>
<text x="291.30" y="596.80" font-size="7.3" text-anchor="end">1.0</text>
<text x="277.10" y="617.60" font-size="7.2" text-anchor="middle" transform="rotate(-90 277.10 617.60)">Clearing metric</text>
<line x1="303.30" y1="647.00" x2="303.30" y2="649.30" stroke="#000" stroke-width="1.2"/>
<g fill="#a600ee" fill-opacity="0.6"><circle cx="303.3" cy="598.3" r="1.5"/><circle cx="301.7" cy="600.9" r="1.5"/><circle cx="303.3" cy="603.1" r="1.5"/><circle cx="300.0" cy="605.2" r="1.5"/><circle cx="304.9" cy="606.1" r="1.5"/><circle cx="298.4" cy="607.1" r="1.5"/><circle cx="301.7" cy="607.4" r="1.5"/><circle cx="306.6" cy="607.9" r="1.5"/><circle cx="303.3" cy="608.3" r="1.5"/><circle cx="298.4" cy="609.6" r="1.5"/><circle cx="308.2" cy="609.8" r="1.5"/><circle cx="298.4" cy="612.5" r="1.5"/></g>
<g fill="#0000ff" fill-opacity="0.6"><circle cx="306.6" cy="599.8" r="1.5"/><circle cx="298.4" cy="601.4" r="1.5"/><circle cx="308.2" cy="605.9" r="1.5"/><circle cx="304.9" cy="607.1" r="1.5"/><circle cx="300.0" cy="608.2" r="1.5"/><circle cx="304.9" cy="609.6" r="1.5"/><circle cx="301.7" cy="609.7" r="1.5"/><circle cx="303.3" cy="611.6" r="1.5"/></g>
<g fill="#00dd00" fill-opacity="0.6"><circle cx="306.6" cy="605.1" r="1.5"/><circle cx="303.3" cy="605.2" r="1.5"/><circle cx="298.4" cy="606.0" r="1.5"/><circle cx="301.7" cy="606.5" r="1.5"/><circle cx="308.2" cy="606.9" r="1.5"/><circle cx="308.2" cy="608.6" r="1.5"/><circle cx="298.4" cy="610.2" r="1.5"/><circle cx="304.9" cy="610.4" r="1.5"/><circle cx="301.7" cy="610.8" r="1.5"/><circle cx="308.2" cy="611.0" r="1.5"/><circle cx="300.0" cy="611.5" r="1.5"/><circle cx="306.6" cy="611.8" r="1.5"/></g>
<line x1="316.50" y1="647.00" x2="316.50" y2="649.30" stroke="#000" stroke-width="1.2"/>
<g fill="#a600ee" fill-opacity="0.6"><circle cx="316.5" cy="606.4" r="1.5"/><circle cx="319.8" cy="607.7" r="1.5"/><circle cx="313.2" cy="608.2" r="1.5"/><circle cx="316.5" cy="608.2" r="1.5"/><circle cx="321.4" cy="610.1" r="1.5"/><circle cx="311.6" cy="610.1" r="1.5"/><circle cx="319.8" cy="610.8" r="1.5"/><circle cx="313.2" cy="611.4" r="1.5"/><circle cx="311.6" cy="611.9" r="1.5"/></g>
<g fill="#00dd00" fill-opacity="0.6"><circle cx="321.4" cy="608.6" r="1.5"/><circle cx="311.6" cy="608.9" r="1.5"/><circle cx="318.1" cy="609.5" r="1.5"/><circle cx="314.9" cy="610.2" r="1.5"/><circle cx="316.5" cy="611.5" r="1.5"/><circle cx="321.4" cy="611.8" r="1.5"/><circle cx="318.1" cy="612.3" r="1.5"/><circle cx="314.9" cy="612.6" r="1.5"/><circle cx="321.4" cy="613.1" r="1.5"/><circle cx="321.4" cy="614.2" r="1.5"/><circle cx="313.2" cy="614.2" r="1.5"/><circle cx="319.8" cy="615.9" r="1.5"/></g>
<g fill="#0000ff" fill-opacity="0.6"><circle cx="314.9" cy="609.8" r="1.5"/><circle cx="318.1" cy="610.1" r="1.5"/><circle cx="311.6" cy="613.5" r="1.5"/><circle cx="318.1" cy="613.7" r="1.5"/><circle cx="314.9" cy="614.0" r="1.5"/><circle cx="316.5" cy="615.0" r="1.5"/><circle cx="311.6" cy="616.5" r="1.5"/><circle cx="314.9" cy="617.2" r="1.5"/><circle cx="318.1" cy="617.9" r="1.5"/></g>
<line x1="329.70" y1="647.00" x2="329.70" y2="649.30" stroke="#000" stroke-width="1.2"/>
<g fill="#00dd00" fill-opacity="0.6"><circle cx="329.7" cy="597.9" r="1.5"/><circle cx="329.7" cy="604.9" r="1.5"/><circle cx="333.0" cy="605.9" r="1.5"/><circle cx="326.4" cy="606.5" r="1.5"/><circle cx="329.7" cy="607.3" r="1.5"/><circle cx="334.6" cy="607.9" r="1.5"/><circle cx="324.8" cy="608.1" r="1.5"/><circle cx="331.3" cy="608.8" r="1.5"/><circle cx="328.1" cy="609.5" r="1.5"/><circle cx="324.8" cy="611.1" r="1.5"/><circle cx="331.3" cy="613.2" r="1.5"/><circle cx="334.6" cy="615.7" r="1.5"/></g>
<g fill="#0000ff" fill-opacity="0.6"><circle cx="333.0" cy="611.0" r="1.5"/><circle cx="329.7" cy="611.4" r="1.5"/><circle cx="326.4" cy="612.3" r="1.5"/><circle cx="334.6" cy="613.2" r="1.5"/><circle cx="324.8" cy="614.1" r="1.5"/><circle cx="326.4" cy="615.0" r="1.5"/><circle cx="328.1" cy="615.9" r="1.5"/><circle cx="333.0" cy="616.8" r="1.5"/><circle cx="334.6" cy="619.2" r="1.5"/><circle cx="329.7" cy="621.6" r="1.5"/></g>
<g fill="#a600ee" fill-opacity="0.6"><circle cx="334.6" cy="611.5" r="1.5"/><circle cx="328.1" cy="613.2" r="1.5"/><circle cx="324.8" cy="613.3" r="1.5"/><circle cx="333.0" cy="613.7" r="1.5"/><circle cx="329.7" cy="614.0" r="1.5"/><circle cx="331.3" cy="615.8" r="1.5"/><circle cx="324.8" cy="616.4" r="1.5"/><circle cx="329.7" cy="617.5" r="1.5"/><circle cx="326.4" cy="617.9" r="1.5"/><circle cx="333.0" cy="621.9" r="1.5"/></g>
<line x1="342.90" y1="647.00" x2="342.90" y2="649.30" stroke="#000" stroke-width="1.2"/>
<g fill="#0000ff" fill-opacity="0.6"><circle cx="342.9" cy="622.1" r="1.5"/><circle cx="339.6" cy="623.2" r="1.5"/><circle cx="347.8" cy="623.6" r="1.5"/><circle cx="337.9" cy="623.7" r="1.5"/><circle cx="342.9" cy="626.6" r="1.5"/><circle cx="341.2" cy="627.5" r="1.5"/><circle cx="347.8" cy="627.7" r="1.5"/><circle cx="342.9" cy="628.4" r="1.5"/></g>
<g fill="#a600ee" fill-opacity="0.6"><circle cx="346.2" cy="622.8" r="1.5"/><circle cx="346.2" cy="625.4" r="1.5"/><circle cx="339.6" cy="625.8" r="1.5"/><circle cx="337.9" cy="626.2" r="1.5"/><circle cx="344.5" cy="626.2" r="1.5"/><circle cx="341.2" cy="626.3" r="1.5"/><circle cx="341.2" cy="627.1" r="1.5"/><circle cx="344.5" cy="627.6" r="1.5"/><circle cx="339.6" cy="627.7" r="1.5"/><circle cx="346.2" cy="628.7" r="1.5"/><circle cx="342.9" cy="629.5" r="1.5"/><circle cx="337.9" cy="629.7" r="1.5"/></g>
<g fill="#00dd00" fill-opacity="0.6"><circle cx="342.9" cy="625.2" r="1.5"/><circle cx="347.8" cy="626.1" r="1.5"/><circle cx="347.8" cy="626.4" r="1.5"/><circle cx="337.9" cy="626.6" r="1.5"/><circle cx="344.5" cy="627.1" r="1.5"/><circle cx="347.8" cy="627.4" r="1.5"/><circle cx="337.9" cy="627.4" r="1.5"/><circle cx="346.2" cy="627.4" r="1.5"/><circle cx="337.9" cy="627.9" r="1.5"/><circle cx="339.6" cy="629.0" r="1.5"/><circle cx="347.8" cy="629.7" r="1.5"/></g>
<line x1="356.10" y1="647.00" x2="356.10" y2="649.30" stroke="#000" stroke-width="1.2"/>
<g fill="#a600ee" fill-opacity="0.6"><circle cx="356.1" cy="623.4" r="1.5"/><circle cx="354.5" cy="625.6" r="1.5"/><circle cx="351.2" cy="626.4" r="1.5"/><circle cx="352.8" cy="626.9" r="1.5"/><circle cx="356.1" cy="627.8" r="1.5"/><circle cx="361.1" cy="628.0" r="1.5"/><circle cx="351.2" cy="628.4" r="1.5"/><circle cx="354.5" cy="628.5" r="1.5"/><circle cx="361.1" cy="628.6" r="1.5"/><circle cx="352.8" cy="628.8" r="1.5"/><circle cx="354.5" cy="629.5" r="1.5"/><circle cx="361.1" cy="630.2" r="1.5"/></g>
<g fill="#00dd00" fill-opacity="0.6"><circle cx="357.8" cy="625.5" r="1.5"/><circle cx="361.1" cy="625.9" r="1.5"/><circle cx="356.1" cy="626.5" r="1.5"/><circle cx="359.4" cy="626.7" r="1.5"/><circle cx="357.8" cy="628.5" r="1.5"/><circle cx="357.8" cy="628.9" r="1.5"/><circle cx="351.2" cy="629.3" r="1.5"/><circle cx="359.4" cy="629.9" r="1.5"/><circle cx="356.1" cy="630.0" r="1.5"/><circle cx="357.8" cy="631.7" r="1.5"/><circle cx="361.1" cy="632.1" r="1.5"/><circle cx="351.2" cy="632.3" r="1.5"/></g>
<g fill="#0000ff" fill-opacity="0.6"><circle cx="351.2" cy="630.3" r="1.5"/><circle cx="352.8" cy="631.7" r="1.5"/><circle cx="354.5" cy="632.2" r="1.5"/><circle cx="359.4" cy="633.1" r="1.5"/><circle cx="356.1" cy="633.7" r="1.5"/><circle cx="352.8" cy="634.0" r="1.5"/><circle cx="361.1" cy="634.9" r="1.5"/><circle cx="357.8" cy="635.5" r="1.5"/></g>
<line x1="369.30" y1="647.00" x2="369.30" y2="649.30" stroke="#000" stroke-width="1.2"/>
<g fill="#0000ff" fill-opacity="0.6"><circle cx="369.3" cy="594.2" r="1.5"/><circle cx="369.3" cy="626.0" r="1.5"/><circle cx="372.6" cy="626.3" r="1.5"/><circle cx="366.0" cy="626.6" r="1.5"/><circle cx="374.2" cy="627.7" r="1.5"/><circle cx="367.7" cy="628.6" r="1.5"/><circle cx="364.4" cy="628.8" r="1.5"/><circle cx="364.4" cy="631.6" r="1.5"/><circle cx="374.2" cy="631.6" r="1.5"/><circle cx="367.7" cy="632.3" r="1.5"/></g>
<g fill="#00dd00" fill-opacity="0.6"><circle cx="370.9" cy="628.6" r="1.5"/><circle cx="374.2" cy="629.0" r="1.5"/><circle cx="369.3" cy="630.3" r="1.5"/><circle cx="366.0" cy="630.8" r="1.5"/><circle cx="367.7" cy="631.7" r="1.5"/><circle cx="364.4" cy="631.9" r="1.5"/><circle cx="374.2" cy="632.2" r="1.5"/><circle cx="364.4" cy="633.1" r="1.5"/></g>
<g fill="#a600ee" fill-opacity="0.6"><circle cx="372.6" cy="631.0" r="1.5"/><circle cx="370.9" cy="631.7" r="1.5"/><circle cx="369.3" cy="631.9" r="1.5"/><circle cx="370.9" cy="632.9" r="1.5"/><circle cx="372.6" cy="633.6" r="1.5"/><circle cx="366.0" cy="634.4" r="1.5"/><circle cx="369.3" cy="634.6" r="1.5"/><circle cx="374.2" cy="634.8" r="1.5"/><circle cx="364.4" cy="636.5" r="1.5"/><circle cx="370.9" cy="636.9" r="1.5"/></g>
<line x1="297.80" y1="608.09" x2="308.80" y2="608.09" stroke="#00ee00" stroke-width="1.1"/>
<line x1="303.30" y1="605.56" x2="303.30" y2="610.62" stroke="#00ee00" stroke-width="0.9"/>
<line x1="300.70" y1="605.56" x2="305.90" y2="605.56" stroke="#00ee00" stroke-width="0.9"/>
<line x1="300.70" y1="610.62" x2="305.90" y2="610.62" stroke="#00ee00" stroke-width="0.9"/>
<line x1="297.80" y1="606.03" x2="308.80" y2="606.03" stroke="#0000ee" stroke-width="1.1"/>
<line x1="303.30" y1="602.09" x2="303.30" y2="609.97" stroke="#0000ee" stroke-width="0.9"/>
<line x1="300.70" y1="602.09" x2="305.90" y2="602.09" stroke="#0000ee" stroke-width="0.9"/>
<line x1="300.70" y1="609.97" x2="305.90" y2="609.97" stroke="#0000ee" stroke-width="0.9"/>
<line x1="297.80" y1="606.03" x2="308.80" y2="606.03" stroke="#9c00e2" stroke-width="1.1"/>
<line x1="303.30" y1="602.21" x2="303.30" y2="609.85" stroke="#9c00e2" stroke-width="0.9"/>
<line x1="300.70" y1="602.21" x2="305.90" y2="602.21" stroke="#9c00e2" stroke-width="0.9"/>
<line x1="300.70" y1="609.85" x2="305.90" y2="609.85" stroke="#9c00e2" stroke-width="0.9"/>
<line x1="311.00" y1="610.30" x2="322.00" y2="610.30" stroke="#00ee00" stroke-width="1.1"/>
<line x1="316.50" y1="607.60" x2="316.50" y2="613.00" stroke="#00ee00" stroke-width="0.9"/>
<line x1="313.90" y1="607.60" x2="319.10" y2="607.60" stroke="#00ee00" stroke-width="0.9"/>
<line x1="313.90" y1="613.00" x2="319.10" y2="613.00" stroke="#00ee00" stroke-width="0.9"/>
<line x1="311.00" y1="613.42" x2="322.00" y2="613.42" stroke="#0000ee" stroke-width="1.1"/>
<line x1="316.50" y1="610.61" x2="316.50" y2="616.23" stroke="#0000ee" stroke-width="0.9"/>
<line x1="313.90" y1="610.61" x2="319.10" y2="610.61" stroke="#0000ee" stroke-width="0.9"/>
<line x1="313.90" y1="616.23" x2="319.10" y2="616.23" stroke="#0000ee" stroke-width="0.9"/>
<line x1="311.00" y1="609.41" x2="322.00" y2="609.41" stroke="#9c00e2" stroke-width="1.1"/>
<line x1="316.50" y1="607.65" x2="316.50" y2="611.16" stroke="#9c00e2" stroke-width="0.9"/>
<line x1="313.90" y1="607.65" x2="319.10" y2="607.65" stroke="#9c00e2" stroke-width="0.9"/>
<line x1="313.90" y1="611.16" x2="319.10" y2="611.16" stroke="#9c00e2" stroke-width="0.9"/>
<line x1="324.20" y1="609.51" x2="335.20" y2="609.51" stroke="#00ee00" stroke-width="1.1"/>
<line x1="329.70" y1="606.39" x2="329.70" y2="612.64" stroke="#00ee00" stroke-width="0.9"/>
<line x1="327.10" y1="606.39" x2="332.30" y2="606.39" stroke="#00ee00" stroke-width="0.9"/>
<line x1="327.10" y1="612.64" x2="332.30" y2="612.64" stroke="#00ee00" stroke-width="0.9"/>
<line x1="324.20" y1="614.95" x2="335.20" y2="614.95" stroke="#0000ee" stroke-width="1.1"/>
<line x1="329.70" y1="611.69" x2="329.70" y2="618.21" stroke="#0000ee" stroke-width="0.9"/>
<line x1="327.10" y1="611.69" x2="332.30" y2="611.69" stroke="#0000ee" stroke-width="0.9"/>
<line x1="327.10" y1="618.21" x2="332.30" y2="618.21" stroke="#0000ee" stroke-width="0.9"/>
<line x1="324.20" y1="614.95" x2="335.20" y2="614.95" stroke="#9c00e2" stroke-width="1.1"/>
<line x1="329.70" y1="612.02" x2="329.70" y2="617.88" stroke="#9c00e2" stroke-width="0.9"/>
<line x1="327.10" y1="612.02" x2="332.30" y2="612.02" stroke="#9c00e2" stroke-width="0.9"/>
<line x1="327.10" y1="617.88" x2="332.30" y2="617.88" stroke="#9c00e2" stroke-width="0.9"/>
<line x1="337.40" y1="627.99" x2="348.40" y2="627.99" stroke="#00ee00" stroke-width="1.1"/>
<line x1="342.90" y1="626.60" x2="342.90" y2="629.38" stroke="#00ee00" stroke-width="0.9"/>
<line x1="340.30" y1="626.60" x2="345.50" y2="626.60" stroke="#00ee00" stroke-width="0.9"/>
<line x1="340.30" y1="629.38" x2="345.50" y2="629.38" stroke="#00ee00" stroke-width="0.9"/>
<line x1="337.40" y1="626.04" x2="348.40" y2="626.04" stroke="#0000ee" stroke-width="1.1"/>
<line x1="342.90" y1="623.65" x2="342.90" y2="628.42" stroke="#0000ee" stroke-width="0.9"/>
<line x1="340.30" y1="623.65" x2="345.50" y2="623.65" stroke="#0000ee" stroke-width="0.9"/>
<line x1="340.30" y1="628.42" x2="345.50" y2="628.42" stroke="#0000ee" stroke-width="0.9"/>
<line x1="337.40" y1="627.99" x2="348.40" y2="627.99" stroke="#9c00e2" stroke-width="1.1"/>
<line x1="342.90" y1="625.85" x2="342.90" y2="630.14" stroke="#9c00e2" stroke-width="0.9"/>
<line x1="340.30" y1="625.85" x2="345.50" y2="625.85" stroke="#9c00e2" stroke-width="0.9"/>
<line x1="340.30" y1="630.14" x2="345.50" y2="630.14" stroke="#9c00e2" stroke-width="0.9"/>
<line x1="350.60" y1="628.31" x2="361.60" y2="628.31" stroke="#00ee00" stroke-width="1.1"/>
<line x1="356.10" y1="625.92" x2="356.10" y2="630.70" stroke="#00ee00" stroke-width="0.9"/>
<line x1="353.50" y1="625.92" x2="358.70" y2="625.92" stroke="#00ee00" stroke-width="0.9"/>
<line x1="353.50" y1="630.70" x2="358.70" y2="630.70" stroke="#00ee00" stroke-width="0.9"/>
<line x1="350.60" y1="632.74" x2="361.60" y2="632.74" stroke="#0000ee" stroke-width="1.1"/>
<line x1="356.10" y1="631.08" x2="356.10" y2="634.41" stroke="#0000ee" stroke-width="0.9"/>
<line x1="353.50" y1="631.08" x2="358.70" y2="631.08" stroke="#0000ee" stroke-width="0.9"/>
<line x1="353.50" y1="634.41" x2="358.70" y2="634.41" stroke="#0000ee" stroke-width="0.9"/>
<line x1="350.60" y1="627.52" x2="361.60" y2="627.52" stroke="#9c00e2" stroke-width="1.1"/>
<line x1="356.10" y1="625.73" x2="356.10" y2="629.30" stroke="#9c00e2" stroke-width="0.9"/>
<line x1="353.50" y1="625.73" x2="358.70" y2="625.73" stroke="#9c00e2" stroke-width="0.9"/>
<line x1="353.50" y1="629.30" x2="358.70" y2="629.30" stroke="#9c00e2" stroke-width="0.9"/>
<line x1="363.80" y1="631.16" x2="374.80" y2="631.16" stroke="#00ee00" stroke-width="1.1"/>
<line x1="369.30" y1="629.69" x2="369.30" y2="632.63" stroke="#00ee00" stroke-width="0.9"/>
<line x1="366.70" y1="629.69" x2="371.90" y2="629.69" stroke="#00ee00" stroke-width="0.9"/>
<line x1="366.70" y1="632.63" x2="371.90" y2="632.63" stroke="#00ee00" stroke-width="0.9"/>
<line x1="363.80" y1="629.63" x2="374.80" y2="629.63" stroke="#0000ee" stroke-width="1.1"/>
<line x1="369.30" y1="621.71" x2="369.30" y2="637.55" stroke="#0000ee" stroke-width="0.9"/>
<line x1="366.70" y1="621.71" x2="371.90" y2="621.71" stroke="#0000ee" stroke-width="0.9"/>
<line x1="366.70" y1="637.55" x2="371.90" y2="637.55" stroke="#0000ee" stroke-width="0.9"/>
<line x1="363.80" y1="633.27" x2="374.80" y2="633.27" stroke="#9c00e2" stroke-width="1.1"/>
<line x1="369.30" y1="631.30" x2="369.30" y2="635.24" stroke="#9c00e2" stroke-width="0.9"/>
<line x1="366.70" y1="631.30" x2="371.90" y2="631.30" stroke="#9c00e2" stroke-width="0.9"/>
<line x1="366.70" y1="635.24" x2="371.90" y2="635.24" stroke="#9c00e2" stroke-width="0.9"/>
<path d="M303.30,590.60 V589.50 H329.70 V590.60" fill="none" stroke="#3a3a3a" stroke-width="0.9"/>
<text x="316.50" y="592.10" font-size="8.0" text-anchor="middle" font-weight="bold" fill="#222">**</text>
<path d="M303.30,594.80 V593.70 H316.50 V594.80" fill="none" stroke="#3a3a3a" stroke-width="0.9"/>
<text x="309.90" y="596.30" font-size="8.0" text-anchor="middle" font-weight="bold" fill="#222">**</text>
<path d="M316.50,602.90 V601.80 H329.70 V602.90" fill="none" stroke="#3a3a3a" stroke-width="0.9"/>
<text x="323.10" y="604.40" font-size="8.0" text-anchor="middle" font-weight="bold" fill="#222">**</text>
<path d="M342.90,610.50 V609.40 H369.30 V610.50" fill="none" stroke="#3a3a3a" stroke-width="0.9"/>
<text x="356.10" y="612.00" font-size="8.0" text-anchor="middle" font-weight="bold" fill="#222">**</text>
<path d="M342.90,619.00 V617.90 H356.10 V619.00" fill="none" stroke="#3a3a3a" stroke-width="0.9"/>
<text x="349.50" y="617.10" font-size="6.0" text-anchor="middle" fill="#333">ns</text>
<path d="M356.10,616.40 V615.30 H369.30 V616.40" fill="none" stroke="#3a3a3a" stroke-width="0.9"/>
<text x="362.70" y="617.90" font-size="8.0" text-anchor="middle" font-weight="bold" fill="#222">**</text>
<text x="293.80" y="656.80" font-size="7.1" text-anchor="end">Cleared</text>
<text x="303.30" y="656.00" font-size="7.0" text-anchor="middle">+</text>
<text x="316.50" y="656.00" font-size="7.0" text-anchor="middle">+</text>
<text x="329.70" y="656.00" font-size="7.0" text-anchor="middle">+</text>
<text x="342.90" y="656.00" font-size="7.0" text-anchor="middle">-</text>
<text x="356.10" y="656.00" font-size="7.0" text-anchor="middle">-</text>
<text x="369.30" y="656.00" font-size="7.0" text-anchor="middle">-</text>
<text x="293.80" y="665.90" font-size="7.1" text-anchor="end">DIV</text>
<text x="303.30" y="665.90" font-size="7.3" text-anchor="middle">3</text>
<text x="316.50" y="665.90" font-size="7.3" text-anchor="middle">5</text>
<text x="329.70" y="665.90" font-size="7.3" text-anchor="middle">7</text>
<text x="342.90" y="665.90" font-size="7.3" text-anchor="middle">3</text>
<text x="356.10" y="665.90" font-size="7.3" text-anchor="middle">5</text>
<text x="369.30" y="665.90" font-size="7.3" text-anchor="middle">7</text>
<text x="470.40" y="383.00" font-size="9.0" text-anchor="middle">3 DIV</text>
<line x1="427.40" y1="391.50" x2="427.40" y2="447.40" stroke="#000" stroke-width="1.3"/>
<line x1="426.80" y1="446.80" x2="512.00" y2="446.80" stroke="#000" stroke-width="1.3"/>
<line x1="425.40" y1="446.80" x2="427.40" y2="446.80" stroke="#000" stroke-width="1.2"/>
<text x="424.30" y="449.40" font-size="7.3" text-anchor="end">0.0</text>
<line x1="425.40" y1="420.40" x2="427.40" y2="420.40" stroke="#000" stroke-width="1.2"/>
<text x="424.30" y="423.00" font-size="7.3" text-anchor="end">0.5</text>
<line x1="425.40" y1="394.00" x2="427.40" y2="394.00" stroke="#000" stroke-width="1.2"/>
<text x="424.30" y="396.60" font-size="7.3" text-anchor="end">1.0</text>
<text x="410.10" y="417.40" font-size="7.2" text-anchor="middle" transform="rotate(-90 410.10 417.40)">Clearing metric</text>
<line x1="436.20" y1="446.80" x2="436.20" y2="449.10" stroke="#000" stroke-width="1.2"/>
<g fill="#a600ee" fill-opacity="0.6"><circle cx="436.2" cy="396.2" r="1.5"/><circle cx="439.5" cy="396.3" r="1.5"/><circle cx="431.2" cy="397.4" r="1.5"/><circle cx="441.1" cy="397.8" r="1.5"/><circle cx="437.8" cy="397.9" r="1.5"/><circle cx="436.2" cy="400.6" r="1.5"/><circle cx="439.5" cy="403.0" r="1.5"/><circle cx="441.1" cy="403.8" r="1.5"/><circle cx="436.2" cy="409.0" r="1.5"/></g>
<g fill="#0000ff" fill-opacity="0.6"><circle cx="432.9" cy="397.0" r="1.5"/><circle cx="441.1" cy="397.2" r="1.5"/><circle cx="437.8" cy="397.5" r="1.5"/><circle cx="434.6" cy="397.7" r="1.5"/><circle cx="431.2" cy="399.3" r="1.5"/><circle cx="432.9" cy="400.8" r="1.5"/><circle cx="437.8" cy="400.9" r="1.5"/><circle cx="436.2" cy="403.2" r="1.5"/><circle cx="431.2" cy="404.7" r="1.5"/><circle cx="437.8" cy="404.9" r="1.5"/><circle cx="436.2" cy="406.0" r="1.5"/></g>
<g fill="#00dd00" fill-opacity="0.6"><circle cx="439.5" cy="400.7" r="1.5"/><circle cx="441.1" cy="400.8" r="1.5"/><circle cx="431.2" cy="401.7" r="1.5"/><circle cx="434.6" cy="401.8" r="1.5"/><circle cx="432.9" cy="403.6" r="1.5"/><circle cx="434.6" cy="405.3" r="1.5"/><circle cx="441.1" cy="405.3" r="1.5"/><circle cx="431.2" cy="405.4" r="1.5"/><circle cx="439.5" cy="407.3" r="1.5"/><circle cx="432.9" cy="409.0" r="1.5"/><circle cx="436.2" cy="413.7" r="1.5"/></g>
<line x1="449.40" y1="446.80" x2="449.40" y2="449.10" stroke="#000" stroke-width="1.2"/>
<g fill="#a600ee" fill-opacity="0.6"><circle cx="449.4" cy="397.6" r="1.5"/><circle cx="452.7" cy="399.5" r="1.5"/><circle cx="454.3" cy="404.0" r="1.5"/><circle cx="444.4" cy="404.0" r="1.5"/><circle cx="451.0" cy="404.4" r="1.5"/><circle cx="446.1" cy="406.5" r="1.5"/><circle cx="454.3" cy="407.7" r="1.5"/><circle cx="447.8" cy="408.2" r="1.5"/><circle cx="451.0" cy="409.7" r="1.5"/><circle cx="454.3" cy="410.2" r="1.5"/><circle cx="451.0" cy="411.0" r="1.5"/><circle cx="454.3" cy="412.8" r="1.5"/></g>
<g fill="#0000ff" fill-opacity="0.6"><circle cx="449.4" cy="401.5" r="1.5"/><circle cx="446.1" cy="403.5" r="1.5"/><circle cx="447.8" cy="404.4" r="1.5"/><circle cx="444.4" cy="405.3" r="1.5"/><circle cx="449.4" cy="406.5" r="1.5"/><circle cx="451.0" cy="408.1" r="1.5"/><circle cx="454.3" cy="408.5" r="1.5"/><circle cx="447.8" cy="410.6" r="1.5"/></g>
<g fill="#00dd00" fill-opacity="0.6"><circle cx="452.7" cy="403.5" r="1.5"/><circle cx="449.4" cy="403.8" r="1.5"/><circle cx="454.3" cy="404.5" r="1.5"/><circle cx="452.7" cy="406.3" r="1.5"/><circle cx="444.4" cy="407.9" r="1.5"/><circle cx="444.4" cy="409.1" r="1.5"/><circle cx="449.4" cy="409.3" r="1.5"/><circle cx="452.7" cy="409.4" r="1.5"/><circle cx="446.1" cy="409.6" r="1.5"/><circle cx="444.4" cy="410.9" r="1.5"/><circle cx="449.4" cy="414.6" r="1.5"/><circle cx="451.0" cy="417.1" r="1.5"/><circle cx="449.4" cy="422.5" r="1.5"/></g>
<line x1="462.60" y1="446.80" x2="462.60" y2="449.10" stroke="#000" stroke-width="1.2"/>
<g fill="#a600ee" fill-opacity="0.6"><circle cx="462.6" cy="398.1" r="1.5"/><circle cx="460.9" cy="400.7" r="1.5"/><circle cx="462.6" cy="402.9" r="1.5"/><circle cx="459.3" cy="405.0" r="1.5"/><circle cx="464.2" cy="405.9" r="1.5"/><circle cx="457.6" cy="406.9" r="1.5"/><circle cx="460.9" cy="407.2" r="1.5"/><circle cx="465.9" cy="407.7" r="1.5"/><circle cx="462.6" cy="408.1" r="1.5"/><circle cx="457.6" cy="409.4" r="1.5"/><circle cx="467.5" cy="409.6" r="1.5"/><circle cx="457.6" cy="412.3" r="1.5"/></g>
<g fill="#0000ff" fill-opacity="0.6"><circle cx="465.9" cy="399.6" r="1.5"/><circle cx="457.6" cy="401.2" r="1.5"/><circle cx="467.5" cy="405.7" r="1.5"/><circle cx="464.2" cy="406.9" r="1.5"/><circle cx="459.3" cy="408.0" r="1.5"/><circle cx="464.2" cy="409.4" r="1.5"/><circle cx="460.9" cy="409.5" r="1.5"/><circle cx="462.6" cy="411.4" r="1.5"/></g>
<g fill="#00dd00" fill-opacity="0.6"><circle cx="465.9" cy="404.9" r="1.5"/><circle cx="462.6" cy="405.0" r="1.5"/><circle cx="457.6" cy="405.8" r="1.5"/><circle cx="460.9" cy="406.3" r="1.5"/><circle cx="467.5" cy="406.7" r="1.5"/><circle cx="467.5" cy="408.4" r="1.5"/><circle cx="457.6" cy="410.0" r="1.5"/><circle cx="464.2" cy="410.2" r="1.5"/><circle cx="460.9" cy="410.6" r="1.5"/><circle cx="467.5" cy="410.8" r="1.5"/><circle cx="459.3" cy="411.3" r="1.5"/><circle cx="465.9" cy="411.6" r="1.5"/></g>
<line x1="475.80" y1="446.80" x2="475.80" y2="449.10" stroke="#000" stroke-width="1.2"/>
<g fill="#00dd00" fill-opacity="0.6"><circle cx="475.8" cy="421.5" r="1.5"/><circle cx="480.7" cy="422.6" r="1.5"/><circle cx="474.1" cy="423.2" r="1.5"/><circle cx="475.8" cy="425.0" r="1.5"/><circle cx="480.7" cy="426.5" r="1.5"/><circle cx="479.1" cy="427.7" r="1.5"/><circle cx="475.8" cy="428.6" r="1.5"/><circle cx="477.4" cy="430.1" r="1.5"/></g>
<g fill="#a600ee" fill-opacity="0.6"><circle cx="479.1" cy="421.7" r="1.5"/><circle cx="480.7" cy="423.2" r="1.5"/><circle cx="477.4" cy="423.8" r="1.5"/><circle cx="474.1" cy="423.9" r="1.5"/><circle cx="480.7" cy="424.0" r="1.5"/><circle cx="470.8" cy="424.1" r="1.5"/><circle cx="472.5" cy="424.8" r="1.5"/><circle cx="470.8" cy="425.3" r="1.5"/><circle cx="477.4" cy="426.4" r="1.5"/><circle cx="470.8" cy="427.5" r="1.5"/><circle cx="480.7" cy="428.6" r="1.5"/></g>
<g fill="#0000ff" fill-opacity="0.6"><circle cx="472.5" cy="422.4" r="1.5"/><circle cx="470.8" cy="422.8" r="1.5"/><circle cx="477.4" cy="422.9" r="1.5"/><circle cx="475.8" cy="423.2" r="1.5"/><circle cx="470.8" cy="423.5" r="1.5"/><circle cx="479.1" cy="424.1" r="1.5"/><circle cx="479.1" cy="425.1" r="1.5"/><circle cx="480.7" cy="425.6" r="1.5"/><circle cx="475.8" cy="426.0" r="1.5"/><circle cx="472.5" cy="426.2" r="1.5"/><circle cx="474.1" cy="427.2" r="1.5"/><circle cx="472.5" cy="429.2" r="1.5"/></g>
<line x1="489.00" y1="446.80" x2="489.00" y2="449.10" stroke="#000" stroke-width="1.2"/>
<g fill="#a600ee" fill-opacity="0.6"><circle cx="489.0" cy="424.3" r="1.5"/><circle cx="485.7" cy="425.5" r="1.5"/><circle cx="484.1" cy="425.9" r="1.5"/><circle cx="489.0" cy="426.4" r="1.5"/><circle cx="484.1" cy="426.6" r="1.5"/><circle cx="493.9" cy="428.5" r="1.5"/><circle cx="485.7" cy="429.1" r="1.5"/><circle cx="489.0" cy="429.3" r="1.5"/><circle cx="484.1" cy="431.5" r="1.5"/></g>
<g fill="#00dd00" fill-opacity="0.6"><circle cx="492.3" cy="425.2" r="1.5"/><circle cx="493.9" cy="425.6" r="1.5"/><circle cx="487.4" cy="426.5" r="1.5"/><circle cx="493.9" cy="426.6" r="1.5"/><circle cx="485.7" cy="427.6" r="1.5"/><circle cx="484.1" cy="428.3" r="1.5"/><circle cx="490.6" cy="428.9" r="1.5"/><circle cx="493.9" cy="429.1" r="1.5"/><circle cx="484.1" cy="429.4" r="1.5"/></g>
<g fill="#0000ff" fill-opacity="0.6"><circle cx="490.6" cy="426.5" r="1.5"/><circle cx="492.3" cy="426.8" r="1.5"/><circle cx="487.4" cy="427.2" r="1.5"/><circle cx="484.1" cy="427.3" r="1.5"/><circle cx="490.6" cy="427.4" r="1.5"/><circle cx="493.9" cy="427.5" r="1.5"/><circle cx="489.0" cy="428.1" r="1.5"/><circle cx="492.3" cy="428.2" r="1.5"/><circle cx="487.4" cy="428.5" r="1.5"/><circle cx="490.6" cy="430.1" r="1.5"/><circle cx="487.4" cy="430.5" r="1.5"/><circle cx="493.9" cy="431.5" r="1.5"/></g>
<line x1="502.20" y1="446.80" x2="502.20" y2="449.10" stroke="#000" stroke-width="1.2"/>
<g fill="#0000ff" fill-opacity="0.6"><circle cx="502.2" cy="421.9" r="1.5"/><circle cx="498.9" cy="423.0" r="1.5"/><circle cx="507.1" cy="423.4" r="1.5"/><circle cx="497.2" cy="423.5" r="1.5"/><circle cx="502.2" cy="426.4" r="1.5"/><circle cx="500.6" cy="427.3" r="1.5"/><circle cx="507.1" cy="427.5" r="1.5"/><circle cx="502.2" cy="428.2" r="1.5"/></g>
<g fill="#a600ee" fill-opacity="0.6"><circle cx="505.5" cy="422.6" r="1.5"/><circle cx="505.5" cy="425.2" r="1.5"/><circle cx="498.9" cy="425.6" r="1.5"/><circle cx="497.2" cy="426.0" r="1.5"/><circle cx="503.8" cy="426.0" r="1.5"/><circle cx="500.6" cy="426.1" r="1.5"/><circle cx="500.6" cy="426.9" r="1.5"/><circle cx="503.8" cy="427.4" r="1.5"/><circle cx="498.9" cy="427.5" r="1.5"/><circle cx="505.5" cy="428.5" r="1.5"/><circle cx="502.2" cy="429.3" r="1.5"/><circle cx="497.2" cy="429.5" r="1.5"/></g>
<g fill="#00dd00" fill-opacity="0.6"><circle cx="502.2" cy="425.0" r="1.5"/><circle cx="507.1" cy="425.9" r="1.5"/><circle cx="507.1" cy="426.2" r="1.5"/><circle cx="497.2" cy="426.4" r="1.5"/><circle cx="503.8" cy="426.9" r="1.5"/><circle cx="507.1" cy="427.2" r="1.5"/><circle cx="497.2" cy="427.2" r="1.5"/><circle cx="505.5" cy="427.2" r="1.5"/><circle cx="497.2" cy="427.7" r="1.5"/><circle cx="498.9" cy="428.8" r="1.5"/><circle cx="507.1" cy="429.5" r="1.5"/></g>
<line x1="430.70" y1="404.30" x2="441.70" y2="404.30" stroke="#00ee00" stroke-width="1.1"/>
<line x1="436.20" y1="400.45" x2="436.20" y2="408.14" stroke="#00ee00" stroke-width="0.9"/>
<line x1="433.60" y1="400.45" x2="438.80" y2="400.45" stroke="#00ee00" stroke-width="0.9"/>
<line x1="433.60" y1="408.14" x2="438.80" y2="408.14" stroke="#00ee00" stroke-width="0.9"/>
<line x1="430.70" y1="400.55" x2="441.70" y2="400.55" stroke="#0000ee" stroke-width="1.1"/>
<line x1="436.20" y1="397.30" x2="436.20" y2="403.80" stroke="#0000ee" stroke-width="0.9"/>
<line x1="433.60" y1="397.30" x2="438.80" y2="397.30" stroke="#0000ee" stroke-width="0.9"/>
<line x1="433.60" y1="403.80" x2="438.80" y2="403.80" stroke="#0000ee" stroke-width="0.9"/>
<line x1="430.70" y1="400.55" x2="441.70" y2="400.55" stroke="#9c00e2" stroke-width="1.1"/>
<line x1="436.20" y1="396.49" x2="436.20" y2="404.60" stroke="#9c00e2" stroke-width="0.9"/>
<line x1="433.60" y1="396.49" x2="438.80" y2="396.49" stroke="#9c00e2" stroke-width="0.9"/>
<line x1="433.60" y1="404.60" x2="438.80" y2="404.60" stroke="#9c00e2" stroke-width="0.9"/>
<line x1="443.90" y1="408.26" x2="454.90" y2="408.26" stroke="#00ee00" stroke-width="1.1"/>
<line x1="449.40" y1="404.27" x2="449.40" y2="412.24" stroke="#00ee00" stroke-width="0.9"/>
<line x1="446.80" y1="404.27" x2="452.00" y2="404.27" stroke="#00ee00" stroke-width="0.9"/>
<line x1="446.80" y1="412.24" x2="452.00" y2="412.24" stroke="#00ee00" stroke-width="0.9"/>
<line x1="443.90" y1="405.09" x2="454.90" y2="405.09" stroke="#0000ee" stroke-width="1.1"/>
<line x1="449.40" y1="402.15" x2="449.40" y2="408.02" stroke="#0000ee" stroke-width="0.9"/>
<line x1="446.80" y1="402.15" x2="452.00" y2="402.15" stroke="#0000ee" stroke-width="0.9"/>
<line x1="446.80" y1="408.02" x2="452.00" y2="408.02" stroke="#0000ee" stroke-width="0.9"/>
<line x1="443.90" y1="405.62" x2="454.90" y2="405.62" stroke="#9c00e2" stroke-width="1.1"/>
<line x1="449.40" y1="401.15" x2="449.40" y2="410.08" stroke="#9c00e2" stroke-width="0.9"/>
<line x1="446.80" y1="401.15" x2="452.00" y2="401.15" stroke="#9c00e2" stroke-width="0.9"/>
<line x1="446.80" y1="410.08" x2="452.00" y2="410.08" stroke="#9c00e2" stroke-width="0.9"/>
<line x1="457.10" y1="407.89" x2="468.10" y2="407.89" stroke="#00ee00" stroke-width="1.1"/>
<line x1="462.60" y1="405.36" x2="462.60" y2="410.42" stroke="#00ee00" stroke-width="0.9"/>
<line x1="460.00" y1="405.36" x2="465.20" y2="405.36" stroke="#00ee00" stroke-width="0.9"/>
<line x1="460.00" y1="410.42" x2="465.20" y2="410.42" stroke="#00ee00" stroke-width="0.9"/>
<line x1="457.10" y1="405.83" x2="468.10" y2="405.83" stroke="#0000ee" stroke-width="1.1"/>
<line x1="462.60" y1="401.89" x2="462.60" y2="409.77" stroke="#0000ee" stroke-width="0.9"/>
<line x1="460.00" y1="401.89" x2="465.20" y2="401.89" stroke="#0000ee" stroke-width="0.9"/>
<line x1="460.00" y1="409.77" x2="465.20" y2="409.77" stroke="#0000ee" stroke-width="0.9"/>
<line x1="457.10" y1="405.83" x2="468.10" y2="405.83" stroke="#9c00e2" stroke-width="1.1"/>
<line x1="462.60" y1="402.01" x2="462.60" y2="409.65" stroke="#9c00e2" stroke-width="0.9"/>
<line x1="460.00" y1="402.01" x2="465.20" y2="402.01" stroke="#9c00e2" stroke-width="0.9"/>
<line x1="460.00" y1="409.65" x2="465.20" y2="409.65" stroke="#9c00e2" stroke-width="0.9"/>
<line x1="470.30" y1="426.21" x2="481.30" y2="426.21" stroke="#00ee00" stroke-width="1.1"/>
<line x1="475.80" y1="423.28" x2="475.80" y2="429.14" stroke="#00ee00" stroke-width="0.9"/>
<line x1="473.20" y1="423.28" x2="478.40" y2="423.28" stroke="#00ee00" stroke-width="0.9"/>
<line x1="473.20" y1="429.14" x2="478.40" y2="429.14" stroke="#00ee00" stroke-width="0.9"/>
<line x1="470.30" y1="424.10" x2="481.30" y2="424.10" stroke="#0000ee" stroke-width="1.1"/>
<line x1="475.80" y1="421.98" x2="475.80" y2="426.21" stroke="#0000ee" stroke-width="0.9"/>
<line x1="473.20" y1="421.98" x2="478.40" y2="421.98" stroke="#0000ee" stroke-width="0.9"/>
<line x1="473.20" y1="426.21" x2="478.40" y2="426.21" stroke="#0000ee" stroke-width="0.9"/>
<line x1="470.30" y1="424.10" x2="481.30" y2="424.10" stroke="#9c00e2" stroke-width="1.1"/>
<line x1="475.80" y1="422.04" x2="475.80" y2="426.15" stroke="#9c00e2" stroke-width="0.9"/>
<line x1="473.20" y1="422.04" x2="478.40" y2="422.04" stroke="#9c00e2" stroke-width="0.9"/>
<line x1="473.20" y1="426.15" x2="478.40" y2="426.15" stroke="#9c00e2" stroke-width="0.9"/>
<line x1="483.50" y1="427.53" x2="494.50" y2="427.53" stroke="#00ee00" stroke-width="1.1"/>
<line x1="489.00" y1="426.05" x2="489.00" y2="429.01" stroke="#00ee00" stroke-width="0.9"/>
<line x1="486.40" y1="426.05" x2="491.60" y2="426.05" stroke="#00ee00" stroke-width="0.9"/>
<line x1="486.40" y1="429.01" x2="491.60" y2="429.01" stroke="#00ee00" stroke-width="0.9"/>
<line x1="483.50" y1="427.53" x2="494.50" y2="427.53" stroke="#0000ee" stroke-width="1.1"/>
<line x1="489.00" y1="425.84" x2="489.00" y2="429.22" stroke="#0000ee" stroke-width="0.9"/>
<line x1="486.40" y1="425.84" x2="491.60" y2="425.84" stroke="#0000ee" stroke-width="0.9"/>
<line x1="486.40" y1="429.22" x2="491.60" y2="429.22" stroke="#0000ee" stroke-width="0.9"/>
<line x1="483.50" y1="427.53" x2="494.50" y2="427.53" stroke="#9c00e2" stroke-width="1.1"/>
<line x1="489.00" y1="425.37" x2="489.00" y2="429.68" stroke="#9c00e2" stroke-width="0.9"/>
<line x1="486.40" y1="425.37" x2="491.60" y2="425.37" stroke="#9c00e2" stroke-width="0.9"/>
<line x1="486.40" y1="429.68" x2="491.60" y2="429.68" stroke="#9c00e2" stroke-width="0.9"/>
<line x1="496.70" y1="427.79" x2="507.70" y2="427.79" stroke="#00ee00" stroke-width="1.1"/>
<line x1="502.20" y1="426.40" x2="502.20" y2="429.18" stroke="#00ee00" stroke-width="0.9"/>
<line x1="499.60" y1="426.40" x2="504.80" y2="426.40" stroke="#00ee00" stroke-width="0.9"/>
<line x1="499.60" y1="429.18" x2="504.80" y2="429.18" stroke="#00ee00" stroke-width="0.9"/>
<line x1="496.70" y1="425.84" x2="507.70" y2="425.84" stroke="#0000ee" stroke-width="1.1"/>
<line x1="502.20" y1="423.45" x2="502.20" y2="428.22" stroke="#0000ee" stroke-width="0.9"/>
<line x1="499.60" y1="423.45" x2="504.80" y2="423.45" stroke="#0000ee" stroke-width="0.9"/>
<line x1="499.60" y1="428.22" x2="504.80" y2="428.22" stroke="#0000ee" stroke-width="0.9"/>
<line x1="496.70" y1="427.79" x2="507.70" y2="427.79" stroke="#9c00e2" stroke-width="1.1"/>
<line x1="502.20" y1="425.65" x2="502.20" y2="429.94" stroke="#9c00e2" stroke-width="0.9"/>
<line x1="499.60" y1="425.65" x2="504.80" y2="425.65" stroke="#9c00e2" stroke-width="0.9"/>
<line x1="499.60" y1="429.94" x2="504.80" y2="429.94" stroke="#9c00e2" stroke-width="0.9"/>
<path d="M436.20,386.70 V385.60 H462.60 V386.70" fill="none" stroke="#3a3a3a" stroke-width="0.9"/>
<text x="449.40" y="388.20" font-size="8.0" text-anchor="middle" font-weight="bold" fill="#222">*</text>
<path d="M436.20,390.00 V388.90 H449.40 V390.00" fill="none" stroke="#3a3a3a" stroke-width="0.9"/>
<text x="442.80" y="391.50" font-size="8.0" text-anchor="middle" font-weight="bold" fill="#222">*</text>
<path d="M449.40,392.60 V391.50 H462.60 V392.60" fill="none" stroke="#3a3a3a" stroke-width="0.9"/>
<text x="456.00" y="390.70" font-size="6.0" text-anchor="middle" fill="#333">ns</text>
<path d="M475.80,415.50 V414.40 H502.20 V415.50" fill="none" stroke="#3a3a3a" stroke-width="0.9"/>
<text x="489.00" y="413.60" font-size="6.0" text-anchor="middle" fill="#333">ns</text>
<text x="426.80" y="456.60" font-size="7.1" text-anchor="end">Cleared</text>
<text x="436.20" y="455.80" font-size="7.0" text-anchor="middle">+</text>
<text x="449.40" y="455.80" font-size="7.0" text-anchor="middle">+</text>
<text x="462.60" y="455.80" font-size="7.0" text-anchor="middle">+</text>
<text x="475.80" y="455.80" font-size="7.0" text-anchor="middle">-</text>
<text x="489.00" y="455.80" font-size="7.0" text-anchor="middle">-</text>
<text x="502.20" y="455.80" font-size="7.0" text-anchor="middle">-</text>
<text x="426.80" y="466.90" font-size="7.1" text-anchor="end">Cell #</text>
<text x="438.80" y="461.10" font-size="7.1" text-anchor="end" transform="rotate(-55 438.80 461.10)">250</text>
<text x="452.00" y="461.10" font-size="7.1" text-anchor="end" transform="rotate(-55 452.00 461.10)">500</text>
<text x="465.20" y="461.10" font-size="7.1" text-anchor="end" transform="rotate(-55 465.20 461.10)">1,000</text>
<text x="478.40" y="461.10" font-size="7.1" text-anchor="end" transform="rotate(-55 478.40 461.10)">250</text>
<text x="491.60" y="461.10" font-size="7.1" text-anchor="end" transform="rotate(-55 491.60 461.10)">500</text>
<text x="504.80" y="461.10" font-size="7.1" text-anchor="end" transform="rotate(-55 504.80 461.10)">1,000</text>
<text x="470.40" y="487.50" font-size="9.0" text-anchor="middle">5 DIV</text>
<line x1="427.40" y1="492.30" x2="427.40" y2="548.20" stroke="#000" stroke-width="1.3"/>
<line x1="426.80" y1="547.60" x2="512.00" y2="547.60" stroke="#000" stroke-width="1.3"/>
<line x1="425.40" y1="547.60" x2="427.40" y2="547.60" stroke="#000" stroke-width="1.2"/>
<text x="424.30" y="550.20" font-size="7.3" text-anchor="end">0.0</text>
<line x1="425.40" y1="521.20" x2="427.40" y2="521.20" stroke="#000" stroke-width="1.2"/>
<text x="424.30" y="523.80" font-size="7.3" text-anchor="end">0.5</text>
<line x1="425.40" y1="494.80" x2="427.40" y2="494.80" stroke="#000" stroke-width="1.2"/>
<text x="424.30" y="497.40" font-size="7.3" text-anchor="end">1.0</text>
<text x="410.10" y="518.20" font-size="7.2" text-anchor="middle" transform="rotate(-90 410.10 518.20)">Clearing metric</text>
<line x1="436.20" y1="547.60" x2="436.20" y2="549.90" stroke="#000" stroke-width="1.2"/>
<g fill="#0000ff" fill-opacity="0.6"><circle cx="436.2" cy="497.8" r="1.5"/><circle cx="439.5" cy="498.0" r="1.5"/><circle cx="441.1" cy="501.9" r="1.5"/><circle cx="437.8" cy="502.4" r="1.5"/><circle cx="439.5" cy="503.2" r="1.5"/><circle cx="437.8" cy="504.8" r="1.5"/><circle cx="441.1" cy="504.9" r="1.5"/><circle cx="431.2" cy="505.0" r="1.5"/><circle cx="439.5" cy="506.8" r="1.5"/><circle cx="436.2" cy="508.0" r="1.5"/><circle cx="434.6" cy="511.0" r="1.5"/><circle cx="431.2" cy="511.3" r="1.5"/></g>
<g fill="#a600ee" fill-opacity="0.6"><circle cx="432.9" cy="498.5" r="1.5"/><circle cx="434.6" cy="501.3" r="1.5"/><circle cx="431.2" cy="503.6" r="1.5"/><circle cx="434.6" cy="505.3" r="1.5"/><circle cx="441.1" cy="505.8" r="1.5"/><circle cx="431.2" cy="506.3" r="1.5"/><circle cx="434.6" cy="506.6" r="1.5"/><circle cx="441.1" cy="509.1" r="1.5"/><circle cx="437.8" cy="509.6" r="1.5"/></g>
<g fill="#00dd00" fill-opacity="0.6"><circle cx="437.8" cy="500.3" r="1.5"/><circle cx="431.2" cy="502.1" r="1.5"/><circle cx="434.6" cy="503.1" r="1.5"/><circle cx="436.2" cy="503.7" r="1.5"/><circle cx="441.1" cy="503.8" r="1.5"/><circle cx="432.9" cy="504.8" r="1.5"/><circle cx="437.8" cy="505.7" r="1.5"/><circle cx="432.9" cy="508.0" r="1.5"/><circle cx="439.5" cy="511.8" r="1.5"/></g>
<line x1="449.40" y1="547.60" x2="449.40" y2="549.90" stroke="#000" stroke-width="1.2"/>
<g fill="#a600ee" fill-opacity="0.6"><circle cx="449.4" cy="502.1" r="1.5"/><circle cx="452.7" cy="503.5" r="1.5"/><circle cx="444.4" cy="505.3" r="1.5"/><circle cx="451.0" cy="505.4" r="1.5"/><circle cx="454.3" cy="507.2" r="1.5"/><circle cx="451.0" cy="507.5" r="1.5"/><circle cx="452.7" cy="508.9" r="1.5"/><circle cx="449.4" cy="510.1" r="1.5"/><circle cx="446.1" cy="510.6" r="1.5"/><circle cx="452.7" cy="513.3" r="1.5"/><circle cx="451.0" cy="515.5" r="1.5"/></g>
<g fill="#00dd00" fill-opacity="0.6"><circle cx="447.8" cy="504.1" r="1.5"/><circle cx="444.4" cy="506.2" r="1.5"/><circle cx="452.7" cy="506.4" r="1.5"/><circle cx="447.8" cy="508.6" r="1.5"/><circle cx="444.4" cy="508.8" r="1.5"/><circle cx="454.3" cy="510.2" r="1.5"/><circle cx="451.0" cy="511.2" r="1.5"/><circle cx="447.8" cy="512.5" r="1.5"/></g>
<g fill="#0000ff" fill-opacity="0.6"><circle cx="454.3" cy="505.9" r="1.5"/><circle cx="447.8" cy="506.0" r="1.5"/><circle cx="449.4" cy="506.6" r="1.5"/><circle cx="446.1" cy="507.2" r="1.5"/><circle cx="444.4" cy="512.7" r="1.5"/><circle cx="449.4" cy="513.6" r="1.5"/><circle cx="454.3" cy="514.0" r="1.5"/><circle cx="446.1" cy="514.5" r="1.5"/><circle cx="447.8" cy="516.4" r="1.5"/><circle cx="454.3" cy="517.5" r="1.5"/></g>
<line x1="462.60" y1="547.60" x2="462.60" y2="549.90" stroke="#000" stroke-width="1.2"/>
<g fill="#a600ee" fill-opacity="0.6"><circle cx="462.6" cy="507.0" r="1.5"/><circle cx="465.9" cy="508.3" r="1.5"/><circle cx="459.3" cy="508.8" r="1.5"/><circle cx="462.6" cy="508.8" r="1.5"/><circle cx="467.5" cy="510.7" r="1.5"/><circle cx="457.6" cy="510.7" r="1.5"/><circle cx="465.9" cy="511.4" r="1.5"/><circle cx="459.3" cy="512.0" r="1.5"/><circle cx="457.6" cy="512.5" r="1.5"/></g>
<g fill="#00dd00" fill-opacity="0.6"><circle cx="467.5" cy="509.2" r="1.5"/><circle cx="457.6" cy="509.5" r="1.5"/><circle cx="464.2" cy="510.1" r="1.5"/><circle cx="460.9" cy="510.8" r="1.5"/><circle cx="462.6" cy="512.1" r="1.5"/><circle cx="467.5" cy="512.4" r="1.5"/><circle cx="464.2" cy="512.9" r="1.5"/><circle cx="460.9" cy="513.2" r="1.5"/><circle cx="467.5" cy="513.7" r="1.5"/><circle cx="467.5" cy="514.8" r="1.5"/><circle cx="459.3" cy="514.8" r="1.5"/><circle cx="465.9" cy="516.5" r="1.5"/></g>
<g fill="#0000ff" fill-opacity="0.6"><circle cx="460.9" cy="510.4" r="1.5"/><circle cx="464.2" cy="510.7" r="1.5"/><circle cx="457.6" cy="514.1" r="1.5"/><circle cx="464.2" cy="514.3" r="1.5"/><circle cx="460.9" cy="514.6" r="1.5"/><circle cx="462.6" cy="515.6" r="1.5"/><circle cx="457.6" cy="517.1" r="1.5"/><circle cx="460.9" cy="517.8" r="1.5"/><circle cx="464.2" cy="518.5" r="1.5"/></g>
<line x1="475.80" y1="547.60" x2="475.80" y2="549.90" stroke="#000" stroke-width="1.2"/>
<g fill="#00dd00" fill-opacity="0.6"><circle cx="475.8" cy="524.4" r="1.5"/><circle cx="480.7" cy="526.5" r="1.5"/><circle cx="470.8" cy="527.2" r="1.5"/><circle cx="474.1" cy="528.2" r="1.5"/><circle cx="480.7" cy="529.0" r="1.5"/><circle cx="475.8" cy="530.0" r="1.5"/><circle cx="480.7" cy="530.1" r="1.5"/><circle cx="477.4" cy="532.1" r="1.5"/></g>
<g fill="#a600ee" fill-opacity="0.6"><circle cx="479.1" cy="525.6" r="1.5"/><circle cx="472.5" cy="525.8" r="1.5"/><circle cx="475.8" cy="526.3" r="1.5"/><circle cx="477.4" cy="527.9" r="1.5"/><circle cx="470.8" cy="528.3" r="1.5"/><circle cx="472.5" cy="528.9" r="1.5"/><circle cx="477.4" cy="529.0" r="1.5"/><circle cx="474.1" cy="529.2" r="1.5"/><circle cx="480.7" cy="529.3" r="1.5"/><circle cx="475.8" cy="529.3" r="1.5"/><circle cx="477.4" cy="530.5" r="1.5"/><circle cx="480.7" cy="531.9" r="1.5"/></g>
<g fill="#0000ff" fill-opacity="0.6"><circle cx="480.7" cy="528.2" r="1.5"/><circle cx="479.1" cy="528.7" r="1.5"/><circle cx="475.8" cy="528.8" r="1.5"/><circle cx="470.8" cy="529.1" r="1.5"/><circle cx="470.8" cy="529.5" r="1.5"/><circle cx="479.1" cy="529.6" r="1.5"/><circle cx="472.5" cy="529.9" r="1.5"/><circle cx="474.1" cy="530.8" r="1.5"/><circle cx="470.8" cy="531.6" r="1.5"/></g>
<line x1="489.00" y1="547.60" x2="489.00" y2="549.90" stroke="#000" stroke-width="1.2"/>
<g fill="#a600ee" fill-opacity="0.6"><circle cx="489.0" cy="526.8" r="1.5"/><circle cx="490.6" cy="528.9" r="1.5"/><circle cx="484.1" cy="530.2" r="1.5"/><circle cx="487.4" cy="530.4" r="1.5"/><circle cx="489.0" cy="531.0" r="1.5"/><circle cx="493.9" cy="531.1" r="1.5"/><circle cx="485.7" cy="532.0" r="1.5"/><circle cx="489.0" cy="533.5" r="1.5"/></g>
<g fill="#0000ff" fill-opacity="0.6"><circle cx="487.4" cy="529.1" r="1.5"/><circle cx="492.3" cy="529.9" r="1.5"/><circle cx="485.7" cy="530.2" r="1.5"/><circle cx="493.9" cy="530.2" r="1.5"/><circle cx="490.6" cy="530.3" r="1.5"/><circle cx="493.9" cy="532.3" r="1.5"/><circle cx="489.0" cy="532.4" r="1.5"/><circle cx="484.1" cy="532.6" r="1.5"/><circle cx="484.1" cy="533.0" r="1.5"/><circle cx="493.9" cy="533.4" r="1.5"/><circle cx="493.9" cy="533.7" r="1.5"/><circle cx="490.6" cy="534.8" r="1.5"/></g>
<g fill="#00dd00" fill-opacity="0.6"><circle cx="493.9" cy="529.3" r="1.5"/><circle cx="484.1" cy="529.6" r="1.5"/><circle cx="489.0" cy="529.7" r="1.5"/><circle cx="484.1" cy="531.3" r="1.5"/><circle cx="490.6" cy="531.5" r="1.5"/><circle cx="487.4" cy="531.5" r="1.5"/><circle cx="492.3" cy="531.6" r="1.5"/><circle cx="492.3" cy="532.7" r="1.5"/><circle cx="487.4" cy="532.9" r="1.5"/><circle cx="490.6" cy="533.0" r="1.5"/><circle cx="485.7" cy="533.5" r="1.5"/></g>
<line x1="502.20" y1="547.60" x2="502.20" y2="549.90" stroke="#000" stroke-width="1.2"/>
<g fill="#a600ee" fill-opacity="0.6"><circle cx="502.2" cy="524.0" r="1.5"/><circle cx="500.6" cy="526.2" r="1.5"/><circle cx="497.2" cy="527.0" r="1.5"/><circle cx="498.9" cy="527.5" r="1.5"/><circle cx="502.2" cy="528.4" r="1.5"/><circle cx="507.1" cy="528.6" r="1.5"/><circle cx="497.2" cy="529.0" r="1.5"/><circle cx="500.6" cy="529.1" r="1.5"/><circle cx="507.1" cy="529.2" r="1.5"/><circle cx="498.9" cy="529.4" r="1.5"/><circle cx="500.6" cy="530.1" r="1.5"/><circle cx="507.1" cy="530.8" r="1.5"/></g>
<g fill="#00dd00" fill-opacity="0.6"><circle cx="503.8" cy="526.1" r="1.5"/><circle cx="507.1" cy="526.5" r="1.5"/><circle cx="502.2" cy="527.1" r="1.5"/><circle cx="505.5" cy="527.3" r="1.5"/><circle cx="503.8" cy="529.1" r="1.5"/><circle cx="503.8" cy="529.5" r="1.5"/><circle cx="497.2" cy="529.9" r="1.5"/><circle cx="505.5" cy="530.5" r="1.5"/><circle cx="502.2" cy="530.6" r="1.5"/><circle cx="503.8" cy="532.3" r="1.5"/><circle cx="507.1" cy="532.7" r="1.5"/><circle cx="497.2" cy="532.9" r="1.5"/></g>
<g fill="#0000ff" fill-opacity="0.6"><circle cx="497.2" cy="530.9" r="1.5"/><circle cx="498.9" cy="532.3" r="1.5"/><circle cx="500.6" cy="532.8" r="1.5"/><circle cx="505.5" cy="533.7" r="1.5"/><circle cx="502.2" cy="534.3" r="1.5"/><circle cx="498.9" cy="534.6" r="1.5"/><circle cx="507.1" cy="535.5" r="1.5"/><circle cx="503.8" cy="536.1" r="1.5"/></g>
<line x1="430.70" y1="505.04" x2="441.70" y2="505.04" stroke="#00ee00" stroke-width="1.1"/>
<line x1="436.20" y1="501.82" x2="436.20" y2="508.27" stroke="#00ee00" stroke-width="0.9"/>
<line x1="433.60" y1="501.82" x2="438.80" y2="501.82" stroke="#00ee00" stroke-width="0.9"/>
<line x1="433.60" y1="508.27" x2="438.80" y2="508.27" stroke="#00ee00" stroke-width="0.9"/>
<line x1="430.70" y1="505.36" x2="441.70" y2="505.36" stroke="#0000ee" stroke-width="1.1"/>
<line x1="436.20" y1="501.15" x2="436.20" y2="509.57" stroke="#0000ee" stroke-width="0.9"/>
<line x1="433.60" y1="501.15" x2="438.80" y2="501.15" stroke="#0000ee" stroke-width="0.9"/>
<line x1="433.60" y1="509.57" x2="438.80" y2="509.57" stroke="#0000ee" stroke-width="0.9"/>
<line x1="430.70" y1="504.94" x2="441.70" y2="504.94" stroke="#9c00e2" stroke-width="1.1"/>
<line x1="436.20" y1="501.58" x2="436.20" y2="508.30" stroke="#9c00e2" stroke-width="0.9"/>
<line x1="433.60" y1="501.58" x2="438.80" y2="501.58" stroke="#9c00e2" stroke-width="0.9"/>
<line x1="433.60" y1="508.30" x2="438.80" y2="508.30" stroke="#9c00e2" stroke-width="0.9"/>
<line x1="443.90" y1="509.32" x2="454.90" y2="509.32" stroke="#00ee00" stroke-width="1.1"/>
<line x1="449.40" y1="506.58" x2="449.40" y2="512.06" stroke="#00ee00" stroke-width="0.9"/>
<line x1="446.80" y1="506.58" x2="452.00" y2="506.58" stroke="#00ee00" stroke-width="0.9"/>
<line x1="446.80" y1="512.06" x2="452.00" y2="512.06" stroke="#00ee00" stroke-width="0.9"/>
<line x1="443.90" y1="510.38" x2="454.90" y2="510.38" stroke="#0000ee" stroke-width="1.1"/>
<line x1="449.40" y1="505.95" x2="449.40" y2="514.80" stroke="#0000ee" stroke-width="0.9"/>
<line x1="446.80" y1="505.95" x2="452.00" y2="505.95" stroke="#0000ee" stroke-width="0.9"/>
<line x1="446.80" y1="514.80" x2="452.00" y2="514.80" stroke="#0000ee" stroke-width="0.9"/>
<line x1="443.90" y1="508.21" x2="454.90" y2="508.21" stroke="#9c00e2" stroke-width="1.1"/>
<line x1="449.40" y1="504.32" x2="449.40" y2="512.10" stroke="#9c00e2" stroke-width="0.9"/>
<line x1="446.80" y1="504.32" x2="452.00" y2="504.32" stroke="#9c00e2" stroke-width="0.9"/>
<line x1="446.80" y1="512.10" x2="452.00" y2="512.10" stroke="#9c00e2" stroke-width="0.9"/>
<line x1="457.10" y1="510.90" x2="468.10" y2="510.90" stroke="#00ee00" stroke-width="1.1"/>
<line x1="462.60" y1="508.20" x2="462.60" y2="513.60" stroke="#00ee00" stroke-width="0.9"/>
<line x1="460.00" y1="508.20" x2="465.20" y2="508.20" stroke="#00ee00" stroke-width="0.9"/>
<line x1="460.00" y1="513.60" x2="465.20" y2="513.60" stroke="#00ee00" stroke-width="0.9"/>
<line x1="457.10" y1="514.02" x2="468.10" y2="514.02" stroke="#0000ee" stroke-width="1.1"/>
<line x1="462.60" y1="511.21" x2="462.60" y2="516.83" stroke="#0000ee" stroke-width="0.9"/>
<line x1="460.00" y1="511.21" x2="465.20" y2="511.21" stroke="#0000ee" stroke-width="0.9"/>
<line x1="460.00" y1="516.83" x2="465.20" y2="516.83" stroke="#0000ee" stroke-width="0.9"/>
<line x1="457.10" y1="510.01" x2="468.10" y2="510.01" stroke="#9c00e2" stroke-width="1.1"/>
<line x1="462.60" y1="508.25" x2="462.60" y2="511.76" stroke="#9c00e2" stroke-width="0.9"/>
<line x1="460.00" y1="508.25" x2="465.20" y2="508.25" stroke="#9c00e2" stroke-width="0.9"/>
<line x1="460.00" y1="511.76" x2="465.20" y2="511.76" stroke="#9c00e2" stroke-width="0.9"/>
<line x1="470.30" y1="528.12" x2="481.30" y2="528.12" stroke="#00ee00" stroke-width="1.1"/>
<line x1="475.80" y1="525.85" x2="475.80" y2="530.38" stroke="#00ee00" stroke-width="0.9"/>
<line x1="473.20" y1="525.85" x2="478.40" y2="525.85" stroke="#00ee00" stroke-width="0.9"/>
<line x1="473.20" y1="530.38" x2="478.40" y2="530.38" stroke="#00ee00" stroke-width="0.9"/>
<line x1="470.30" y1="531.07" x2="481.30" y2="531.07" stroke="#0000ee" stroke-width="1.1"/>
<line x1="475.80" y1="529.28" x2="475.80" y2="532.87" stroke="#0000ee" stroke-width="0.9"/>
<line x1="473.20" y1="529.28" x2="478.40" y2="529.28" stroke="#0000ee" stroke-width="0.9"/>
<line x1="473.20" y1="532.87" x2="478.40" y2="532.87" stroke="#0000ee" stroke-width="0.9"/>
<line x1="470.30" y1="528.64" x2="481.30" y2="528.64" stroke="#9c00e2" stroke-width="1.1"/>
<line x1="475.80" y1="526.84" x2="475.80" y2="530.45" stroke="#9c00e2" stroke-width="0.9"/>
<line x1="473.20" y1="526.84" x2="478.40" y2="526.84" stroke="#9c00e2" stroke-width="0.9"/>
<line x1="473.20" y1="530.45" x2="478.40" y2="530.45" stroke="#9c00e2" stroke-width="0.9"/>
<line x1="483.50" y1="530.70" x2="494.50" y2="530.70" stroke="#00ee00" stroke-width="1.1"/>
<line x1="489.00" y1="529.09" x2="489.00" y2="532.32" stroke="#00ee00" stroke-width="0.9"/>
<line x1="486.40" y1="529.09" x2="491.60" y2="529.09" stroke="#00ee00" stroke-width="0.9"/>
<line x1="486.40" y1="532.32" x2="491.60" y2="532.32" stroke="#00ee00" stroke-width="0.9"/>
<line x1="483.50" y1="531.02" x2="494.50" y2="531.02" stroke="#0000ee" stroke-width="1.1"/>
<line x1="489.00" y1="529.11" x2="489.00" y2="532.93" stroke="#0000ee" stroke-width="0.9"/>
<line x1="486.40" y1="529.11" x2="491.60" y2="529.11" stroke="#0000ee" stroke-width="0.9"/>
<line x1="486.40" y1="532.93" x2="491.60" y2="532.93" stroke="#0000ee" stroke-width="0.9"/>
<line x1="483.50" y1="530.60" x2="494.50" y2="530.60" stroke="#9c00e2" stroke-width="1.1"/>
<line x1="489.00" y1="528.71" x2="489.00" y2="532.48" stroke="#9c00e2" stroke-width="0.9"/>
<line x1="486.40" y1="528.71" x2="491.60" y2="528.71" stroke="#9c00e2" stroke-width="0.9"/>
<line x1="486.40" y1="532.48" x2="491.60" y2="532.48" stroke="#9c00e2" stroke-width="0.9"/>
<line x1="496.70" y1="528.91" x2="507.70" y2="528.91" stroke="#00ee00" stroke-width="1.1"/>
<line x1="502.20" y1="526.52" x2="502.20" y2="531.30" stroke="#00ee00" stroke-width="0.9"/>
<line x1="499.60" y1="526.52" x2="504.80" y2="526.52" stroke="#00ee00" stroke-width="0.9"/>
<line x1="499.60" y1="531.30" x2="504.80" y2="531.30" stroke="#00ee00" stroke-width="0.9"/>
<line x1="496.70" y1="533.34" x2="507.70" y2="533.34" stroke="#0000ee" stroke-width="1.1"/>
<line x1="502.20" y1="531.68" x2="502.20" y2="535.01" stroke="#0000ee" stroke-width="0.9"/>
<line x1="499.60" y1="531.68" x2="504.80" y2="531.68" stroke="#0000ee" stroke-width="0.9"/>
<line x1="499.60" y1="535.01" x2="504.80" y2="535.01" stroke="#0000ee" stroke-width="0.9"/>
<line x1="496.70" y1="528.12" x2="507.70" y2="528.12" stroke="#9c00e2" stroke-width="1.1"/>
<line x1="502.20" y1="526.33" x2="502.20" y2="529.90" stroke="#9c00e2" stroke-width="0.9"/>
<line x1="499.60" y1="526.33" x2="504.80" y2="526.33" stroke="#9c00e2" stroke-width="0.9"/>
<line x1="499.60" y1="529.90" x2="504.80" y2="529.90" stroke="#9c00e2" stroke-width="0.9"/>
<path d="M436.20,491.70 V490.60 H462.60 V491.70" fill="none" stroke="#3a3a3a" stroke-width="0.9"/>
<text x="449.40" y="493.20" font-size="8.0" text-anchor="middle" font-weight="bold" fill="#222">**</text>
<path d="M436.20,495.30 V494.20 H449.40 V495.30" fill="none" stroke="#3a3a3a" stroke-width="0.9"/>
<text x="442.80" y="496.80" font-size="8.0" text-anchor="middle" font-weight="bold" fill="#222">**</text>
<path d="M449.40,500.90 V499.80 H462.60 V500.90" fill="none" stroke="#3a3a3a" stroke-width="0.9"/>
<text x="456.00" y="502.40" font-size="8.0" text-anchor="middle" font-weight="bold" fill="#222">*</text>
<path d="M475.80,513.10 V512.00 H502.20 V513.10" fill="none" stroke="#3a3a3a" stroke-width="0.9"/>
<text x="489.00" y="511.20" font-size="6.0" text-anchor="middle" fill="#333">ns</text>
<path d="M489.00,517.50 V516.40 H502.20 V517.50" fill="none" stroke="#3a3a3a" stroke-width="0.9"/>
<text x="495.60" y="515.60" font-size="6.0" text-anchor="middle" fill="#333">ns</text>
<path d="M475.80,521.70 V520.60 H489.00 V521.70" fill="none" stroke="#3a3a3a" stroke-width="0.9"/>
<text x="482.40" y="523.20" font-size="8.0" text-anchor="middle" font-weight="bold" fill="#222">*</text>
<text x="426.80" y="557.40" font-size="7.1" text-anchor="end">Cleared</text>
<text x="436.20" y="556.60" font-size="7.0" text-anchor="middle">+</text>
<text x="449.40" y="556.60" font-size="7.0" text-anchor="middle">+</text>
<text x="462.60" y="556.60" font-size="7.0" text-anchor="middle">+</text>
<text x="475.80" y="556.60" font-size="7.0" text-anchor="middle">-</text>
<text x="489.00" y="556.60" font-size="7.0" text-anchor="middle">-</text>
<text x="502.20" y="556.60" font-size="7.0" text-anchor="middle">-</text>
<text x="426.80" y="567.70" font-size="7.1" text-anchor="end">Cell #</text>
<text x="438.80" y="561.90" font-size="7.1" text-anchor="end" transform="rotate(-55 438.80 561.90)">250</text>
<text x="452.00" y="561.90" font-size="7.1" text-anchor="end" transform="rotate(-55 452.00 561.90)">500</text>
<text x="465.20" y="561.90" font-size="7.1" text-anchor="end" transform="rotate(-55 465.20 561.90)">1,000</text>
<text x="478.40" y="561.90" font-size="7.1" text-anchor="end" transform="rotate(-55 478.40 561.90)">250</text>
<text x="491.60" y="561.90" font-size="7.1" text-anchor="end" transform="rotate(-55 491.60 561.90)">500</text>
<text x="504.80" y="561.90" font-size="7.1" text-anchor="end" transform="rotate(-55 504.80 561.90)">1,000</text>
<text x="470.20" y="588.60" font-size="9.0" text-anchor="middle">7 DIV</text>
<line x1="427.40" y1="591.70" x2="427.40" y2="647.60" stroke="#000" stroke-width="1.3"/>
<line x1="426.80" y1="647.00" x2="512.00" y2="647.00" stroke="#000" stroke-width="1.3"/>
<line x1="425.40" y1="647.00" x2="427.40" y2="647.00" stroke="#000" stroke-width="1.2"/>
<text x="424.30" y="649.60" font-size="7.3" text-anchor="end">0.0</text>
<line x1="425.40" y1="620.60" x2="427.40" y2="620.60" stroke="#000" stroke-width="1.2"/>
<text x="424.30" y="623.20" font-size="7.3" text-anchor="end">0.5</text>
<line x1="425.40" y1="594.20" x2="427.40" y2="594.20" stroke="#000" stroke-width="1.2"/>
<text x="424.30" y="596.80" font-size="7.3" text-anchor="end">1.0</text>
<text x="410.10" y="617.60" font-size="7.2" text-anchor="middle" transform="rotate(-90 410.10 617.60)">Clearing metric</text>
<line x1="436.20" y1="647.00" x2="436.20" y2="649.30" stroke="#000" stroke-width="1.2"/>
<g fill="#a600ee" fill-opacity="0.6"><circle cx="436.2" cy="602.6" r="1.5"/><circle cx="439.5" cy="603.1" r="1.5"/><circle cx="441.1" cy="603.5" r="1.5"/><circle cx="437.8" cy="604.3" r="1.5"/><circle cx="441.1" cy="604.3" r="1.5"/><circle cx="439.5" cy="607.0" r="1.5"/><circle cx="432.9" cy="607.1" r="1.5"/><circle cx="441.1" cy="607.3" r="1.5"/><circle cx="431.2" cy="607.5" r="1.5"/><circle cx="441.1" cy="609.1" r="1.5"/><circle cx="441.1" cy="611.3" r="1.5"/><circle cx="432.9" cy="612.4" r="1.5"/></g>
<g fill="#0000ff" fill-opacity="0.6"><circle cx="432.9" cy="603.2" r="1.5"/><circle cx="431.2" cy="604.0" r="1.5"/><circle cx="439.5" cy="609.3" r="1.5"/><circle cx="436.2" cy="610.1" r="1.5"/><circle cx="441.1" cy="610.2" r="1.5"/><circle cx="431.2" cy="610.3" r="1.5"/><circle cx="437.8" cy="610.4" r="1.5"/><circle cx="434.6" cy="611.0" r="1.5"/><circle cx="437.8" cy="611.5" r="1.5"/><circle cx="437.8" cy="615.1" r="1.5"/><circle cx="436.2" cy="630.1" r="1.5"/></g>
<g fill="#00dd00" fill-opacity="0.6"><circle cx="434.6" cy="604.3" r="1.5"/><circle cx="431.2" cy="605.3" r="1.5"/><circle cx="436.2" cy="606.6" r="1.5"/><circle cx="437.8" cy="607.8" r="1.5"/><circle cx="434.6" cy="608.0" r="1.5"/><circle cx="431.2" cy="609.2" r="1.5"/><circle cx="436.2" cy="609.2" r="1.5"/><circle cx="432.9" cy="609.7" r="1.5"/><circle cx="436.2" cy="612.8" r="1.5"/><circle cx="436.2" cy="639.1" r="1.5"/></g>
<line x1="449.40" y1="647.00" x2="449.40" y2="649.30" stroke="#000" stroke-width="1.2"/>
<g fill="#0000ff" fill-opacity="0.6"><circle cx="449.4" cy="606.5" r="1.5"/><circle cx="449.4" cy="610.4" r="1.5"/><circle cx="447.8" cy="612.8" r="1.5"/><circle cx="444.4" cy="612.9" r="1.5"/><circle cx="449.4" cy="613.3" r="1.5"/><circle cx="449.4" cy="614.1" r="1.5"/><circle cx="454.3" cy="614.5" r="1.5"/><circle cx="447.8" cy="615.3" r="1.5"/><circle cx="444.4" cy="615.8" r="1.5"/><circle cx="447.8" cy="616.5" r="1.5"/><circle cx="449.4" cy="633.8" r="1.5"/></g>
<g fill="#a600ee" fill-opacity="0.6"><circle cx="452.7" cy="607.1" r="1.5"/><circle cx="454.3" cy="609.7" r="1.5"/><circle cx="444.4" cy="610.3" r="1.5"/><circle cx="452.7" cy="611.1" r="1.5"/><circle cx="446.1" cy="611.1" r="1.5"/><circle cx="451.0" cy="612.5" r="1.5"/><circle cx="446.1" cy="614.1" r="1.5"/><circle cx="444.4" cy="615.3" r="1.5"/><circle cx="454.3" cy="615.6" r="1.5"/><circle cx="451.0" cy="615.8" r="1.5"/></g>
<g fill="#00dd00" fill-opacity="0.6"><circle cx="447.8" cy="608.9" r="1.5"/><circle cx="451.0" cy="609.3" r="1.5"/><circle cx="454.3" cy="612.2" r="1.5"/><circle cx="454.3" cy="613.0" r="1.5"/><circle cx="444.4" cy="613.3" r="1.5"/><circle cx="452.7" cy="613.5" r="1.5"/><circle cx="452.7" cy="614.4" r="1.5"/><circle cx="446.1" cy="614.7" r="1.5"/><circle cx="451.0" cy="615.0" r="1.5"/><circle cx="452.7" cy="618.1" r="1.5"/><circle cx="449.4" cy="620.8" r="1.5"/></g>
<line x1="462.60" y1="647.00" x2="462.60" y2="649.30" stroke="#000" stroke-width="1.2"/>
<g fill="#00dd00" fill-opacity="0.6"><circle cx="462.6" cy="597.9" r="1.5"/><circle cx="462.6" cy="604.9" r="1.5"/><circle cx="465.9" cy="605.9" r="1.5"/><circle cx="459.3" cy="606.5" r="1.5"/><circle cx="462.6" cy="607.3" r="1.5"/><circle cx="467.5" cy="607.9" r="1.5"/><circle cx="457.6" cy="608.1" r="1.5"/><circle cx="464.2" cy="608.8" r="1.5"/><circle cx="460.9" cy="609.5" r="1.5"/><circle cx="457.6" cy="611.1" r="1.5"/><circle cx="464.2" cy="613.2" r="1.5"/><circle cx="467.5" cy="615.7" r="1.5"/></g>
<g fill="#0000ff" fill-opacity="0.6"><circle cx="465.9" cy="611.0" r="1.5"/><circle cx="462.6" cy="611.4" r="1.5"/><circle cx="459.3" cy="612.3" r="1.5"/><circle cx="467.5" cy="613.2" r="1.5"/><circle cx="457.6" cy="614.1" r="1.5"/><circle cx="459.3" cy="615.0" r="1.5"/><circle cx="460.9" cy="615.9" r="1.5"/><circle cx="465.9" cy="616.8" r="1.5"/><circle cx="467.5" cy="619.2" r="1.5"/><circle cx="462.6" cy="621.6" r="1.5"/></g>
<g fill="#a600ee" fill-opacity="0.6"><circle cx="467.5" cy="611.5" r="1.5"/><circle cx="460.9" cy="613.2" r="1.5"/><circle cx="457.6" cy="613.3" r="1.5"/><circle cx="465.9" cy="613.7" r="1.5"/><circle cx="462.6" cy="614.0" r="1.5"/><circle cx="464.2" cy="615.8" r="1.5"/><circle cx="457.6" cy="616.4" r="1.5"/><circle cx="462.6" cy="617.5" r="1.5"/><circle cx="459.3" cy="617.9" r="1.5"/><circle cx="465.9" cy="621.9" r="1.5"/></g>
<line x1="475.80" y1="647.00" x2="475.80" y2="649.30" stroke="#000" stroke-width="1.2"/>
<g fill="#a600ee" fill-opacity="0.6"><circle cx="475.8" cy="626.1" r="1.5"/><circle cx="479.1" cy="626.3" r="1.5"/><circle cx="472.5" cy="627.1" r="1.5"/><circle cx="477.4" cy="627.7" r="1.5"/><circle cx="474.1" cy="628.4" r="1.5"/><circle cx="480.7" cy="629.9" r="1.5"/><circle cx="470.8" cy="630.3" r="1.5"/><circle cx="474.1" cy="630.7" r="1.5"/><circle cx="470.8" cy="630.8" r="1.5"/><circle cx="477.4" cy="630.8" r="1.5"/></g>
<g fill="#0000ff" fill-opacity="0.6"><circle cx="480.7" cy="627.4" r="1.5"/><circle cx="470.8" cy="627.5" r="1.5"/><circle cx="470.8" cy="629.2" r="1.5"/><circle cx="480.7" cy="629.4" r="1.5"/><circle cx="477.4" cy="629.8" r="1.5"/><circle cx="477.4" cy="630.5" r="1.5"/><circle cx="474.1" cy="630.9" r="1.5"/><circle cx="479.1" cy="631.3" r="1.5"/><circle cx="470.8" cy="633.9" r="1.5"/><circle cx="475.8" cy="635.9" r="1.5"/></g>
<g fill="#00dd00" fill-opacity="0.6"><circle cx="479.1" cy="628.9" r="1.5"/><circle cx="475.8" cy="629.3" r="1.5"/><circle cx="472.5" cy="629.8" r="1.5"/><circle cx="474.1" cy="630.2" r="1.5"/><circle cx="480.7" cy="630.6" r="1.5"/><circle cx="480.7" cy="630.9" r="1.5"/><circle cx="470.8" cy="631.0" r="1.5"/><circle cx="475.8" cy="632.3" r="1.5"/><circle cx="472.5" cy="632.7" r="1.5"/><circle cx="479.1" cy="632.8" r="1.5"/></g>
<line x1="489.00" y1="647.00" x2="489.00" y2="649.30" stroke="#000" stroke-width="1.2"/>
<g fill="#00dd00" fill-opacity="0.6"><circle cx="489.0" cy="620.6" r="1.5"/><circle cx="489.0" cy="627.5" r="1.5"/><circle cx="492.3" cy="627.7" r="1.5"/><circle cx="485.7" cy="628.2" r="1.5"/><circle cx="493.9" cy="628.5" r="1.5"/><circle cx="484.1" cy="629.4" r="1.5"/><circle cx="487.4" cy="630.2" r="1.5"/><circle cx="490.6" cy="630.5" r="1.5"/><circle cx="484.1" cy="630.6" r="1.5"/><circle cx="492.3" cy="632.0" r="1.5"/><circle cx="485.7" cy="632.1" r="1.5"/></g>
<g fill="#0000ff" fill-opacity="0.6"><circle cx="490.6" cy="629.2" r="1.5"/><circle cx="493.9" cy="630.3" r="1.5"/><circle cx="489.0" cy="631.4" r="1.5"/><circle cx="493.9" cy="632.5" r="1.5"/><circle cx="484.1" cy="632.7" r="1.5"/><circle cx="484.1" cy="633.9" r="1.5"/><circle cx="487.4" cy="634.1" r="1.5"/><circle cx="485.7" cy="634.3" r="1.5"/><circle cx="493.9" cy="634.7" r="1.5"/></g>
<g fill="#a600ee" fill-opacity="0.6"><circle cx="489.0" cy="632.7" r="1.5"/><circle cx="487.4" cy="633.0" r="1.5"/><circle cx="490.6" cy="633.6" r="1.5"/><circle cx="493.9" cy="633.8" r="1.5"/><circle cx="492.3" cy="634.3" r="1.5"/><circle cx="490.6" cy="634.5" r="1.5"/><circle cx="489.0" cy="634.8" r="1.5"/><circle cx="484.1" cy="635.1" r="1.5"/><circle cx="487.4" cy="635.2" r="1.5"/><circle cx="492.3" cy="635.5" r="1.5"/><circle cx="489.0" cy="637.5" r="1.5"/></g>
<line x1="502.20" y1="647.00" x2="502.20" y2="649.30" stroke="#000" stroke-width="1.2"/>
<g fill="#0000ff" fill-opacity="0.6"><circle cx="502.2" cy="594.2" r="1.5"/><circle cx="502.2" cy="626.0" r="1.5"/><circle cx="505.5" cy="626.3" r="1.5"/><circle cx="498.9" cy="626.6" r="1.5"/><circle cx="507.1" cy="627.7" r="1.5"/><circle cx="500.6" cy="628.6" r="1.5"/><circle cx="497.2" cy="628.8" r="1.5"/><circle cx="497.2" cy="631.6" r="1.5"/><circle cx="507.1" cy="631.6" r="1.5"/><circle cx="500.6" cy="632.3" r="1.5"/></g>
<g fill="#00dd00" fill-opacity="0.6"><circle cx="503.8" cy="628.6" r="1.5"/><circle cx="507.1" cy="629.0" r="1.5"/><circle cx="502.2" cy="630.3" r="1.5"/><circle cx="498.9" cy="630.8" r="1.5"/><circle cx="500.6" cy="631.7" r="1.5"/><circle cx="497.2" cy="631.9" r="1.5"/><circle cx="507.1" cy="632.2" r="1.5"/><circle cx="497.2" cy="633.1" r="1.5"/></g>
<g fill="#a600ee" fill-opacity="0.6"><circle cx="505.5" cy="631.0" r="1.5"/><circle cx="503.8" cy="631.7" r="1.5"/><circle cx="502.2" cy="631.9" r="1.5"/><circle cx="503.8" cy="632.9" r="1.5"/><circle cx="505.5" cy="633.6" r="1.5"/><circle cx="498.9" cy="634.4" r="1.5"/><circle cx="502.2" cy="634.6" r="1.5"/><circle cx="507.1" cy="634.8" r="1.5"/><circle cx="497.2" cy="636.5" r="1.5"/><circle cx="503.8" cy="636.9" r="1.5"/></g>
<line x1="430.70" y1="608.98" x2="441.70" y2="608.98" stroke="#00ee00" stroke-width="1.1"/>
<line x1="436.20" y1="606.42" x2="436.20" y2="611.55" stroke="#00ee00" stroke-width="0.9"/>
<line x1="433.60" y1="606.42" x2="438.80" y2="606.42" stroke="#00ee00" stroke-width="0.9"/>
<line x1="433.60" y1="611.55" x2="438.80" y2="611.55" stroke="#00ee00" stroke-width="0.9"/>
<line x1="430.70" y1="609.14" x2="441.70" y2="609.14" stroke="#0000ee" stroke-width="1.1"/>
<line x1="436.20" y1="605.82" x2="436.20" y2="612.47" stroke="#0000ee" stroke-width="0.9"/>
<line x1="433.60" y1="605.82" x2="438.80" y2="605.82" stroke="#0000ee" stroke-width="0.9"/>
<line x1="433.60" y1="612.47" x2="438.80" y2="612.47" stroke="#0000ee" stroke-width="0.9"/>
<line x1="430.70" y1="606.98" x2="441.70" y2="606.98" stroke="#9c00e2" stroke-width="1.1"/>
<line x1="436.20" y1="603.89" x2="436.20" y2="610.06" stroke="#9c00e2" stroke-width="0.9"/>
<line x1="433.60" y1="603.89" x2="438.80" y2="603.89" stroke="#9c00e2" stroke-width="0.9"/>
<line x1="433.60" y1="610.06" x2="438.80" y2="610.06" stroke="#9c00e2" stroke-width="0.9"/>
<line x1="443.90" y1="613.00" x2="454.90" y2="613.00" stroke="#00ee00" stroke-width="1.1"/>
<line x1="449.40" y1="609.59" x2="449.40" y2="616.40" stroke="#00ee00" stroke-width="0.9"/>
<line x1="446.80" y1="609.59" x2="452.00" y2="609.59" stroke="#00ee00" stroke-width="0.9"/>
<line x1="446.80" y1="616.40" x2="452.00" y2="616.40" stroke="#00ee00" stroke-width="0.9"/>
<line x1="443.90" y1="613.00" x2="454.90" y2="613.00" stroke="#0000ee" stroke-width="1.1"/>
<line x1="449.40" y1="610.21" x2="449.40" y2="615.78" stroke="#0000ee" stroke-width="0.9"/>
<line x1="446.80" y1="610.21" x2="452.00" y2="610.21" stroke="#0000ee" stroke-width="0.9"/>
<line x1="446.80" y1="615.78" x2="452.00" y2="615.78" stroke="#0000ee" stroke-width="0.9"/>
<line x1="443.90" y1="613.00" x2="454.90" y2="613.00" stroke="#9c00e2" stroke-width="1.1"/>
<line x1="449.40" y1="610.13" x2="449.40" y2="615.87" stroke="#9c00e2" stroke-width="0.9"/>
<line x1="446.80" y1="610.13" x2="452.00" y2="610.13" stroke="#9c00e2" stroke-width="0.9"/>
<line x1="446.80" y1="615.87" x2="452.00" y2="615.87" stroke="#9c00e2" stroke-width="0.9"/>
<line x1="457.10" y1="609.51" x2="468.10" y2="609.51" stroke="#00ee00" stroke-width="1.1"/>
<line x1="462.60" y1="606.39" x2="462.60" y2="612.64" stroke="#00ee00" stroke-width="0.9"/>
<line x1="460.00" y1="606.39" x2="465.20" y2="606.39" stroke="#00ee00" stroke-width="0.9"/>
<line x1="460.00" y1="612.64" x2="465.20" y2="612.64" stroke="#00ee00" stroke-width="0.9"/>
<line x1="457.10" y1="614.95" x2="468.10" y2="614.95" stroke="#0000ee" stroke-width="1.1"/>
<line x1="462.60" y1="611.69" x2="462.60" y2="618.21" stroke="#0000ee" stroke-width="0.9"/>
<line x1="460.00" y1="611.69" x2="465.20" y2="611.69" stroke="#0000ee" stroke-width="0.9"/>
<line x1="460.00" y1="618.21" x2="465.20" y2="618.21" stroke="#0000ee" stroke-width="0.9"/>
<line x1="457.10" y1="614.95" x2="468.10" y2="614.95" stroke="#9c00e2" stroke-width="1.1"/>
<line x1="462.60" y1="612.02" x2="462.60" y2="617.88" stroke="#9c00e2" stroke-width="0.9"/>
<line x1="460.00" y1="612.02" x2="465.20" y2="612.02" stroke="#9c00e2" stroke-width="0.9"/>
<line x1="460.00" y1="617.88" x2="465.20" y2="617.88" stroke="#9c00e2" stroke-width="0.9"/>
<line x1="470.30" y1="631.16" x2="481.30" y2="631.16" stroke="#00ee00" stroke-width="1.1"/>
<line x1="475.80" y1="629.83" x2="475.80" y2="632.49" stroke="#00ee00" stroke-width="0.9"/>
<line x1="473.20" y1="629.83" x2="478.40" y2="629.83" stroke="#00ee00" stroke-width="0.9"/>
<line x1="473.20" y1="632.49" x2="478.40" y2="632.49" stroke="#00ee00" stroke-width="0.9"/>
<line x1="470.30" y1="630.16" x2="481.30" y2="630.16" stroke="#0000ee" stroke-width="1.1"/>
<line x1="475.80" y1="627.59" x2="475.80" y2="632.72" stroke="#0000ee" stroke-width="0.9"/>
<line x1="473.20" y1="627.59" x2="478.40" y2="627.59" stroke="#0000ee" stroke-width="0.9"/>
<line x1="473.20" y1="632.72" x2="478.40" y2="632.72" stroke="#0000ee" stroke-width="0.9"/>
<line x1="470.30" y1="629.10" x2="481.30" y2="629.10" stroke="#9c00e2" stroke-width="1.1"/>
<line x1="475.80" y1="627.27" x2="475.80" y2="630.93" stroke="#9c00e2" stroke-width="0.9"/>
<line x1="473.20" y1="627.27" x2="478.40" y2="627.27" stroke="#9c00e2" stroke-width="0.9"/>
<line x1="473.20" y1="630.93" x2="478.40" y2="630.93" stroke="#9c00e2" stroke-width="0.9"/>
<line x1="483.50" y1="630.95" x2="494.50" y2="630.95" stroke="#00ee00" stroke-width="1.1"/>
<line x1="489.00" y1="627.27" x2="489.00" y2="634.63" stroke="#00ee00" stroke-width="0.9"/>
<line x1="486.40" y1="627.27" x2="491.60" y2="627.27" stroke="#00ee00" stroke-width="0.9"/>
<line x1="486.40" y1="634.63" x2="491.60" y2="634.63" stroke="#00ee00" stroke-width="0.9"/>
<line x1="483.50" y1="632.22" x2="494.50" y2="632.22" stroke="#0000ee" stroke-width="1.1"/>
<line x1="489.00" y1="630.36" x2="489.00" y2="634.08" stroke="#0000ee" stroke-width="0.9"/>
<line x1="486.40" y1="630.36" x2="491.60" y2="630.36" stroke="#0000ee" stroke-width="0.9"/>
<line x1="486.40" y1="634.08" x2="491.60" y2="634.08" stroke="#0000ee" stroke-width="0.9"/>
<line x1="483.50" y1="634.49" x2="494.50" y2="634.49" stroke="#9c00e2" stroke-width="1.1"/>
<line x1="489.00" y1="633.21" x2="489.00" y2="635.77" stroke="#9c00e2" stroke-width="0.9"/>
<line x1="486.40" y1="633.21" x2="491.60" y2="633.21" stroke="#9c00e2" stroke-width="0.9"/>
<line x1="486.40" y1="635.77" x2="491.60" y2="635.77" stroke="#9c00e2" stroke-width="0.9"/>
<line x1="496.70" y1="631.16" x2="507.70" y2="631.16" stroke="#00ee00" stroke-width="1.1"/>
<line x1="502.20" y1="629.69" x2="502.20" y2="632.63" stroke="#00ee00" stroke-width="0.9"/>
<line x1="499.60" y1="629.69" x2="504.80" y2="629.69" stroke="#00ee00" stroke-width="0.9"/>
<line x1="499.60" y1="632.63" x2="504.80" y2="632.63" stroke="#00ee00" stroke-width="0.9"/>
<line x1="496.70" y1="629.63" x2="507.70" y2="629.63" stroke="#0000ee" stroke-width="1.1"/>
<line x1="502.20" y1="621.71" x2="502.20" y2="637.55" stroke="#0000ee" stroke-width="0.9"/>
<line x1="499.60" y1="621.71" x2="504.80" y2="621.71" stroke="#0000ee" stroke-width="0.9"/>
<line x1="499.60" y1="637.55" x2="504.80" y2="637.55" stroke="#0000ee" stroke-width="0.9"/>
<line x1="496.70" y1="633.27" x2="507.70" y2="633.27" stroke="#9c00e2" stroke-width="1.1"/>
<line x1="502.20" y1="631.30" x2="502.20" y2="635.24" stroke="#9c00e2" stroke-width="0.9"/>
<line x1="499.60" y1="631.30" x2="504.80" y2="631.30" stroke="#9c00e2" stroke-width="0.9"/>
<line x1="499.60" y1="635.24" x2="504.80" y2="635.24" stroke="#9c00e2" stroke-width="0.9"/>
<path d="M436.20,594.80 V593.70 H462.60 V594.80" fill="none" stroke="#3a3a3a" stroke-width="0.9"/>
<text x="449.40" y="596.30" font-size="8.0" text-anchor="middle" font-weight="bold" fill="#222">**</text>
<path d="M436.20,598.10 V597.00 H449.40 V598.10" fill="none" stroke="#3a3a3a" stroke-width="0.9"/>
<text x="442.80" y="599.60" font-size="8.0" text-anchor="middle" font-weight="bold" fill="#222">**</text>
<path d="M449.40,601.00 V599.90 H462.60 V601.00" fill="none" stroke="#3a3a3a" stroke-width="0.9"/>
<text x="456.00" y="599.10" font-size="6.0" text-anchor="middle" fill="#333">ns</text>
<path d="M475.80,616.70 V615.60 H502.20 V616.70" fill="none" stroke="#3a3a3a" stroke-width="0.9"/>
<text x="489.00" y="614.80" font-size="6.0" text-anchor="middle" fill="#333">ns</text>
<text x="426.80" y="656.80" font-size="7.1" text-anchor="end">Cleared</text>
<text x="436.20" y="656.00" font-size="7.0" text-anchor="middle">+</text>
<text x="449.40" y="656.00" font-size="7.0" text-anchor="middle">+</text>
<text x="462.60" y="656.00" font-size="7.0" text-anchor="middle">+</text>
<text x="475.80" y="656.00" font-size="7.0" text-anchor="middle">-</text>
<text x="489.00" y="656.00" font-size="7.0" text-anchor="middle">-</text>
<text x="502.20" y="656.00" font-size="7.0" text-anchor="middle">-</text>
<text x="426.80" y="667.10" font-size="7.1" text-anchor="end">Cell #</text>
<text x="438.80" y="661.30" font-size="7.1" text-anchor="end" transform="rotate(-55 438.80 661.30)">250</text>
<text x="452.00" y="661.30" font-size="7.1" text-anchor="end" transform="rotate(-55 452.00 661.30)">500</text>
<text x="465.20" y="661.30" font-size="7.1" text-anchor="end" transform="rotate(-55 465.20 661.30)">1,000</text>
<text x="478.40" y="661.30" font-size="7.1" text-anchor="end" transform="rotate(-55 478.40 661.30)">250</text>
<text x="491.60" y="661.30" font-size="7.1" text-anchor="end" transform="rotate(-55 491.60 661.30)">500</text>
<text x="504.80" y="661.30" font-size="7.1" text-anchor="end" transform="rotate(-55 504.80 661.30)">1,000</text>
<text x="0.50" y="557.10" font-size="8.5">g.</text>
<rect x="40.30" y="557.90" width="26.58" height="35.20" fill="#ff00ff"/>
<text x="53.44" y="577.85" font-size="6.2" text-anchor="middle" fill="#111">0.83</text>
<rect x="66.58" y="557.90" width="26.58" height="35.20" fill="#7300ff"/>
<text x="79.72" y="577.85" font-size="6.2" text-anchor="middle" fill="#111">0.77</text>
<rect x="92.86" y="557.90" width="26.58" height="35.20" fill="#5c00ff"/>
<text x="106.00" y="577.85" font-size="6.2" text-anchor="middle" fill="#111">0.76</text>
<rect x="119.14" y="557.90" width="26.58" height="35.20" fill="#edff00"/>
<text x="132.28" y="577.85" font-size="6.2" text-anchor="middle" fill="#111">0.40</text>
<rect x="145.42" y="557.90" width="26.58" height="35.20" fill="#ffb300"/>
<text x="158.56" y="577.85" font-size="6.2" text-anchor="middle" fill="#111">0.36</text>
<rect x="171.70" y="557.90" width="26.58" height="35.20" fill="#ffcb00"/>
<text x="184.84" y="577.85" font-size="6.2" text-anchor="middle" fill="#111">0.37</text>
<rect x="40.30" y="592.80" width="26.58" height="35.10" fill="#d000ff"/>
<text x="53.44" y="612.70" font-size="6.2" text-anchor="middle" fill="#111">0.81</text>
<rect x="66.58" y="592.80" width="26.58" height="35.10" fill="#1600ff"/>
<text x="79.72" y="612.70" font-size="6.2" text-anchor="middle" fill="#111">0.73</text>
<rect x="92.86" y="592.80" width="26.58" height="35.10" fill="#005fff"/>
<text x="106.00" y="612.70" font-size="6.2" text-anchor="middle" fill="#111">0.68</text>
<rect x="119.14" y="592.80" width="26.58" height="35.10" fill="#ff9c00"/>
<text x="132.28" y="612.70" font-size="6.2" text-anchor="middle" fill="#111">0.35</text>
<rect x="145.42" y="592.80" width="26.58" height="35.10" fill="#ff5600"/>
<text x="158.56" y="612.70" font-size="6.2" text-anchor="middle" fill="#111">0.32</text>
<rect x="171.70" y="592.80" width="26.58" height="35.10" fill="#ff6e00"/>
<text x="184.84" y="612.70" font-size="6.2" text-anchor="middle" fill="#111">0.33</text>
<rect x="40.30" y="627.60" width="26.58" height="35.10" fill="#1600ff"/>
<text x="53.44" y="647.50" font-size="6.2" text-anchor="middle" fill="#111">0.73</text>
<rect x="66.58" y="627.60" width="26.58" height="35.10" fill="#00a5ff"/>
<text x="79.72" y="647.50" font-size="6.2" text-anchor="middle" fill="#111">0.65</text>
<rect x="92.86" y="627.60" width="26.58" height="35.10" fill="#00bcff"/>
<text x="106.00" y="647.50" font-size="6.2" text-anchor="middle" fill="#111">0.64</text>
<rect x="119.14" y="627.60" width="26.58" height="35.10" fill="#ff5600"/>
<text x="132.28" y="647.50" font-size="6.2" text-anchor="middle" fill="#111">0.32</text>
<rect x="145.42" y="627.60" width="26.58" height="35.10" fill="#ff0000"/>
<text x="158.56" y="647.50" font-size="6.2" text-anchor="middle" fill="#111">0.28</text>
<rect x="171.70" y="627.60" width="26.58" height="35.10" fill="#ff0000"/>
<text x="184.84" y="647.50" font-size="6.2" text-anchor="middle" fill="#111">0.28</text>
<rect x="40.30" y="557.90" width="157.68" height="104.50" fill="none" stroke="#000" stroke-width="1.1"/>
<text x="77.60" y="554.60" font-size="8.6" text-anchor="middle">Cleared</text>
<text x="155.10" y="554.60" font-size="8.6" text-anchor="middle">Uncleared</text>
<text x="32.50" y="577.95" font-size="7.4" text-anchor="middle">3</text>
<text x="32.50" y="612.80" font-size="7.4" text-anchor="middle">5</text>
<text x="32.50" y="647.60" font-size="7.4" text-anchor="middle">7</text>
<text x="25.90" y="612.50" font-size="8.6" text-anchor="middle" transform="rotate(-90 25.90 612.50)">DIV</text>
<text x="53.44" y="671.20" font-size="7.4" text-anchor="middle">250</text>
<text x="79.72" y="671.20" font-size="7.4" text-anchor="middle">500</text>
<text x="106.00" y="671.20" font-size="7.4" text-anchor="middle">1,000</text>
<text x="132.28" y="671.20" font-size="7.4" text-anchor="middle">250</text>
<text x="158.56" y="671.20" font-size="7.4" text-anchor="middle">500</text>
<text x="184.84" y="671.20" font-size="7.4" text-anchor="middle">1,000</text>
<text x="118.90" y="683.80" font-size="8.6" text-anchor="middle">Cell number</text>
<defs><linearGradient id="cb" x1="0" y1="0" x2="0" y2="1"><stop offset="0.00" stop-color="#ff00ff"/><stop offset="0.10" stop-color="#8000ff"/><stop offset="0.20" stop-color="#0000ff"/><stop offset="0.30" stop-color="#007fff"/><stop offset="0.40" stop-color="#00ffff"/><stop offset="0.50" stop-color="#00ff80"/><stop offset="0.60" stop-color="#00ff00"/><stop offset="0.70" stop-color="#7fff00"/><stop offset="0.80" stop-color="#ffff00"/><stop offset="0.90" stop-color="#ff8000"/><stop offset="1.00" stop-color="#ff0000"/></linearGradient></defs>
<rect x="215.7" y="557.9" width="13.30" height="105.60" fill="url(#cb)" stroke="#000" stroke-width="1.1"/>
<line x1="215.70" y1="563.50" x2="217.50" y2="563.50" stroke="#000" stroke-width="1"/>
<line x1="227.20" y1="563.50" x2="229.00" y2="563.50" stroke="#000" stroke-width="1"/>
<text x="231.60" y="566.00" font-size="7.2">0.8</text>
<line x1="215.70" y1="602.40" x2="217.50" y2="602.40" stroke="#000" stroke-width="1"/>
<line x1="227.20" y1="602.40" x2="229.00" y2="602.40" stroke="#000" stroke-width="1"/>
<text x="231.60" y="604.90" font-size="7.2">0.6</text>
<line x1="215.70" y1="641.40" x2="217.50" y2="641.40" stroke="#000" stroke-width="1"/>
<line x1="227.20" y1="641.40" x2="229.00" y2="641.40" stroke="#000" stroke-width="1"/>
<text x="231.60" y="643.90" font-size="7.2">0.4</text>
<text x="212.30" y="610.70" font-size="8.8" text-anchor="middle" transform="rotate(-90 212.30 610.70)">Clearing metric</text>
</svg></body></html>
